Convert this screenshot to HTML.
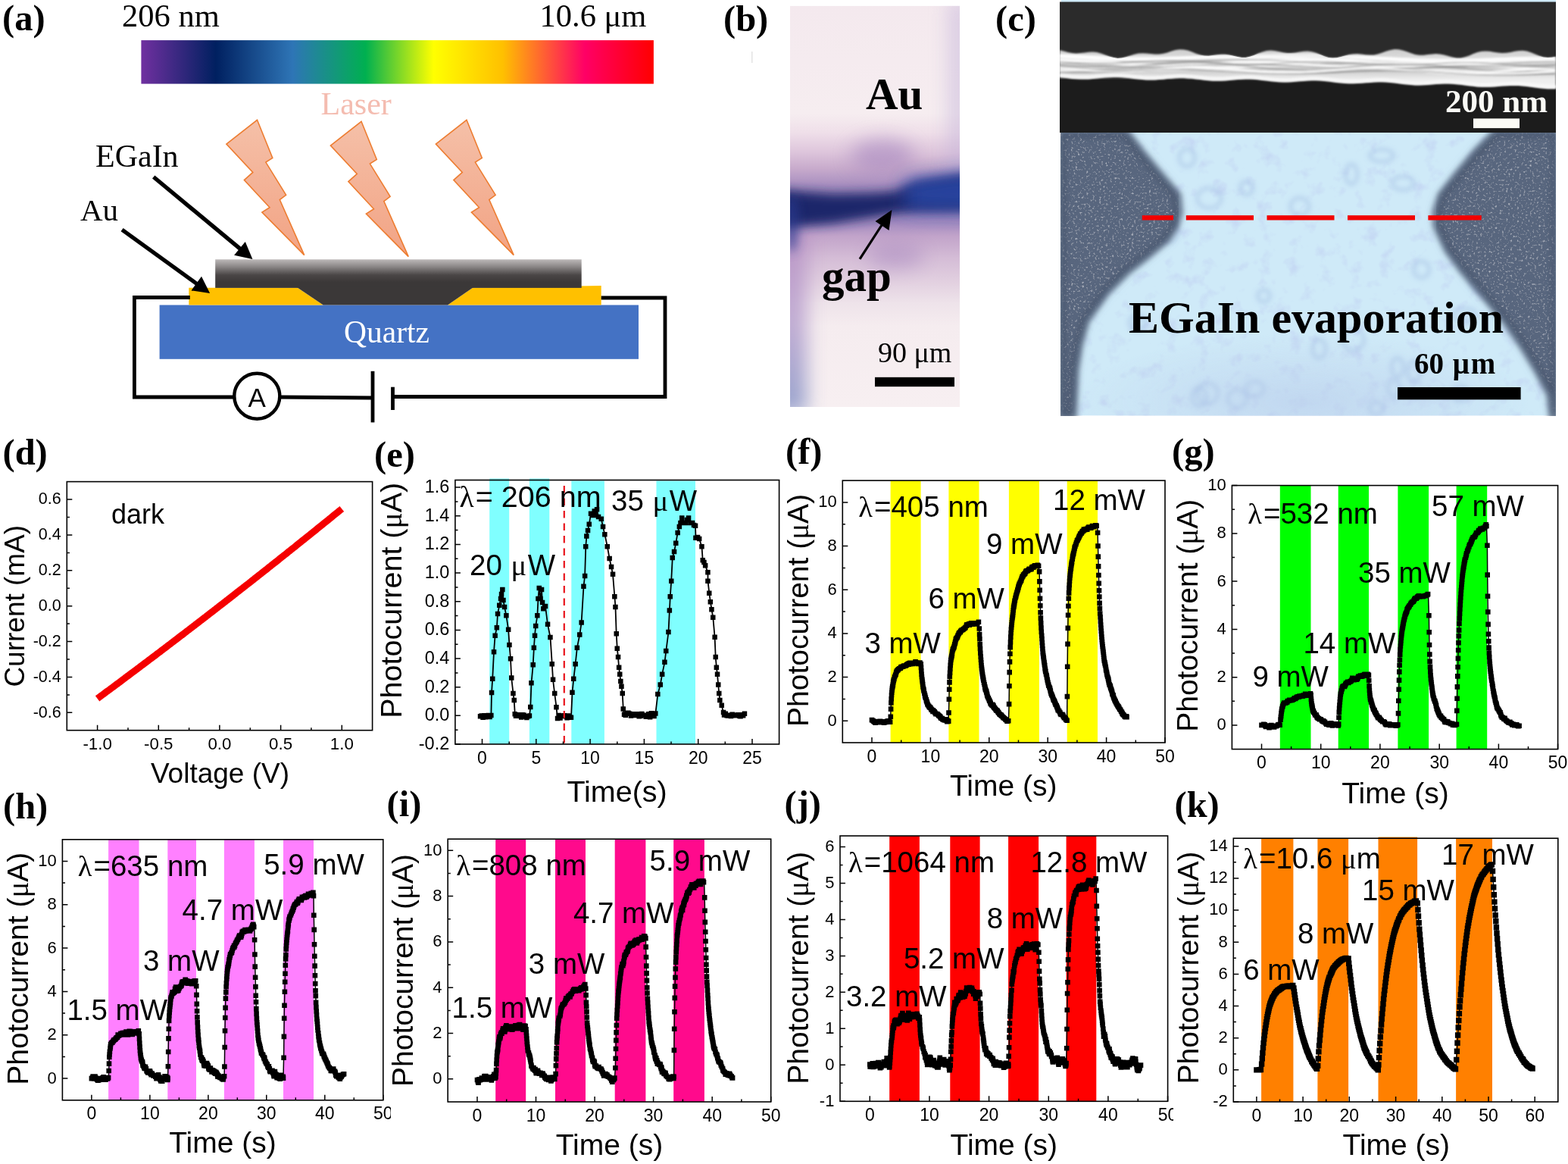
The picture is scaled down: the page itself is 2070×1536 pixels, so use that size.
<!DOCTYPE html><html><head><meta charset="utf-8"><title>Figure</title><style>html,body{margin:0;padding:0;background:#fff;}svg{display:block;}</style></head><body><svg xmlns="http://www.w3.org/2000/svg" width="2070" height="1536" viewBox="0 0 2070 1536"><defs><linearGradient id="spec" x1="0" y1="0" x2="1" y2="0"><stop offset="0" stop-color="#7030A0"/><stop offset="0.1455" stop-color="#002060"/><stop offset="0.2955" stop-color="#2E75B6"/><stop offset="0.438" stop-color="#00B050"/><stop offset="0.5706" stop-color="#FFFF00"/><stop offset="0.7056" stop-color="#FFC000"/><stop offset="0.8656" stop-color="#FF0066"/><stop offset="1" stop-color="#FF0000"/></linearGradient><linearGradient id="bolt" x1="0" y1="0" x2="0" y2="1"><stop offset="0" stop-color="#F5C0A8"/><stop offset="1" stop-color="#F2A384"/></linearGradient><linearGradient id="egain" x1="0" y1="0" x2="0" y2="1"><stop offset="0" stop-color="#BDB9B9"/><stop offset="0.25" stop-color="#8C8888"/><stop offset="0.55" stop-color="#4A4646"/><stop offset="0.8" stop-color="#3B3838"/><stop offset="1" stop-color="#3B3838"/></linearGradient><linearGradient id="bv" x1="0" y1="0" x2="0" y2="1"><stop offset="0.0000" stop-color="#F4E9EE"/><stop offset="0.2688" stop-color="#F6EDF0"/><stop offset="0.3161" stop-color="#EFDFE9"/><stop offset="0.3633" stop-color="#DEC6DC"/><stop offset="0.4049" stop-color="#C8ABCC"/><stop offset="0.4389" stop-color="#AE94C2"/><stop offset="0.4672" stop-color="#9A84B8"/><stop offset="0.5428" stop-color="#A48CC0"/><stop offset="0.5749" stop-color="#C2A4CA"/><stop offset="0.6278" stop-color="#D4BCD6"/><stop offset="0.6883" stop-color="#E2D0E0"/><stop offset="0.7412" stop-color="#EEE3EA"/><stop offset="0.7978" stop-color="#F5ECEF"/><stop offset="0.9991" stop-color="#F7EFF1"/></linearGradient><clipPath id="clipb"><rect x="1043" y="7.7" width="224" height="529.3"/></clipPath><filter id="bb7" filterUnits="userSpaceOnUse" x="0" y="0" width="2070" height="1536"><feGaussianBlur stdDeviation="7"/></filter><filter id="bb12" filterUnits="userSpaceOnUse" x="0" y="0" width="2070" height="1536"><feGaussianBlur stdDeviation="12"/></filter><linearGradient id="bleftv" x1="0" y1="0" x2="0" y2="1"><stop offset="0" stop-color="#B890C4"/><stop offset="0.5" stop-color="#B49CCC"/><stop offset="1" stop-color="#7E90C4"/></linearGradient><clipPath id="clipc"><rect x="1400.5" y="0" width="653.5" height="548.6"/></clipPath><clipPath id="clipsem"><rect x="1399" y="2.5" width="655" height="172.5"/></clipPath><filter id="blotch" filterUnits="userSpaceOnUse" x="1400" y="170" width="655" height="380"><feTurbulence type="fractalNoise" baseFrequency="0.05" numOctaves="3" seed="8"/><feColorMatrix type="matrix" values="0 0 0 0 0.52  0 0 0 0 0.62  0 0 0 0 0.88  3.2 0 0 0 -1.75"/></filter><filter id="noise" x="0" y="0" width="100%" height="100%"><feTurbulence type="fractalNoise" baseFrequency="0.35" numOctaves="2" seed="3" result="t"/><feColorMatrix type="matrix" values="0 0 0 0 0.85  0 0 0 0 0.88  0 0 0 0 0.95  0 0 0 1.6 -0.95" in="t" result="n"/><feComposite in="n" in2="SourceGraphic" operator="in" result="m"/><feMerge><feMergeNode in="SourceGraphic"/><feMergeNode in="m"/></feMerge></filter><filter id="blur3" filterUnits="userSpaceOnUse" x="0" y="0" width="2070" height="1536"><feGaussianBlur stdDeviation="3"/></filter><filter id="blur6" filterUnits="userSpaceOnUse" x="0" y="0" width="2070" height="1536"><feGaussianBlur stdDeviation="7"/></filter><radialGradient id="cshade" cx="0.5" cy="0.5" r="0.5"><stop offset="0" stop-color="#B8CBEA" stop-opacity="0.6"/><stop offset="1" stop-color="#B8CBEA" stop-opacity="0"/></radialGradient><linearGradient id="semb" x1="0" y1="0" x2="0" y2="1"><stop offset="0" stop-color="#CDCDCD"/><stop offset="0.3" stop-color="#E2E2E2"/><stop offset="0.5" stop-color="#C8C8C8"/><stop offset="0.75" stop-color="#ECECEC"/><stop offset="1" stop-color="#F7F7F7"/></linearGradient><filter id="blur1" filterUnits="userSpaceOnUse" x="0" y="0" width="2070" height="1536"><feGaussianBlur stdDeviation="1.2"/></filter><clipPath id="semband"><polygon points="1399,66.3 1404.5,67.5 1409.9,68.9 1415.4,69.9 1420.8,70.4 1426.3,70.1 1431.8,69.4 1437.2,68.7 1442.7,68.4 1448.1,69 1453.6,70.4 1459,72.4 1464.5,74.5 1470,76.1 1475.4,76.9 1480.9,76.6 1486.3,75.3 1491.8,73.5 1497.2,71.8 1502.7,70.6 1508.2,70.2 1513.6,70.4 1519.1,71.1 1524.5,71.6 1530,71.6 1535.5,70.8 1540.9,69.4 1546.4,67.6 1551.8,66 1557.3,65.2 1562.8,65.4 1568.2,66.6 1573.7,68.6 1579.1,70.7 1584.6,72.5 1590,73.5 1595.5,73.7 1601,73.1 1606.4,72.3 1611.9,71.7 1617.3,71.8 1622.8,72.5 1628.2,73.8 1633.7,75.1 1639.2,75.9 1644.6,75.9 1650.1,74.8 1655.5,72.9 1661,70.6 1666.5,68.5 1671.9,67.1 1677.4,66.6 1682.8,67 1688.3,68 1693.8,69.2 1699.2,69.9 1704.7,70 1710.1,69.4 1715.6,68.5 1721,67.7 1726.5,67.5 1732,68.2 1737.4,69.8 1742.9,72 1748.3,74.2 1753.8,75.9 1759.2,76.6 1764.7,76.3 1770.2,75.1 1775.6,73.5 1781.1,72 1786.5,71.2 1792,71 1797.5,71.5 1802.9,72.2 1808.4,72.6 1813.8,72.4 1819.3,71.3 1824.8,69.6 1830.2,67.6 1835.7,65.9 1841.1,65.1 1846.6,65.3 1852,66.5 1857.5,68.3 1863,70.3 1868.4,71.9 1873.9,72.7 1879.3,72.7 1884.8,72.1 1890.2,71.4 1895.7,71.1 1901.2,71.4 1906.6,72.5 1912.1,74 1917.5,75.5 1923,76.4 1928.5,76.4 1933.9,75.3 1939.4,73.4 1944.8,71.1 1950.3,69.1 1955.8,67.8 1961.2,67.4 1966.7,67.8 1972.1,68.7 1977.6,69.6 1983,70 1988.5,69.7 1994,68.9 1999.4,67.7 2004.9,66.9 2010.3,66.7 2015.8,67.5 2021.2,69.3 2026.7,71.5 2032.2,73.7 2037.6,75.4 2043.1,76.1 2048.5,75.8 2054,74.7 2054,117.2 2048.5,117.3 2043.1,117.2 2037.6,116.8 2032.2,116.3 2026.7,115.6 2021.2,114.8 2015.8,114.1 2010.3,113.5 2004.9,113.1 1999.4,112.9 1994,113 1988.5,113.2 1983,113.5 1977.6,114 1972.1,114.4 1966.7,114.7 1961.2,114.8 1955.8,114.7 1950.3,114.4 1944.8,113.8 1939.4,113.2 1933.9,112.5 1928.5,111.8 1923,111.2 1917.5,110.7 1912.1,110.5 1906.6,110.5 1901.2,110.7 1895.7,111.1 1890.2,111.5 1884.8,112 1879.3,112.3 1873.9,112.4 1868.4,112.4 1863,112.1 1857.5,111.6 1852,111 1846.6,110.3 1841.1,109.6 1835.7,109 1830.2,108.5 1824.8,108.3 1819.3,108.3 1813.8,108.5 1808.4,108.9 1802.9,109.3 1797.5,109.8 1792,110.1 1786.5,110.3 1781.1,110.3 1775.6,110 1770.2,109.6 1764.7,109 1759.2,108.3 1753.8,107.6 1748.3,107 1742.9,106.6 1737.4,106.3 1732,106.3 1726.5,106.5 1721,106.9 1715.6,107.3 1710.1,107.8 1704.7,108.2 1699.2,108.4 1693.8,108.4 1688.3,108.2 1682.8,107.8 1677.4,107.2 1671.9,106.6 1666.5,105.9 1661,105.3 1655.5,104.8 1650.1,104.6 1644.6,104.6 1639.2,104.8 1633.7,105.1 1628.2,105.6 1622.8,106.1 1617.3,106.5 1611.9,106.7 1606.4,106.8 1601,106.7 1595.5,106.3 1590,105.7 1584.6,105.1 1579.1,104.4 1573.7,103.8 1568.2,103.4 1562.8,103.1 1557.3,103.1 1551.8,103.3 1546.4,103.7 1540.9,104.1 1535.5,104.7 1530,105.1 1524.5,105.4 1519.1,105.5 1513.6,105.4 1508.2,105.1 1502.7,104.6 1497.2,104 1491.8,103.3 1486.3,102.7 1480.9,102.3 1475.4,102 1470,102 1464.5,102.2 1459,102.6 1453.6,103.1 1448.1,103.6 1442.7,104.1 1437.2,104.5 1431.8,104.6 1426.3,104.6 1420.8,104.3 1415.4,103.9 1409.9,103.3 1404.5,102.7 1399,102.2"/></clipPath><clipPath id="xc516"><rect x="0" y="0" width="516" height="1536"/></clipPath><clipPath id="xc1549"><rect x="0" y="0" width="1549" height="1536"/></clipPath></defs><rect width="2070" height="1536" fill="#fff"/><text x="3" y="40" font-family="'Liberation Serif', 'Times New Roman', serif" font-size="48.5" font-weight="bold" fill="#000" text-anchor="start" >(a)</text>
<rect x="186.4" y="53.1" width="676.5" height="57.5" fill="url(#spec)"/>
<text x="161" y="35" font-family="'Liberation Serif', 'Times New Roman', serif" font-size="42.5" font-weight="normal" fill="#000" text-anchor="start" >206 nm</text>
<text x="712.5" y="35" font-family="'Liberation Serif', 'Times New Roman', serif" font-size="42.5" font-weight="normal" fill="#000" text-anchor="start" >10.6 &#956;m</text>
<text x="423.5" y="150.8" font-family="'Liberation Serif', 'Times New Roman', serif" font-size="42" font-weight="normal" fill="#F4BCB0" text-anchor="start" >Laser</text>
<polygon points="339.5,158.3 359.8,208.4 350.9,214.1 377.6,257.3 369.3,263.6 401.7,336.6 345.9,280.1 356,273.8 322.4,237.6 333.8,227.4 298.9,190" fill="url(#bolt)" stroke="#ED7D31" stroke-width="1.6" stroke-linejoin="miter"/>
<polygon points="477,160.3 497.3,210.4 488.4,216.1 515.1,259.3 506.8,265.6 539.2,338.6 483.4,282.1 493.5,275.8 459.9,239.6 471.3,229.4 436.4,192" fill="url(#bolt)" stroke="#ED7D31" stroke-width="1.6" stroke-linejoin="miter"/>
<polygon points="616,158.3 636.3,208.4 627.4,214.1 654.1,257.3 645.8,263.6 678.2,336.6 622.4,280.1 632.5,273.8 598.9,237.6 610.3,227.4 575.4,190" fill="url(#bolt)" stroke="#ED7D31" stroke-width="1.6" stroke-linejoin="miter"/>
<rect x="210.6" y="402.5" width="632.4" height="71.3" fill="#4472C4"/>
<text x="454" y="452" font-family="'Liberation Serif', 'Times New Roman', serif" font-size="41.5" font-weight="normal" fill="#fff" text-anchor="start" >Quartz</text>
<polygon points="249.3,379.7 392.9,379.7 426.7,402.5 249.3,402.5" fill="#FFC000"/>
<polygon points="624,379.7 793.7,377 793.7,402.5 591,402.5" fill="#FFC000"/>
<rect x="284.2" y="342.3" width="483.5" height="37.6" fill="url(#egain)"/>
<polygon points="391.5,378.7 625.5,378.7 591,402.5 426.7,402.5" fill="#3B3838"/>
<text x="126" y="219.7" font-family="'Liberation Serif', 'Times New Roman', serif" font-size="42" font-weight="normal" fill="#000" text-anchor="start" >EGaIn</text>
<text x="106" y="290.8" font-family="'Liberation Serif', 'Times New Roman', serif" font-size="41" font-weight="normal" fill="#000" text-anchor="start" >Au</text>
<line x1="202.7" y1="233.5" x2="318" y2="329.1" stroke="#000" stroke-width="5.3"/>
<polygon points="333.4,341.9 309.1,336.7 323.8,319" fill="#000"/>
<line x1="161.1" y1="303.2" x2="260.9" y2="375.3" stroke="#000" stroke-width="5.3"/>
<polygon points="277.1,387 252.5,383.4 266,364.8" fill="#000"/>
<polyline points="250.8,392.5 177.4,392.5 177.4,524 309,524" fill="none" stroke="#000" stroke-width="4.8" stroke-linejoin="miter"/>
<line x1="369.5" y1="524" x2="492" y2="525" stroke="#000" stroke-width="4.8"/>
<polyline points="793.7,393 878,393 878,523.5 518.5,523.5" fill="none" stroke="#000" stroke-width="4.8" stroke-linejoin="miter"/>
<circle cx="339.3" cy="522.7" r="30" fill="#fff" stroke="#000" stroke-width="4.4"/>
<text x="339.3" y="537.2" font-family="'Liberation Sans', Arial, sans-serif" font-size="35" font-weight="normal" fill="#000" text-anchor="middle" >A</text>
<line x1="492" y1="489.8" x2="492" y2="557.4" stroke="#000" stroke-width="4.8"/>
<line x1="518.5" y1="510.7" x2="518.5" y2="541" stroke="#000" stroke-width="4.8"/>
<text x="955" y="41" font-family="'Liberation Serif', 'Times New Roman', serif" font-size="48.5" font-weight="bold" fill="#000" text-anchor="start" >(b)</text>
<line x1="992.8" y1="68" x2="992.8" y2="83" stroke="#A0A0A0" stroke-width="1.2" opacity="0.35"/>
<g clip-path="url(#clipb)">
<rect x="1043" y="7.7" width="224" height="529.3" fill="url(#bv)"/>
<ellipse cx="1165" cy="205" rx="42" ry="22" fill="#A282BC" opacity="0.55" filter="url(#bb12)"/>
<ellipse cx="1182" cy="338" rx="38" ry="16" fill="#A080BC" opacity="0.45" filter="url(#bb12)"/>
<rect x="1252" y="0" width="30" height="230" fill="#C4B4DA" opacity="0.55" filter="url(#bb12)"/>
<rect x="1020" y="300" width="45" height="245" fill="url(#bleftv)" opacity="0.8" filter="url(#bb12)"/>
<polygon points="1030,251 1100,256 1150,255 1180,253 1210,240 1280,229 1280,278 1210,279 1180,282 1150,287 1100,295 1030,301" fill="#1C276A" filter="url(#bb7)"/>
<polygon points="1195,238 1290,226 1290,278 1195,276" fill="#2A4CAC" opacity="0.8" filter="url(#bb12)"/>
<ellipse cx="1045" cy="295" rx="9" ry="38" fill="#2A3A90" opacity="0.7" filter="url(#bb7)"/>
</g>
<text x="1143" y="144" font-family="'Liberation Serif', 'Times New Roman', serif" font-size="59" font-weight="bold" fill="#000" text-anchor="start" >Au</text>
<text x="1085" y="384" font-family="'Liberation Serif', 'Times New Roman', serif" font-size="59" font-weight="bold" fill="#000" text-anchor="start" >gap</text>
<line x1="1135" y1="341.8" x2="1166" y2="294" stroke="#000" stroke-width="3.2"/>
<polygon points="1177.4,277 1173.6,304 1155.5,292" fill="#000"/>
<text x="1159" y="478" font-family="'Liberation Serif', 'Times New Roman', serif" font-size="38" font-weight="normal" fill="#000" text-anchor="start" >90 &#956;m</text>
<rect x="1155" y="497.8" width="105" height="12.4" fill="#000"/>
<text x="1314" y="41" font-family="'Liberation Serif', 'Times New Roman', serif" font-size="48.5" font-weight="bold" fill="#000" text-anchor="start" >(c)</text>
<g clip-path="url(#clipc)">
<rect x="1400.5" y="0" width="653.5" height="548.6" fill="#CFEAF8"/>
<rect x="1400" y="170" width="655" height="380" filter="url(#blotch)" opacity="0.55"/>
<g filter="url(#blur3)"><ellipse cx="1786.5" cy="448.3" rx="14.4" ry="13.7" fill="none" stroke="#9AB4E0" stroke-width="4" opacity="0.5"/><ellipse cx="1840.4" cy="512.4" rx="8.2" ry="10.8" fill="none" stroke="#9AB4E0" stroke-width="4" opacity="0.5"/><ellipse cx="1933.9" cy="415.4" rx="15.2" ry="8.7" fill="none" stroke="#9AB4E0" stroke-width="4" opacity="0.5"/><ellipse cx="1715.8" cy="272.5" rx="12.4" ry="11.4" fill="none" stroke="#9AB4E0" stroke-width="4" opacity="0.5"/><ellipse cx="1506" cy="261.9" rx="10.2" ry="13.5" fill="none" stroke="#9AB4E0" stroke-width="4" opacity="0.5"/><ellipse cx="1852.2" cy="241.7" rx="14.4" ry="8.8" fill="none" stroke="#9AB4E0" stroke-width="4" opacity="0.5"/><ellipse cx="1784" cy="230" rx="8" ry="13.2" fill="none" stroke="#9AB4E0" stroke-width="4" opacity="0.5"/><ellipse cx="1596.3" cy="261.5" rx="15.9" ry="13.2" fill="none" stroke="#9AB4E0" stroke-width="4" opacity="0.5"/><ellipse cx="1633.1" cy="526.3" rx="12.3" ry="12.1" fill="none" stroke="#9AB4E0" stroke-width="4" opacity="0.5"/><ellipse cx="1594.2" cy="519" rx="13.5" ry="13.8" fill="none" stroke="#9AB4E0" stroke-width="4" opacity="0.5"/><ellipse cx="1911.1" cy="291.1" rx="10.9" ry="9" fill="none" stroke="#9AB4E0" stroke-width="4" opacity="0.5"/><ellipse cx="1567" cy="208.1" rx="10.4" ry="11.6" fill="none" stroke="#9AB4E0" stroke-width="4" opacity="0.5"/><ellipse cx="1501.6" cy="425.7" rx="10.7" ry="9.9" fill="none" stroke="#9AB4E0" stroke-width="4" opacity="0.5"/><ellipse cx="1876.5" cy="355.7" rx="10.5" ry="10.9" fill="none" stroke="#9AB4E0" stroke-width="4" opacity="0.5"/><ellipse cx="1824.1" cy="205.2" rx="15.8" ry="8.1" fill="none" stroke="#9AB4E0" stroke-width="4" opacity="0.5"/><ellipse cx="1844.9" cy="484.9" rx="8.1" ry="12.7" fill="none" stroke="#9AB4E0" stroke-width="4" opacity="0.5"/><ellipse cx="1668.4" cy="390.4" rx="8.1" ry="8.3" fill="none" stroke="#9AB4E0" stroke-width="4" opacity="0.5"/><ellipse cx="1583.2" cy="524.1" rx="9.6" ry="12.5" fill="none" stroke="#9AB4E0" stroke-width="4" opacity="0.5"/><ellipse cx="1927.6" cy="519.4" rx="10.8" ry="10.1" fill="none" stroke="#9AB4E0" stroke-width="4" opacity="0.5"/><ellipse cx="1741.4" cy="460.3" rx="8.9" ry="12.5" fill="none" stroke="#9AB4E0" stroke-width="4" opacity="0.5"/><ellipse cx="1866.7" cy="490.2" rx="8.3" ry="13.7" fill="none" stroke="#9AB4E0" stroke-width="4" opacity="0.5"/><ellipse cx="1541.9" cy="306" rx="12.9" ry="13.5" fill="none" stroke="#9AB4E0" stroke-width="4" opacity="0.5"/><ellipse cx="1656.4" cy="513.1" rx="12.4" ry="9.9" fill="none" stroke="#9AB4E0" stroke-width="4" opacity="0.5"/><ellipse cx="1645.7" cy="248" rx="8.6" ry="8.9" fill="none" stroke="#9AB4E0" stroke-width="4" opacity="0.5"/><ellipse cx="1817" cy="538.8" rx="9.3" ry="8.3" fill="none" stroke="#9AB4E0" stroke-width="4" opacity="0.5"/><ellipse cx="1953.9" cy="374.4" rx="11.2" ry="9.4" fill="none" stroke="#9AB4E0" stroke-width="4" opacity="0.5"/></g>
<ellipse cx="1720" cy="530" rx="300" ry="90" fill="url(#cshade)"/>
<polygon points="1400.5,175 1486,175 1505,200 1530,230 1554,258 1556,280 1551,298 1540,315 1510,340 1488,357 1460,385 1433,423 1424,455 1419,488 1416,548.6 1400.5,548.6" fill="#8A9CB8" filter="url(#blur6)"/>
<g filter="url(#noise)"><polygon points="1400.5,175 1486,175 1505,200 1530,230 1554,258 1556,280 1551,298 1540,315 1510,340 1488,357 1460,385 1433,423 1424,455 1419,488 1416,548.6 1400.5,548.6" fill="#58667E" filter="url(#blur3)"/></g>
<polygon points="1400.5,175 1486,175 1505,200 1530,230 1554,258 1556,280 1551,298 1540,315 1510,340 1488,357 1460,385 1433,423 1424,455 1419,488 1416,548.6 1400.5,548.6" fill="none" stroke="#3E4C64" stroke-width="12" opacity="0.6" filter="url(#blur3)"/>
<polygon points="2054,175 1975,175 1950,200 1925,230 1903,258 1896,280 1897,298 1912,330 1932,357 1960,390 1988,423 2010,455 2030,488 2047,520 2050,548.6 2054,548.6" fill="#8A9CB8" filter="url(#blur6)"/>
<g filter="url(#noise)"><polygon points="2054,175 1975,175 1950,200 1925,230 1903,258 1896,280 1897,298 1912,330 1932,357 1960,390 1988,423 2010,455 2030,488 2047,520 2050,548.6 2054,548.6" fill="#58667E" filter="url(#blur3)"/></g>
<polygon points="2054,175 1975,175 1950,200 1925,230 1903,258 1896,280 1897,298 1912,330 1932,357 1960,390 1988,423 2010,455 2030,488 2047,520 2050,548.6 2054,548.6" fill="none" stroke="#3E4C64" stroke-width="12" opacity="0.6" filter="url(#blur3)"/>
</g>
<g clip-path="url(#clipsem)">
<rect x="1399" y="2.5" width="655" height="172.5" fill="#2B2B2B"/>
<rect x="1399" y="105" width="655" height="70" fill="#1C1C1C"/>
<polygon points="1399,66.3 1404.5,67.5 1409.9,68.9 1415.4,69.9 1420.8,70.4 1426.3,70.1 1431.8,69.4 1437.2,68.7 1442.7,68.4 1448.1,69 1453.6,70.4 1459,72.4 1464.5,74.5 1470,76.1 1475.4,76.9 1480.9,76.6 1486.3,75.3 1491.8,73.5 1497.2,71.8 1502.7,70.6 1508.2,70.2 1513.6,70.4 1519.1,71.1 1524.5,71.6 1530,71.6 1535.5,70.8 1540.9,69.4 1546.4,67.6 1551.8,66 1557.3,65.2 1562.8,65.4 1568.2,66.6 1573.7,68.6 1579.1,70.7 1584.6,72.5 1590,73.5 1595.5,73.7 1601,73.1 1606.4,72.3 1611.9,71.7 1617.3,71.8 1622.8,72.5 1628.2,73.8 1633.7,75.1 1639.2,75.9 1644.6,75.9 1650.1,74.8 1655.5,72.9 1661,70.6 1666.5,68.5 1671.9,67.1 1677.4,66.6 1682.8,67 1688.3,68 1693.8,69.2 1699.2,69.9 1704.7,70 1710.1,69.4 1715.6,68.5 1721,67.7 1726.5,67.5 1732,68.2 1737.4,69.8 1742.9,72 1748.3,74.2 1753.8,75.9 1759.2,76.6 1764.7,76.3 1770.2,75.1 1775.6,73.5 1781.1,72 1786.5,71.2 1792,71 1797.5,71.5 1802.9,72.2 1808.4,72.6 1813.8,72.4 1819.3,71.3 1824.8,69.6 1830.2,67.6 1835.7,65.9 1841.1,65.1 1846.6,65.3 1852,66.5 1857.5,68.3 1863,70.3 1868.4,71.9 1873.9,72.7 1879.3,72.7 1884.8,72.1 1890.2,71.4 1895.7,71.1 1901.2,71.4 1906.6,72.5 1912.1,74 1917.5,75.5 1923,76.4 1928.5,76.4 1933.9,75.3 1939.4,73.4 1944.8,71.1 1950.3,69.1 1955.8,67.8 1961.2,67.4 1966.7,67.8 1972.1,68.7 1977.6,69.6 1983,70 1988.5,69.7 1994,68.9 1999.4,67.7 2004.9,66.9 2010.3,66.7 2015.8,67.5 2021.2,69.3 2026.7,71.5 2032.2,73.7 2037.6,75.4 2043.1,76.1 2048.5,75.8 2054,74.7 2054,117.2 2048.5,117.3 2043.1,117.2 2037.6,116.8 2032.2,116.3 2026.7,115.6 2021.2,114.8 2015.8,114.1 2010.3,113.5 2004.9,113.1 1999.4,112.9 1994,113 1988.5,113.2 1983,113.5 1977.6,114 1972.1,114.4 1966.7,114.7 1961.2,114.8 1955.8,114.7 1950.3,114.4 1944.8,113.8 1939.4,113.2 1933.9,112.5 1928.5,111.8 1923,111.2 1917.5,110.7 1912.1,110.5 1906.6,110.5 1901.2,110.7 1895.7,111.1 1890.2,111.5 1884.8,112 1879.3,112.3 1873.9,112.4 1868.4,112.4 1863,112.1 1857.5,111.6 1852,111 1846.6,110.3 1841.1,109.6 1835.7,109 1830.2,108.5 1824.8,108.3 1819.3,108.3 1813.8,108.5 1808.4,108.9 1802.9,109.3 1797.5,109.8 1792,110.1 1786.5,110.3 1781.1,110.3 1775.6,110 1770.2,109.6 1764.7,109 1759.2,108.3 1753.8,107.6 1748.3,107 1742.9,106.6 1737.4,106.3 1732,106.3 1726.5,106.5 1721,106.9 1715.6,107.3 1710.1,107.8 1704.7,108.2 1699.2,108.4 1693.8,108.4 1688.3,108.2 1682.8,107.8 1677.4,107.2 1671.9,106.6 1666.5,105.9 1661,105.3 1655.5,104.8 1650.1,104.6 1644.6,104.6 1639.2,104.8 1633.7,105.1 1628.2,105.6 1622.8,106.1 1617.3,106.5 1611.9,106.7 1606.4,106.8 1601,106.7 1595.5,106.3 1590,105.7 1584.6,105.1 1579.1,104.4 1573.7,103.8 1568.2,103.4 1562.8,103.1 1557.3,103.1 1551.8,103.3 1546.4,103.7 1540.9,104.1 1535.5,104.7 1530,105.1 1524.5,105.4 1519.1,105.5 1513.6,105.4 1508.2,105.1 1502.7,104.6 1497.2,104 1491.8,103.3 1486.3,102.7 1480.9,102.3 1475.4,102 1470,102 1464.5,102.2 1459,102.6 1453.6,103.1 1448.1,103.6 1442.7,104.1 1437.2,104.5 1431.8,104.6 1426.3,104.6 1420.8,104.3 1415.4,103.9 1409.9,103.3 1404.5,102.7 1399,102.2" fill="url(#semb)" filter="url(#blur1)"/>
<g clip-path="url(#semband)"><g filter="url(#blur1)"><path d="M1399,86.3 L1405,86.7 L1411,87.1 L1417,87.5 L1423,87.8 L1429,88.2 L1435,88.6 L1441,89 L1447,89.3 L1453,89.7 L1459,90 L1465,90.3 L1471,90.6 L1477,90.9 L1483,91.1 L1489,91.3 L1495,91.5 L1501,91.7 L1507,91.8 L1513,91.9 L1519,92 L1525,92 L1531,92 L1537,92 L1543,91.9 L1549,91.8 L1555,91.7 L1561,91.6 L1567,91.4 L1573,91.2 L1579,91 L1585,90.7 L1591,90.5 L1597,90.2 L1603,89.9 L1609,89.6 L1615,89.3 L1621,89 L1627,88.7 L1633,88.4 L1639,88.1 L1645,87.8 L1651,87.5 L1657,87.2 L1663,87 L1669,86.8 L1675,86.5 L1681,86.4 L1687,86.2 L1693,86.1 L1699,86 L1705,85.9 L1711,85.9 L1717,85.8 L1723,85.9 L1729,85.9 L1735,86 L1741,86.1 L1747,86.3 L1753,86.5 L1759,86.7 L1765,86.9 L1771,87.2 L1777,87.5 L1783,87.8 L1789,88.1 L1795,88.4 L1801,88.8 L1807,89.2 L1813,89.5 L1819,89.9 L1825,90.3 L1831,90.7 L1837,91 L1843,91.4 L1849,91.8 L1855,92.1 L1861,92.5 L1867,92.8 L1873,93.1 L1879,93.3 L1885,93.6 L1891,93.8 L1897,94 L1903,94.1 L1909,94.3 L1915,94.4 L1921,94.4 L1927,94.5 L1933,94.5 L1939,94.4 L1945,94.4 L1951,94.3 L1957,94.2 L1963,94 L1969,93.8 L1975,93.6 L1981,93.4 L1987,93.2 L1993,92.9 L1999,92.6 L2005,92.3 L2011,92 L2017,91.7 L2023,91.4 L2029,91.1 L2035,90.8 L2041,90.5 L2047,90.2 L2053,90" fill="none" stroke="#FFFFFF" stroke-width="3.8" opacity="0.75"/><path d="M1399,94.2 L1405,94.2 L1411,94.2 L1417,94.1 L1423,94 L1429,93.9 L1435,93.8 L1441,93.6 L1447,93.4 L1453,93.1 L1459,92.9 L1465,92.6 L1471,92.3 L1477,92 L1483,91.8 L1489,91.5 L1495,91.2 L1501,91 L1507,90.7 L1513,90.5 L1519,90.4 L1525,90.2 L1531,90.1 L1537,90 L1543,90 L1549,90 L1555,90 L1561,90.1 L1567,90.2 L1573,90.4 L1579,90.6 L1585,90.8 L1591,91 L1597,91.3 L1603,91.6 L1609,92 L1615,92.3 L1621,92.6 L1627,93 L1633,93.4 L1639,93.7 L1645,94 L1651,94.4 L1657,94.7 L1663,95 L1669,95.2 L1675,95.4 L1681,95.6 L1687,95.8 L1693,95.9 L1699,96 L1705,96 L1711,96 L1717,96 L1723,95.9 L1729,95.8 L1735,95.7 L1741,95.5 L1747,95.3 L1753,95.1 L1759,94.8 L1765,94.6 L1771,94.3 L1777,94 L1783,93.7 L1789,93.5 L1795,93.2 L1801,92.9 L1807,92.7 L1813,92.5 L1819,92.3 L1825,92.1 L1831,92 L1837,91.9 L1843,91.9 L1849,91.8 L1855,91.9 L1861,91.9 L1867,92 L1873,92.1 L1879,92.3 L1885,92.5 L1891,92.8 L1897,93 L1903,93.3 L1909,93.6 L1915,94 L1921,94.3 L1927,94.7 L1933,95 L1939,95.4 L1945,95.7 L1951,96.1 L1957,96.4 L1963,96.7 L1969,96.9 L1975,97.2 L1981,97.4 L1987,97.6 L1993,97.7 L1999,97.8 L2005,97.9 L2011,97.9 L2017,97.9 L2023,97.8 L2029,97.7 L2035,97.6 L2041,97.5 L2047,97.3 L2053,97.1" fill="none" stroke="#8C8C8C" stroke-width="2.7" opacity="0.45"/><path d="M1399,73.9 L1405,74 L1411,74.1 L1417,74.4 L1423,74.7 L1429,75.1 L1435,75.6 L1441,76.1 L1447,76.7 L1453,77.3 L1459,77.9 L1465,78.4 L1471,78.9 L1477,79.4 L1483,79.8 L1489,80 L1495,80.3 L1501,80.4 L1507,80.4 L1513,80.3 L1519,80.1 L1525,79.8 L1531,79.4 L1537,79 L1543,78.5 L1549,78.1 L1555,77.5 L1561,77.1 L1567,76.6 L1573,76.2 L1579,75.8 L1585,75.5 L1591,75.3 L1597,75.2 L1603,75.2 L1609,75.2 L1615,75.4 L1621,75.7 L1627,76.1 L1633,76.5 L1639,77 L1645,77.6 L1651,78.1 L1657,78.7 L1663,79.3 L1669,79.8 L1675,80.3 L1681,80.7 L1687,81.1 L1693,81.4 L1699,81.5 L1705,81.6 L1711,81.6 L1717,81.4 L1723,81.2 L1729,80.9 L1735,80.5 L1741,80.1 L1747,79.6 L1753,79.1 L1759,78.6 L1765,78.1 L1771,77.7 L1777,77.2 L1783,76.9 L1789,76.6 L1795,76.5 L1801,76.4 L1807,76.4 L1813,76.5 L1819,76.8 L1825,77.1 L1831,77.5 L1837,77.9 L1843,78.4 L1849,79 L1855,79.6 L1861,80.2 L1867,80.7 L1873,81.2 L1879,81.7 L1885,82.1 L1891,82.4 L1897,82.7 L1903,82.8 L1909,82.8 L1915,82.8 L1921,82.6 L1927,82.3 L1933,82 L1939,81.6 L1945,81.2 L1951,80.7 L1957,80.2 L1963,79.7 L1969,79.2 L1975,78.7 L1981,78.3 L1987,78 L1993,77.8 L1999,77.7 L2005,77.6 L2011,77.7 L2017,77.8 L2023,78.1 L2029,78.4 L2035,78.9 L2041,79.3 L2047,79.9 L2053,80.4" fill="none" stroke="#FFFFFF" stroke-width="4.2" opacity="0.75"/><path d="M1399,76.8 L1405,77.3 L1411,77.7 L1417,78.1 L1423,78.5 L1429,78.9 L1435,79.3 L1441,79.6 L1447,79.9 L1453,80.1 L1459,80.3 L1465,80.5 L1471,80.6 L1477,80.7 L1483,80.7 L1489,80.7 L1495,80.7 L1501,80.6 L1507,80.5 L1513,80.3 L1519,80.1 L1525,79.9 L1531,79.6 L1537,79.3 L1543,79 L1549,78.7 L1555,78.3 L1561,77.9 L1567,77.5 L1573,77.1 L1579,76.7 L1585,76.3 L1591,75.9 L1597,75.5 L1603,75.1 L1609,74.7 L1615,74.3 L1621,74 L1627,73.6 L1633,73.3 L1639,73 L1645,72.8 L1651,72.6 L1657,72.4 L1663,72.2 L1669,72.1 L1675,72.1 L1681,72.1 L1687,72.1 L1693,72.1 L1699,72.2 L1705,72.4 L1711,72.6 L1717,72.8 L1723,73 L1729,73.3 L1735,73.6 L1741,74 L1747,74.4 L1753,74.8 L1759,75.2 L1765,75.7 L1771,76.1 L1777,76.6 L1783,77.1 L1789,77.6 L1795,78.1 L1801,78.6 L1807,79 L1813,79.5 L1819,80 L1825,80.4 L1831,80.8 L1837,81.2 L1843,81.6 L1849,81.9 L1855,82.2 L1861,82.5 L1867,82.7 L1873,82.9 L1879,83 L1885,83.1 L1891,83.2 L1897,83.2 L1903,83.2 L1909,83.2 L1915,83.1 L1921,82.9 L1927,82.8 L1933,82.6 L1939,82.3 L1945,82 L1951,81.7 L1957,81.4 L1963,81.1 L1969,80.7 L1975,80.3 L1981,79.9 L1987,79.5 L1993,79.1 L1999,78.7 L2005,78.2 L2011,77.8 L2017,77.4 L2023,77.1 L2029,76.7 L2035,76.3 L2041,76 L2047,75.7 L2053,75.4" fill="none" stroke="#8C8C8C" stroke-width="2.4" opacity="0.45"/><path d="M1399,77.4 L1405,77.2 L1411,77.1 L1417,77 L1423,76.9 L1429,76.9 L1435,76.9 L1441,76.9 L1447,77 L1453,77.1 L1459,77.2 L1465,77.3 L1471,77.5 L1477,77.7 L1483,77.9 L1489,78.2 L1495,78.4 L1501,78.7 L1507,79 L1513,79.3 L1519,79.6 L1525,79.8 L1531,80.1 L1537,80.4 L1543,80.7 L1549,80.9 L1555,81.1 L1561,81.3 L1567,81.5 L1573,81.7 L1579,81.8 L1585,81.9 L1591,81.9 L1597,82 L1603,82 L1609,81.9 L1615,81.9 L1621,81.8 L1627,81.7 L1633,81.6 L1639,81.4 L1645,81.2 L1651,81 L1657,80.8 L1663,80.6 L1669,80.4 L1675,80.2 L1681,80 L1687,79.8 L1693,79.6 L1699,79.4 L1705,79.3 L1711,79.1 L1717,79 L1723,78.9 L1729,78.8 L1735,78.8 L1741,78.8 L1747,78.8 L1753,78.9 L1759,78.9 L1765,79.1 L1771,79.2 L1777,79.4 L1783,79.6 L1789,79.8 L1795,80 L1801,80.3 L1807,80.5 L1813,80.8 L1819,81.1 L1825,81.4 L1831,81.7 L1837,82 L1843,82.2 L1849,82.5 L1855,82.7 L1861,83 L1867,83.2 L1873,83.4 L1879,83.5 L1885,83.6 L1891,83.7 L1897,83.8 L1903,83.8 L1909,83.9 L1915,83.8 L1921,83.8 L1927,83.7 L1933,83.6 L1939,83.5 L1945,83.3 L1951,83.1 L1957,82.9 L1963,82.7 L1969,82.5 L1975,82.3 L1981,82.1 L1987,81.9 L1993,81.7 L1999,81.5 L2005,81.3 L2011,81.2 L2017,81 L2023,80.9 L2029,80.8 L2035,80.7 L2041,80.7 L2047,80.7 L2053,80.7" fill="none" stroke="#FFFFFF" stroke-width="3" opacity="0.75"/><path d="M1399,83.3 L1405,83.4 L1411,83.4 L1417,83.3 L1423,83.3 L1429,83.2 L1435,83.1 L1441,82.9 L1447,82.7 L1453,82.5 L1459,82.3 L1465,82.1 L1471,81.9 L1477,81.6 L1483,81.4 L1489,81.2 L1495,81 L1501,80.8 L1507,80.6 L1513,80.4 L1519,80.3 L1525,80.2 L1531,80.1 L1537,80.1 L1543,80.1 L1549,80.1 L1555,80.1 L1561,80.2 L1567,80.4 L1573,80.5 L1579,80.7 L1585,80.9 L1591,81.2 L1597,81.4 L1603,81.7 L1609,82 L1615,82.3 L1621,82.6 L1627,82.9 L1633,83.2 L1639,83.5 L1645,83.8 L1651,84.1 L1657,84.3 L1663,84.5 L1669,84.7 L1675,84.9 L1681,85 L1687,85.1 L1693,85.1 L1699,85.2 L1705,85.2 L1711,85.1 L1717,85 L1723,84.9 L1729,84.8 L1735,84.6 L1741,84.4 L1747,84.2 L1753,84 L1759,83.8 L1765,83.6 L1771,83.3 L1777,83.1 L1783,82.9 L1789,82.7 L1795,82.5 L1801,82.3 L1807,82.1 L1813,82 L1819,81.9 L1825,81.9 L1831,81.8 L1837,81.8 L1843,81.9 L1849,82 L1855,82.1 L1861,82.2 L1867,82.4 L1873,82.6 L1879,82.8 L1885,83.1 L1891,83.3 L1897,83.6 L1903,83.9 L1909,84.2 L1915,84.5 L1921,84.8 L1927,85.1 L1933,85.4 L1939,85.7 L1945,86 L1951,86.2 L1957,86.4 L1963,86.6 L1969,86.7 L1975,86.8 L1981,86.9 L1987,86.9 L1993,86.9 L1999,86.9 L2005,86.9 L2011,86.8 L2017,86.6 L2023,86.5 L2029,86.3 L2035,86.1 L2041,85.9 L2047,85.7 L2053,85.5" fill="none" stroke="#8C8C8C" stroke-width="2.8" opacity="0.45"/><path d="M1399,93.1 L1405,92.9 L1411,92.6 L1417,92.3 L1423,91.9 L1429,91.6 L1435,91.1 L1441,90.7 L1447,90.3 L1453,89.8 L1459,89.4 L1465,88.9 L1471,88.5 L1477,88.1 L1483,87.7 L1489,87.4 L1495,87.1 L1501,86.8 L1507,86.6 L1513,86.5 L1519,86.4 L1525,86.4 L1531,86.5 L1537,86.6 L1543,86.8 L1549,87 L1555,87.3 L1561,87.6 L1567,88 L1573,88.4 L1579,88.9 L1585,89.4 L1591,89.9 L1597,90.4 L1603,90.9 L1609,91.4 L1615,92 L1621,92.5 L1627,92.9 L1633,93.4 L1639,93.8 L1645,94.2 L1651,94.5 L1657,94.7 L1663,94.9 L1669,95.1 L1675,95.2 L1681,95.2 L1687,95.2 L1693,95.1 L1699,94.9 L1705,94.7 L1711,94.4 L1717,94.1 L1723,93.8 L1729,93.4 L1735,93 L1741,92.6 L1747,92.1 L1753,91.6 L1759,91.2 L1765,90.7 L1771,90.3 L1777,89.9 L1783,89.5 L1789,89.2 L1795,88.9 L1801,88.7 L1807,88.5 L1813,88.3 L1819,88.3 L1825,88.3 L1831,88.3 L1837,88.4 L1843,88.6 L1849,88.8 L1855,89.1 L1861,89.4 L1867,89.8 L1873,90.2 L1879,90.7 L1885,91.2 L1891,91.7 L1897,92.2 L1903,92.7 L1909,93.3 L1915,93.8 L1921,94.3 L1927,94.8 L1933,95.2 L1939,95.6 L1945,96 L1951,96.3 L1957,96.6 L1963,96.8 L1969,96.9 L1975,97 L1981,97 L1987,97 L1993,96.9 L1999,96.8 L2005,96.5 L2011,96.3 L2017,96 L2023,95.6 L2029,95.2 L2035,94.8 L2041,94.4 L2047,93.9 L2053,93.5" fill="none" stroke="#FFFFFF" stroke-width="3.6" opacity="0.75"/><path d="M1399,86.8 L1405,87 L1411,87.2 L1417,87.4 L1423,87.5 L1429,87.5 L1435,87.5 L1441,87.5 L1447,87.5 L1453,87.4 L1459,87.2 L1465,87.1 L1471,86.8 L1477,86.6 L1483,86.3 L1489,86 L1495,85.7 L1501,85.4 L1507,85 L1513,84.6 L1519,84.2 L1525,83.8 L1531,83.4 L1537,83 L1543,82.6 L1549,82.2 L1555,81.8 L1561,81.4 L1567,81 L1573,80.7 L1579,80.3 L1585,80 L1591,79.8 L1597,79.5 L1603,79.3 L1609,79.1 L1615,79 L1621,78.9 L1627,78.8 L1633,78.8 L1639,78.8 L1645,78.9 L1651,79 L1657,79.1 L1663,79.3 L1669,79.5 L1675,79.7 L1681,80 L1687,80.3 L1693,80.7 L1699,81.1 L1705,81.5 L1711,81.9 L1717,82.3 L1723,82.8 L1729,83.3 L1735,83.7 L1741,84.2 L1747,84.7 L1753,85.2 L1759,85.7 L1765,86.1 L1771,86.6 L1777,87 L1783,87.5 L1789,87.9 L1795,88.2 L1801,88.6 L1807,88.9 L1813,89.2 L1819,89.4 L1825,89.6 L1831,89.8 L1837,89.9 L1843,90 L1849,90.1 L1855,90.1 L1861,90.1 L1867,90 L1873,89.9 L1879,89.8 L1885,89.6 L1891,89.4 L1897,89.1 L1903,88.8 L1909,88.5 L1915,88.2 L1921,87.9 L1927,87.5 L1933,87.1 L1939,86.7 L1945,86.3 L1951,85.9 L1957,85.5 L1963,85.1 L1969,84.7 L1975,84.3 L1981,83.9 L1987,83.5 L1993,83.2 L1999,82.9 L2005,82.6 L2011,82.3 L2017,82.1 L2023,81.8 L2029,81.7 L2035,81.5 L2041,81.4 L2047,81.4 L2053,81.4" fill="none" stroke="#8C8C8C" stroke-width="2.6" opacity="0.45"/><path d="M1399,81 L1405,80.9 L1411,80.9 L1417,80.9 L1423,80.9 L1429,81.1 L1435,81.3 L1441,81.5 L1447,81.8 L1453,82.1 L1459,82.5 L1465,82.9 L1471,83.3 L1477,83.8 L1483,84.2 L1489,84.6 L1495,85.1 L1501,85.5 L1507,85.8 L1513,86.2 L1519,86.4 L1525,86.7 L1531,86.9 L1537,87 L1543,87 L1549,87 L1555,87 L1561,86.8 L1567,86.7 L1573,86.4 L1579,86.2 L1585,85.8 L1591,85.5 L1597,85.2 L1603,84.8 L1609,84.4 L1615,84.1 L1621,83.7 L1627,83.4 L1633,83.1 L1639,82.9 L1645,82.7 L1651,82.5 L1657,82.4 L1663,82.4 L1669,82.4 L1675,82.5 L1681,82.7 L1687,82.9 L1693,83.1 L1699,83.4 L1705,83.8 L1711,84.2 L1717,84.6 L1723,85 L1729,85.5 L1735,85.9 L1741,86.3 L1747,86.8 L1753,87.2 L1759,87.5 L1765,87.8 L1771,88.1 L1777,88.3 L1783,88.4 L1789,88.5 L1795,88.6 L1801,88.5 L1807,88.4 L1813,88.3 L1819,88.1 L1825,87.8 L1831,87.6 L1837,87.2 L1843,86.9 L1849,86.5 L1855,86.2 L1861,85.8 L1867,85.4 L1873,85.1 L1879,84.8 L1885,84.5 L1891,84.3 L1897,84.1 L1903,84 L1909,83.9 L1915,83.9 L1921,84 L1927,84.1 L1933,84.3 L1939,84.5 L1945,84.8 L1951,85.1 L1957,85.5 L1963,85.9 L1969,86.3 L1975,86.7 L1981,87.2 L1987,87.6 L1993,88 L1999,88.5 L2005,88.8 L2011,89.2 L2017,89.5 L2023,89.7 L2029,89.9 L2035,90 L2041,90.1 L2047,90.1 L2053,90" fill="none" stroke="#FFFFFF" stroke-width="4.4" opacity="0.75"/><path d="M1399,88.3 L1405,88.9 L1411,89.4 L1417,89.8 L1423,90.2 L1429,90.5 L1435,90.7 L1441,90.8 L1447,90.8 L1453,90.8 L1459,90.7 L1465,90.4 L1471,90.2 L1477,89.8 L1483,89.4 L1489,88.9 L1495,88.4 L1501,87.8 L1507,87.2 L1513,86.7 L1519,86.1 L1525,85.5 L1531,84.9 L1537,84.4 L1543,84 L1549,83.5 L1555,83.2 L1561,82.9 L1567,82.7 L1573,82.6 L1579,82.6 L1585,82.6 L1591,82.8 L1597,83 L1603,83.3 L1609,83.7 L1615,84.1 L1621,84.6 L1627,85.2 L1633,85.8 L1639,86.4 L1645,87.1 L1651,87.8 L1657,88.4 L1663,89.1 L1669,89.7 L1675,90.3 L1681,90.8 L1687,91.3 L1693,91.7 L1699,92 L1705,92.2 L1711,92.4 L1717,92.5 L1723,92.5 L1729,92.4 L1735,92.2 L1741,92 L1747,91.7 L1753,91.3 L1759,90.8 L1765,90.3 L1771,89.8 L1777,89.2 L1783,88.6 L1789,88 L1795,87.4 L1801,86.9 L1807,86.3 L1813,85.8 L1819,85.4 L1825,85 L1831,84.7 L1837,84.5 L1843,84.3 L1849,84.2 L1855,84.3 L1861,84.4 L1867,84.5 L1873,84.8 L1879,85.2 L1885,85.6 L1891,86.1 L1897,86.6 L1903,87.2 L1909,87.8 L1915,88.4 L1921,89.1 L1927,89.8 L1933,90.4 L1939,91.1 L1945,91.6 L1951,92.2 L1957,92.7 L1963,93.1 L1969,93.5 L1975,93.8 L1981,94 L1987,94.1 L1993,94.2 L1999,94.1 L2005,94 L2011,93.8 L2017,93.5 L2023,93.1 L2029,92.7 L2035,92.2 L2041,91.7 L2047,91.1 L2053,90.6" fill="none" stroke="#8C8C8C" stroke-width="2.8" opacity="0.45"/><path d="M1399,73.7 L1405,74 L1411,74.2 L1417,74.5 L1423,74.8 L1429,75.1 L1435,75.3 L1441,75.6 L1447,75.8 L1453,76.1 L1459,76.3 L1465,76.5 L1471,76.7 L1477,76.8 L1483,77 L1489,77.1 L1495,77.2 L1501,77.3 L1507,77.3 L1513,77.3 L1519,77.3 L1525,77.3 L1531,77.3 L1537,77.2 L1543,77.1 L1549,77 L1555,76.9 L1561,76.7 L1567,76.6 L1573,76.4 L1579,76.2 L1585,76 L1591,75.8 L1597,75.6 L1603,75.4 L1609,75.2 L1615,75 L1621,74.8 L1627,74.6 L1633,74.4 L1639,74.2 L1645,74 L1651,73.9 L1657,73.7 L1663,73.6 L1669,73.5 L1675,73.4 L1681,73.3 L1687,73.3 L1693,73.2 L1699,73.2 L1705,73.3 L1711,73.3 L1717,73.4 L1723,73.5 L1729,73.6 L1735,73.7 L1741,73.9 L1747,74 L1753,74.2 L1759,74.4 L1765,74.7 L1771,74.9 L1777,75.2 L1783,75.4 L1789,75.7 L1795,76 L1801,76.3 L1807,76.5 L1813,76.8 L1819,77.1 L1825,77.4 L1831,77.7 L1837,77.9 L1843,78.2 L1849,78.4 L1855,78.6 L1861,78.8 L1867,79 L1873,79.2 L1879,79.3 L1885,79.5 L1891,79.6 L1897,79.7 L1903,79.7 L1909,79.8 L1915,79.8 L1921,79.8 L1927,79.7 L1933,79.7 L1939,79.6 L1945,79.5 L1951,79.4 L1957,79.2 L1963,79.1 L1969,78.9 L1975,78.7 L1981,78.6 L1987,78.4 L1993,78.2 L1999,77.9 L2005,77.7 L2011,77.5 L2017,77.3 L2023,77.1 L2029,76.9 L2035,76.7 L2041,76.5 L2047,76.4 L2053,76.2" fill="none" stroke="#FFFFFF" stroke-width="5" opacity="0.75"/><path d="M1399,85.9 L1405,86.2 L1411,86.5 L1417,86.8 L1423,87.1 L1429,87.3 L1435,87.6 L1441,87.8 L1447,88 L1453,88.2 L1459,88.3 L1465,88.4 L1471,88.5 L1477,88.6 L1483,88.7 L1489,88.7 L1495,88.7 L1501,88.6 L1507,88.5 L1513,88.4 L1519,88.3 L1525,88.2 L1531,88 L1537,87.9 L1543,87.7 L1549,87.5 L1555,87.3 L1561,87 L1567,86.8 L1573,86.6 L1579,86.4 L1585,86.2 L1591,86 L1597,85.8 L1603,85.7 L1609,85.5 L1615,85.4 L1621,85.3 L1627,85.3 L1633,85.2 L1639,85.2 L1645,85.2 L1651,85.2 L1657,85.3 L1663,85.4 L1669,85.5 L1675,85.7 L1681,85.9 L1687,86.1 L1693,86.3 L1699,86.5 L1705,86.8 L1711,87.1 L1717,87.3 L1723,87.6 L1729,87.9 L1735,88.2 L1741,88.5 L1747,88.8 L1753,89 L1759,89.3 L1765,89.5 L1771,89.8 L1777,90 L1783,90.1 L1789,90.3 L1795,90.4 L1801,90.5 L1807,90.6 L1813,90.7 L1819,90.7 L1825,90.7 L1831,90.6 L1837,90.6 L1843,90.5 L1849,90.4 L1855,90.2 L1861,90.1 L1867,89.9 L1873,89.7 L1879,89.5 L1885,89.3 L1891,89.1 L1897,88.9 L1903,88.7 L1909,88.5 L1915,88.3 L1921,88.1 L1927,87.9 L1933,87.7 L1939,87.6 L1945,87.5 L1951,87.4 L1957,87.3 L1963,87.2 L1969,87.2 L1975,87.2 L1981,87.3 L1987,87.3 L1993,87.4 L1999,87.5 L2005,87.7 L2011,87.9 L2017,88.1 L2023,88.3 L2029,88.5 L2035,88.8 L2041,89 L2047,89.3 L2053,89.6" fill="none" stroke="#8C8C8C" stroke-width="1.9" opacity="0.45"/><path d="M1399,79.1 L1405,79.3 L1411,79.4 L1417,79.6 L1423,79.7 L1429,79.8 L1435,79.8 L1441,79.9 L1447,79.9 L1453,79.9 L1459,79.8 L1465,79.8 L1471,79.7 L1477,79.6 L1483,79.4 L1489,79.3 L1495,79.1 L1501,78.9 L1507,78.7 L1513,78.5 L1519,78.3 L1525,78.1 L1531,77.8 L1537,77.6 L1543,77.4 L1549,77.1 L1555,76.9 L1561,76.7 L1567,76.5 L1573,76.2 L1579,76 L1585,75.9 L1591,75.7 L1597,75.5 L1603,75.4 L1609,75.3 L1615,75.2 L1621,75.1 L1627,75.1 L1633,75.1 L1639,75.1 L1645,75.1 L1651,75.2 L1657,75.3 L1663,75.4 L1669,75.5 L1675,75.6 L1681,75.8 L1687,76 L1693,76.2 L1699,76.5 L1705,76.7 L1711,77 L1717,77.3 L1723,77.6 L1729,77.9 L1735,78.2 L1741,78.5 L1747,78.8 L1753,79.1 L1759,79.4 L1765,79.7 L1771,80 L1777,80.3 L1783,80.6 L1789,80.8 L1795,81.1 L1801,81.3 L1807,81.5 L1813,81.7 L1819,81.9 L1825,82 L1831,82.1 L1837,82.2 L1843,82.3 L1849,82.4 L1855,82.4 L1861,82.4 L1867,82.4 L1873,82.3 L1879,82.2 L1885,82.1 L1891,82 L1897,81.9 L1903,81.7 L1909,81.6 L1915,81.4 L1921,81.2 L1927,81 L1933,80.7 L1939,80.5 L1945,80.3 L1951,80 L1957,79.8 L1963,79.6 L1969,79.3 L1975,79.1 L1981,78.9 L1987,78.7 L1993,78.5 L1999,78.3 L2005,78.1 L2011,78 L2017,77.9 L2023,77.8 L2029,77.7 L2035,77.6 L2041,77.6 L2047,77.6 L2053,77.6" fill="none" stroke="#FFFFFF" stroke-width="2.8" opacity="0.75"/><path d="M1399,81.3 L1405,81.7 L1411,82.2 L1417,82.6 L1423,83 L1429,83.4 L1435,83.7 L1441,83.9 L1447,84 L1453,84 L1459,84 L1465,83.8 L1471,83.6 L1477,83.3 L1483,83 L1489,82.6 L1495,82.2 L1501,81.8 L1507,81.4 L1513,81 L1519,80.7 L1525,80.4 L1531,80.2 L1537,80 L1543,80 L1549,80 L1555,80.1 L1561,80.3 L1567,80.6 L1573,80.9 L1579,81.3 L1585,81.8 L1591,82.2 L1597,82.7 L1603,83.2 L1609,83.7 L1615,84.1 L1621,84.4 L1627,84.8 L1633,85 L1639,85.1 L1645,85.2 L1651,85.2 L1657,85.1 L1663,84.9 L1669,84.6 L1675,84.3 L1681,84 L1687,83.6 L1693,83.2 L1699,82.7 L1705,82.4 L1711,82 L1717,81.7 L1723,81.5 L1729,81.3 L1735,81.2 L1741,81.2 L1747,81.3 L1753,81.4 L1759,81.7 L1765,82 L1771,82.3 L1777,82.8 L1783,83.2 L1789,83.7 L1795,84.2 L1801,84.7 L1807,85.1 L1813,85.5 L1819,85.8 L1825,86.1 L1831,86.3 L1837,86.4 L1843,86.4 L1849,86.3 L1855,86.2 L1861,85.9 L1867,85.6 L1873,85.3 L1879,84.9 L1885,84.5 L1891,84.1 L1897,83.7 L1903,83.3 L1909,83 L1915,82.7 L1921,82.5 L1927,82.4 L1933,82.4 L1939,82.4 L1945,82.5 L1951,82.7 L1957,83 L1963,83.4 L1969,83.8 L1975,84.2 L1981,84.7 L1987,85.2 L1993,85.7 L1999,86.1 L2005,86.5 L2011,86.9 L2017,87.2 L2023,87.4 L2029,87.5 L2035,87.6 L2041,87.5 L2047,87.4 L2053,87.2" fill="none" stroke="#8C8C8C" stroke-width="1.8" opacity="0.45"/><path d="M1399,89.3 L1405,89.8 L1411,90.4 L1417,91 L1423,91.6 L1429,92.2 L1435,92.7 L1441,93.2 L1447,93.6 L1453,94 L1459,94.3 L1465,94.5 L1471,94.6 L1477,94.6 L1483,94.5 L1489,94.3 L1495,94.1 L1501,93.7 L1507,93.3 L1513,92.9 L1519,92.4 L1525,91.9 L1531,91.4 L1537,90.9 L1543,90.4 L1549,89.9 L1555,89.5 L1561,89.2 L1567,88.9 L1573,88.7 L1579,88.6 L1585,88.6 L1591,88.7 L1597,88.8 L1603,89.1 L1609,89.4 L1615,89.8 L1621,90.3 L1627,90.8 L1633,91.4 L1639,92 L1645,92.6 L1651,93.2 L1657,93.7 L1663,94.3 L1669,94.7 L1675,95.1 L1681,95.5 L1687,95.7 L1693,95.9 L1699,96 L1705,95.9 L1711,95.8 L1717,95.6 L1723,95.3 L1729,95 L1735,94.6 L1741,94.1 L1747,93.6 L1753,93.1 L1759,92.6 L1765,92.1 L1771,91.6 L1777,91.1 L1783,90.8 L1789,90.4 L1795,90.2 L1801,90 L1807,90 L1813,90 L1819,90.1 L1825,90.3 L1831,90.6 L1837,90.9 L1843,91.4 L1849,91.9 L1855,92.4 L1861,93 L1867,93.6 L1873,94.2 L1879,94.7 L1885,95.3 L1891,95.8 L1897,96.3 L1903,96.6 L1909,96.9 L1915,97.2 L1921,97.3 L1927,97.3 L1933,97.3 L1939,97.1 L1945,96.9 L1951,96.6 L1957,96.2 L1963,95.8 L1969,95.3 L1975,94.8 L1981,94.3 L1987,93.8 L1993,93.3 L1999,92.8 L2005,92.4 L2011,92 L2017,91.7 L2023,91.5 L2029,91.4 L2035,91.3 L2041,91.4 L2047,91.5 L2053,91.8" fill="none" stroke="#FFFFFF" stroke-width="2.8" opacity="0.75"/><path d="M1399,95.5 L1405,95.6 L1411,95.7 L1417,95.8 L1423,95.8 L1429,95.7 L1435,95.7 L1441,95.6 L1447,95.4 L1453,95.2 L1459,95 L1465,94.8 L1471,94.5 L1477,94.3 L1483,94 L1489,93.7 L1495,93.4 L1501,93.2 L1507,92.9 L1513,92.7 L1519,92.5 L1525,92.3 L1531,92.1 L1537,92 L1543,91.9 L1549,91.9 L1555,91.9 L1561,92 L1567,92.1 L1573,92.2 L1579,92.3 L1585,92.6 L1591,92.8 L1597,93.1 L1603,93.4 L1609,93.7 L1615,94 L1621,94.4 L1627,94.7 L1633,95.1 L1639,95.4 L1645,95.7 L1651,96.1 L1657,96.3 L1663,96.6 L1669,96.9 L1675,97.1 L1681,97.2 L1687,97.4 L1693,97.4 L1699,97.5 L1705,97.5 L1711,97.5 L1717,97.4 L1723,97.3 L1729,97.1 L1735,96.9 L1741,96.7 L1747,96.5 L1753,96.2 L1759,96 L1765,95.7 L1771,95.4 L1777,95.1 L1783,94.9 L1789,94.6 L1795,94.4 L1801,94.2 L1807,94 L1813,93.8 L1819,93.7 L1825,93.7 L1831,93.6 L1837,93.6 L1843,93.7 L1849,93.8 L1855,93.9 L1861,94.1 L1867,94.3 L1873,94.5 L1879,94.8 L1885,95.1 L1891,95.4 L1897,95.8 L1903,96.1 L1909,96.5 L1915,96.8 L1921,97.2 L1927,97.5 L1933,97.8 L1939,98.1 L1945,98.4 L1951,98.6 L1957,98.8 L1963,99 L1969,99.1 L1975,99.2 L1981,99.2 L1987,99.2 L1993,99.2 L1999,99.1 L2005,99 L2011,98.8 L2017,98.6 L2023,98.4 L2029,98.2 L2035,97.9 L2041,97.6 L2047,97.4 L2053,97.1" fill="none" stroke="#8C8C8C" stroke-width="1.9" opacity="0.45"/></g></g>
<polyline points="1399,99.2 1404.5,99.7 1409.9,100.3 1415.4,100.9 1420.8,101.3 1426.3,101.6 1431.8,101.6 1437.2,101.5 1442.7,101.1 1448.1,100.6 1453.6,100.1 1459,99.6 1464.5,99.2 1470,99 1475.4,99 1480.9,99.3 1486.3,99.7 1491.8,100.3 1497.2,101 1502.7,101.6 1508.2,102.1 1513.6,102.4 1519.1,102.5 1524.5,102.4 1530,102.1 1535.5,101.7 1540.9,101.1 1546.4,100.7 1551.8,100.3 1557.3,100.1 1562.8,100.1 1568.2,100.4 1573.7,100.8 1579.1,101.4 1584.6,102.1 1590,102.7 1595.5,103.3 1601,103.7 1606.4,103.8 1611.9,103.7 1617.3,103.5 1622.8,103.1 1628.2,102.6 1633.7,102.1 1639.2,101.8 1644.6,101.6 1650.1,101.6 1655.5,101.8 1661,102.3 1666.5,102.9 1671.9,103.6 1677.4,104.2 1682.8,104.8 1688.3,105.2 1693.8,105.4 1699.2,105.4 1704.7,105.2 1710.1,104.8 1715.6,104.3 1721,103.9 1726.5,103.5 1732,103.3 1737.4,103.3 1742.9,103.6 1748.3,104 1753.8,104.6 1759.2,105.3 1764.7,106 1770.2,106.6 1775.6,107 1781.1,107.3 1786.5,107.3 1792,107.1 1797.5,106.8 1802.9,106.3 1808.4,105.9 1813.8,105.5 1819.3,105.3 1824.8,105.3 1830.2,105.5 1835.7,106 1841.1,106.6 1846.6,107.3 1852,108 1857.5,108.6 1863,109.1 1868.4,109.4 1873.9,109.4 1879.3,109.3 1884.8,109 1890.2,108.5 1895.7,108.1 1901.2,107.7 1906.6,107.5 1912.1,107.5 1917.5,107.7 1923,108.2 1928.5,108.8 1933.9,109.5 1939.4,110.2 1944.8,110.8 1950.3,111.4 1955.8,111.7 1961.2,111.8 1966.7,111.7 1972.1,111.4 1977.6,111 1983,110.5 1988.5,110.2 1994,110 1999.4,109.9 2004.9,110.1 2010.3,110.5 2015.8,111.1 2021.2,111.8 2026.7,112.6 2032.2,113.3 2037.6,113.8 2043.1,114.2 2048.5,114.3 2054,114.2" fill="none" stroke="#F8F8F8" stroke-width="4" opacity="0.9" filter="url(#blur1)"/>
</g>
<text x="1908" y="148" font-family="'Liberation Serif', 'Times New Roman', serif" font-size="43" font-weight="bold" fill="#FAFAF5" text-anchor="start" >200 nm</text>
<rect x="1945" y="156.4" width="61" height="12.7" fill="#FAFAF5"/>
<rect x="1507.8" y="284.2" width="41.2" height="6.3" fill="#F20000"/>
<rect x="1565.8" y="284.2" width="89.2" height="6.3" fill="#F20000"/>
<rect x="1672.5" y="284.2" width="89" height="6.3" fill="#F20000"/>
<rect x="1779" y="284.2" width="89" height="6.3" fill="#F20000"/>
<rect x="1885.4" y="284.2" width="70.3" height="6.3" fill="#F20000"/>
<text x="1490" y="439" font-family="'Liberation Serif', 'Times New Roman', serif" font-size="60" font-weight="bold" fill="#000" text-anchor="start" >EGaIn evaporation</text>
<text x="1867" y="493.4" font-family="'Liberation Serif', 'Times New Roman', serif" font-size="39" font-weight="bold" fill="#000" text-anchor="start" >60 <tspan dx="2">&#956;</tspan><tspan dx="2">m</tspan></text>
<rect x="1845" y="511" width="162.6" height="16.3" fill="#000"/>
<polyline points="128.6,921.8 130.2,920.6 131.9,919.4 133.5,918.2 135.1,917 136.7,915.8 138.3,914.6 139.9,913.4 141.5,912.2 143.1,911.1 144.8,909.9 146.4,908.7 148,907.5 149.6,906.3 151.2,905.1 152.8,903.9 154.4,902.7 156.1,901.5 157.7,900.3 159.3,899.1 160.9,897.9 162.5,896.7 164.1,895.5 165.7,894.2 167.3,893 169,891.8 170.6,890.6 172.2,889.4 173.8,888.2 175.4,887 177,885.8 178.6,884.6 180.3,883.4 181.9,882.2 183.5,881 185.1,879.7 186.7,878.5 188.3,877.3 189.9,876.1 191.5,874.9 193.2,873.7 194.8,872.5 196.4,871.2 198,870 199.6,868.8 201.2,867.6 202.8,866.4 204.5,865.2 206.1,863.9 207.7,862.7 209.3,861.5 210.9,860.3 212.5,859.1 214.1,857.8 215.7,856.6 217.4,855.4 219,854.2 220.6,852.9 222.2,851.7 223.8,850.5 225.4,849.3 227,848 228.6,846.8 230.3,845.6 231.9,844.3 233.5,843.1 235.1,841.9 236.7,840.6 238.3,839.4 239.9,838.2 241.6,837 243.2,835.7 244.8,834.5 246.4,833.2 248,832 249.6,830.8 251.2,829.5 252.8,828.3 254.5,827.1 256.1,825.8 257.7,824.6 259.3,823.3 260.9,822.1 262.5,820.9 264.1,819.6 265.8,818.4 267.4,817.1 269,815.9 270.6,814.7 272.2,813.4 273.8,812.2 275.4,810.9 277,809.7 278.7,808.4 280.3,807.2 281.9,805.9 283.5,804.7 285.1,803.4 286.7,802.2 288.3,800.9 289.9,799.7 291.6,798.4 293.2,797.2 294.8,795.9 296.4,794.7 298,793.4 299.6,792.2 301.2,790.9 302.9,789.6 304.5,788.4 306.1,787.1 307.7,785.9 309.3,784.6 310.9,783.4 312.5,782.1 314.1,780.8 315.8,779.6 317.4,778.3 319,777 320.6,775.8 322.2,774.5 323.8,773.3 325.4,772 327.1,770.7 328.7,769.5 330.3,768.2 331.9,766.9 333.5,765.7 335.1,764.4 336.7,763.1 338.3,761.9 340,760.6 341.6,759.3 343.2,758 344.8,756.8 346.4,755.5 348,754.2 349.6,752.9 351.3,751.7 352.9,750.4 354.5,749.1 356.1,747.8 357.7,746.6 359.3,745.3 360.9,744 362.5,742.7 364.2,741.5 365.8,740.2 367.4,738.9 369,737.6 370.6,736.3 372.2,735 373.8,733.8 375.4,732.5 377.1,731.2 378.7,729.9 380.3,728.6 381.9,727.3 383.5,726.1 385.1,724.8 386.7,723.5 388.4,722.2 390,720.9 391.6,719.6 393.2,718.3 394.8,717 396.4,715.7 398,714.4 399.6,713.2 401.3,711.9 402.9,710.6 404.5,709.3 406.1,708 407.7,706.7 409.3,705.4 410.9,704.1 412.6,702.8 414.2,701.5 415.8,700.2 417.4,698.9 419,697.6 420.6,696.3 422.2,695 423.8,693.7 425.5,692.4 427.1,691.1 428.7,689.8 430.3,688.5 431.9,687.2 433.5,685.9 435.1,684.6 436.8,683.3 438.4,681.9 440,680.6 441.6,679.3 443.2,678 444.8,676.7 446.4,675.4 448,674.1 449.7,672.8 451.3,671.5" fill="none" stroke="#F50000" stroke-width="9" stroke-linejoin="round"/>
<rect x="88.3" y="635.6" width="403.3" height="328.1" fill="none" stroke="#000" stroke-width="1.6"/>
<path d="M88.3 940.3h7M88.3 893.4h7M88.3 846.6h7M88.3 799.7h7M88.3 752.8h7M88.3 705.9h7M88.3 659h7M88.3 916.9h3.6M88.3 870h3.6M88.3 823.1h3.6M88.3 776.2h3.6M88.3 729.4h3.6M88.3 682.5h3.6M128.6 963.8v-7M209.3 963.8v-7M289.9 963.8v-7M370.6 963.8v-7M451.3 963.8v-7M169 963.8v-3.6M249.6 963.8v-3.6M330.3 963.8v-3.6M410.9 963.8v-3.6" stroke="#000" stroke-width="1.5" fill="none"/>
<text x="80.7" y="946.5" font-family="'Liberation Sans', Arial, sans-serif" font-size="21.5" font-weight="normal" fill="#000" text-anchor="end" >-0.6</text>
<text x="80.7" y="899.6" font-family="'Liberation Sans', Arial, sans-serif" font-size="21.5" font-weight="normal" fill="#000" text-anchor="end" >-0.4</text>
<text x="80.7" y="852.8" font-family="'Liberation Sans', Arial, sans-serif" font-size="21.5" font-weight="normal" fill="#000" text-anchor="end" >-0.2</text>
<text x="80.7" y="805.9" font-family="'Liberation Sans', Arial, sans-serif" font-size="21.5" font-weight="normal" fill="#000" text-anchor="end" >0.0</text>
<text x="80.7" y="759" font-family="'Liberation Sans', Arial, sans-serif" font-size="21.5" font-weight="normal" fill="#000" text-anchor="end" >0.2</text>
<text x="80.7" y="712.1" font-family="'Liberation Sans', Arial, sans-serif" font-size="21.5" font-weight="normal" fill="#000" text-anchor="end" >0.4</text>
<text x="80.7" y="665.2" font-family="'Liberation Sans', Arial, sans-serif" font-size="21.5" font-weight="normal" fill="#000" text-anchor="end" >0.6</text>
<text x="128.6" y="988.7" font-family="'Liberation Sans', Arial, sans-serif" font-size="22.3" font-weight="normal" fill="#000" text-anchor="middle" >-1.0</text>
<text x="209.3" y="988.7" font-family="'Liberation Sans', Arial, sans-serif" font-size="22.3" font-weight="normal" fill="#000" text-anchor="middle" >-0.5</text>
<text x="289.9" y="988.7" font-family="'Liberation Sans', Arial, sans-serif" font-size="22.3" font-weight="normal" fill="#000" text-anchor="middle" >0.0</text>
<text x="370.6" y="988.7" font-family="'Liberation Sans', Arial, sans-serif" font-size="22.3" font-weight="normal" fill="#000" text-anchor="middle" >0.5</text>
<text x="451.3" y="988.7" font-family="'Liberation Sans', Arial, sans-serif" font-size="22.3" font-weight="normal" fill="#000" text-anchor="middle" >1.0</text>
<text x="147" y="690.5" font-family="'Liberation Sans', Arial, sans-serif" font-size="36" font-weight="normal" fill="#000" text-anchor="start" >dark</text>
<text x="290.5" y="1032.5" font-family="'Liberation Sans', Arial, sans-serif" font-size="37" font-weight="normal" fill="#000" text-anchor="middle" >Voltage (V)</text>
<text transform="translate(32.2,799.7) rotate(-90)" font-family="'Liberation Sans', Arial, sans-serif" font-size="37" text-anchor="middle">Current (mA)</text>
<text x="3.5" y="613" font-family="'Liberation Serif', 'Times New Roman', serif" font-size="48.5" font-weight="bold" fill="#000" text-anchor="start" >(d)</text>
<rect x="646.2" y="634.5" width="26" height="347.5" fill="#80FFFF"/>
<rect x="698.9" y="634.5" width="26.4" height="347.5" fill="#80FFFF"/>
<rect x="754.3" y="634.5" width="43.6" height="347.5" fill="#80FFFF"/>
<rect x="866.5" y="634.5" width="51.5" height="347.5" fill="#80FFFF"/>
<rect x="646.2" y="631.5" width="26" height="4" fill="#80FFFF"/>
<rect x="698.9" y="631.5" width="26.4" height="4" fill="#80FFFF"/>
<polyline points="634,945.2 635.8,944.5 637.6,946.7 639.4,944.1 641.2,946.2 643,945.4 644.8,944.1 646.6,946 648.4,944 649,914 650.2,895.6 652,860.3 653.6,838.6 655.9,828.4 657,810 659.3,798.7 661,790 662,784 663.4,778 664.5,792 666,801 668.4,812.4 671.1,830.6 672.5,851 674,869.4 675.2,894.5 677.5,915 678.7,924 679.8,942.4 681,944.7 682.8,943.1 684.6,943.2 686.4,944.7 688.2,946.4 690,943.3 691.8,943.8 693.6,945.6 695.4,947 697.2,945.3 699,944.5 700.3,933 701.5,901.3 703.7,877.4 704.9,854.6 706,838.6 707.2,826 709.4,812.4 710.5,790 711.7,776 713.5,790 715,778 716,795 717.4,803.3 720,800 723,823.8 726.5,841 728.8,876.2 730,896.8 732.2,915 734.5,933.2 736,948.1 737.8,944 739.6,947.6 741.4,945.1 743.2,944.4 745,944.3 746.8,945.2 748.6,947.4 750.4,944.6 752.2,946.4 754,946.6 755.5,913.9 757.3,895.6 759.6,876.2 761.9,854.6 765.3,837.5 767.6,821.5 770.5,773.6 772.1,760 773.3,721.2 774.4,707.5 776,700 777.8,691.6 780,677.9 782,680 784.7,674.5 786,680 788,672.2 790,682 793.8,684.7 796,695 798.4,705.2 801.8,721.2 804.6,737 807,748 809,757.6 811.4,787.3 812.5,801 813.7,836.3 814.8,855.7 816,867 817.1,880.7 818.2,889.9 819.4,899 820.5,905.8 821.7,915 822.8,935.5 824,942.7 825.8,943.8 827.6,940.9 829.4,940.9 831.2,941.7 833,944.6 834.8,943.1 836.6,942.4 838.4,944 840.2,943.2 842,942.3 843.8,945.3 845.6,944.7 847.4,942 849.2,943.9 851,943.7 852.8,945.8 854.6,944.9 856.4,942.2 858.2,946.4 860,941.2 861.8,943 863.6,945 865.4,941.4 868.4,916 871.8,903.5 874.1,889.9 877.5,873.9 879.3,859 882.5,834 883.9,805.5 884.8,787.3 886.2,766.8 887.8,736 890,728 892.3,716.6 894.6,703 896.9,695 898.5,690 900.3,683.6 902.5,690 904.9,690 907,686 909,683.6 911.5,690 914,690 916,693 918,693.8 918.5,709.8 921,709 923.1,711 926.5,721.2 927.7,739.4 929.5,742 931.1,746.3 934.5,755.4 934.5,766.8 936.3,782.7 937.9,794.1 939.5,804.4 941.3,814.6 943.6,840.9 944.7,867 945.9,880.7 947,889.9 948.2,903.5 949.3,915 950.4,924 952.7,930.9 955,940 956,943.5 957.8,941.7 959.6,944.2 961.4,944.6 963.2,943.8 965,945 966.8,942.8 968.6,944.3 970.4,943.9 972.2,943.8 974,943.3 975.8,944.9 977.6,945.3 979.4,943.4 981.2,944.2 983,941.7" fill="none" stroke="#000" stroke-width="1.8" stroke-linejoin="round"/>
<path d="M630.8 942h6.5v6.5h-6.5zM632.5 941.2h6.5v6.5h-6.5zM634.3 943.4h6.5v6.5h-6.5zM636.1 940.9h6.5v6.5h-6.5zM637.9 942.9h6.5v6.5h-6.5zM639.7 942.2h6.5v6.5h-6.5zM641.5 940.8h6.5v6.5h-6.5zM643.3 942.8h6.5v6.5h-6.5zM645.1 940.7h6.5v6.5h-6.5zM645.8 910.8h6.5v6.5h-6.5zM647 892.4h6.5v6.5h-6.5zM648.8 857h6.5v6.5h-6.5zM650.4 835.4h6.5v6.5h-6.5zM652.6 825.1h6.5v6.5h-6.5zM653.8 806.8h6.5v6.5h-6.5zM656 795.5h6.5v6.5h-6.5zM657.8 786.8h6.5v6.5h-6.5zM658.8 780.8h6.5v6.5h-6.5zM660.1 774.8h6.5v6.5h-6.5zM661.2 788.8h6.5v6.5h-6.5zM662.8 797.8h6.5v6.5h-6.5zM665.1 809.1h6.5v6.5h-6.5zM667.9 827.4h6.5v6.5h-6.5zM669.2 847.8h6.5v6.5h-6.5zM670.8 866.1h6.5v6.5h-6.5zM672 891.2h6.5v6.5h-6.5zM674.2 911.8h6.5v6.5h-6.5zM675.5 920.8h6.5v6.5h-6.5zM676.5 939.1h6.5v6.5h-6.5zM677.8 941.5h6.5v6.5h-6.5zM679.5 939.9h6.5v6.5h-6.5zM681.3 939.9h6.5v6.5h-6.5zM683.1 941.4h6.5v6.5h-6.5zM684.9 943.2h6.5v6.5h-6.5zM686.7 940.1h6.5v6.5h-6.5zM688.5 940.5h6.5v6.5h-6.5zM690.3 942.3h6.5v6.5h-6.5zM692.1 943.7h6.5v6.5h-6.5zM693.9 942.1h6.5v6.5h-6.5zM695.7 941.3h6.5v6.5h-6.5zM697 929.8h6.5v6.5h-6.5zM698.2 898h6.5v6.5h-6.5zM700.5 874.1h6.5v6.5h-6.5zM701.6 851.4h6.5v6.5h-6.5zM702.8 835.4h6.5v6.5h-6.5zM704 822.8h6.5v6.5h-6.5zM706.1 809.1h6.5v6.5h-6.5zM707.2 786.8h6.5v6.5h-6.5zM708.5 772.8h6.5v6.5h-6.5zM710.2 786.8h6.5v6.5h-6.5zM711.8 774.8h6.5v6.5h-6.5zM712.8 791.8h6.5v6.5h-6.5zM714.1 800h6.5v6.5h-6.5zM716.8 796.8h6.5v6.5h-6.5zM719.8 820.5h6.5v6.5h-6.5zM723.2 837.8h6.5v6.5h-6.5zM725.5 873h6.5v6.5h-6.5zM726.8 893.5h6.5v6.5h-6.5zM729 911.8h6.5v6.5h-6.5zM731.2 930h6.5v6.5h-6.5zM732.8 944.8h6.5v6.5h-6.5zM734.5 940.8h6.5v6.5h-6.5zM736.3 944.3h6.5v6.5h-6.5zM738.1 941.8h6.5v6.5h-6.5zM739.9 941.2h6.5v6.5h-6.5zM741.7 941.1h6.5v6.5h-6.5zM743.5 941.9h6.5v6.5h-6.5zM745.3 944.1h6.5v6.5h-6.5zM747.1 941.3h6.5v6.5h-6.5zM748.9 943.1h6.5v6.5h-6.5zM750.7 943.4h6.5v6.5h-6.5zM752.2 910.6h6.5v6.5h-6.5zM754 892.4h6.5v6.5h-6.5zM756.4 873h6.5v6.5h-6.5zM758.6 851.4h6.5v6.5h-6.5zM762 834.2h6.5v6.5h-6.5zM764.4 818.2h6.5v6.5h-6.5zM767.2 770.4h6.5v6.5h-6.5zM768.9 756.8h6.5v6.5h-6.5zM770 718h6.5v6.5h-6.5zM771.1 704.2h6.5v6.5h-6.5zM772.8 696.8h6.5v6.5h-6.5zM774.5 688.4h6.5v6.5h-6.5zM776.8 674.6h6.5v6.5h-6.5zM778.8 676.8h6.5v6.5h-6.5zM781.5 671.2h6.5v6.5h-6.5zM782.8 676.8h6.5v6.5h-6.5zM784.8 669h6.5v6.5h-6.5zM786.8 678.8h6.5v6.5h-6.5zM790.5 681.5h6.5v6.5h-6.5zM792.8 691.8h6.5v6.5h-6.5zM795.1 702h6.5v6.5h-6.5zM798.5 718h6.5v6.5h-6.5zM801.4 733.8h6.5v6.5h-6.5zM803.8 744.8h6.5v6.5h-6.5zM805.8 754.4h6.5v6.5h-6.5zM808.1 784h6.5v6.5h-6.5zM809.2 797.8h6.5v6.5h-6.5zM810.5 833h6.5v6.5h-6.5zM811.5 852.5h6.5v6.5h-6.5zM812.8 863.8h6.5v6.5h-6.5zM813.9 877.5h6.5v6.5h-6.5zM815 886.6h6.5v6.5h-6.5zM816.1 895.8h6.5v6.5h-6.5zM817.2 902.5h6.5v6.5h-6.5zM818.5 911.8h6.5v6.5h-6.5zM819.5 932.2h6.5v6.5h-6.5zM820.8 939.5h6.5v6.5h-6.5zM822.5 940.5h6.5v6.5h-6.5zM824.3 937.6h6.5v6.5h-6.5zM826.1 937.6h6.5v6.5h-6.5zM827.9 938.5h6.5v6.5h-6.5zM829.7 941.3h6.5v6.5h-6.5zM831.5 939.8h6.5v6.5h-6.5zM833.3 939.1h6.5v6.5h-6.5zM835.1 940.8h6.5v6.5h-6.5zM836.9 940h6.5v6.5h-6.5zM838.7 939h6.5v6.5h-6.5zM840.5 942h6.5v6.5h-6.5zM842.3 941.4h6.5v6.5h-6.5zM844.1 938.7h6.5v6.5h-6.5zM845.9 940.7h6.5v6.5h-6.5zM847.7 940.4h6.5v6.5h-6.5zM849.5 942.5h6.5v6.5h-6.5zM851.3 941.6h6.5v6.5h-6.5zM853.1 939h6.5v6.5h-6.5zM854.9 943.1h6.5v6.5h-6.5zM856.7 938h6.5v6.5h-6.5zM858.5 939.8h6.5v6.5h-6.5zM860.3 941.8h6.5v6.5h-6.5zM862.1 938.2h6.5v6.5h-6.5zM865.1 912.8h6.5v6.5h-6.5zM868.5 900.2h6.5v6.5h-6.5zM870.9 886.6h6.5v6.5h-6.5zM874.2 870.6h6.5v6.5h-6.5zM876 855.8h6.5v6.5h-6.5zM879.2 830.8h6.5v6.5h-6.5zM880.6 802.2h6.5v6.5h-6.5zM881.5 784h6.5v6.5h-6.5zM883 763.5h6.5v6.5h-6.5zM884.5 732.8h6.5v6.5h-6.5zM886.8 724.8h6.5v6.5h-6.5zM889 713.4h6.5v6.5h-6.5zM891.4 699.8h6.5v6.5h-6.5zM893.6 691.8h6.5v6.5h-6.5zM895.2 686.8h6.5v6.5h-6.5zM897 680.3h6.5v6.5h-6.5zM899.2 686.8h6.5v6.5h-6.5zM901.6 686.8h6.5v6.5h-6.5zM903.8 682.8h6.5v6.5h-6.5zM905.8 680.3h6.5v6.5h-6.5zM908.2 686.8h6.5v6.5h-6.5zM910.8 686.8h6.5v6.5h-6.5zM912.8 689.8h6.5v6.5h-6.5zM914.8 690.5h6.5v6.5h-6.5zM915.2 706.5h6.5v6.5h-6.5zM917.8 705.8h6.5v6.5h-6.5zM919.9 707.8h6.5v6.5h-6.5zM923.2 718h6.5v6.5h-6.5zM924.5 736.1h6.5v6.5h-6.5zM926.2 738.8h6.5v6.5h-6.5zM927.9 743h6.5v6.5h-6.5zM931.2 752.1h6.5v6.5h-6.5zM931.2 763.5h6.5v6.5h-6.5zM933 779.5h6.5v6.5h-6.5zM934.6 790.9h6.5v6.5h-6.5zM936.2 801.1h6.5v6.5h-6.5zM938 811.4h6.5v6.5h-6.5zM940.4 837.6h6.5v6.5h-6.5zM941.5 863.8h6.5v6.5h-6.5zM942.6 877.5h6.5v6.5h-6.5zM943.8 886.6h6.5v6.5h-6.5zM945 900.2h6.5v6.5h-6.5zM946 911.8h6.5v6.5h-6.5zM947.1 920.8h6.5v6.5h-6.5zM949.5 927.6h6.5v6.5h-6.5zM951.8 936.8h6.5v6.5h-6.5zM952.8 940.2h6.5v6.5h-6.5zM954.5 938.4h6.5v6.5h-6.5zM956.3 940.9h6.5v6.5h-6.5zM958.1 941.3h6.5v6.5h-6.5zM959.9 940.5h6.5v6.5h-6.5zM961.7 941.8h6.5v6.5h-6.5zM963.5 939.5h6.5v6.5h-6.5zM965.3 941h6.5v6.5h-6.5zM967.1 940.6h6.5v6.5h-6.5zM968.9 940.6h6.5v6.5h-6.5zM970.7 940.1h6.5v6.5h-6.5zM972.5 941.6h6.5v6.5h-6.5zM974.3 942h6.5v6.5h-6.5zM976.1 940.1h6.5v6.5h-6.5zM977.9 940.9h6.5v6.5h-6.5zM979.7 938.5h6.5v6.5h-6.5z" fill="#000"/>
<line x1="744.8" y1="641" x2="744.8" y2="982.0" stroke="#E8141C" stroke-width="2.2" stroke-dasharray="9.5,7"/>
<rect x="600.9" y="633.5" width="427.7" height="348.5" fill="none" stroke="#000" stroke-width="1.6"/>
<path d="M600.9 982h7M600.9 944.3h7M600.9 906.7h7M600.9 869h7M600.9 831.4h7M600.9 793.7h7M600.9 756.1h7M600.9 718.4h7M600.9 680.8h7M600.9 643.1h7M600.9 963.2h3.6M600.9 925.5h3.6M600.9 887.9h3.6M600.9 850.2h3.6M600.9 812.6h3.6M600.9 774.9h3.6M600.9 737.2h3.6M600.9 699.6h3.6M600.9 661.9h3.6M636.5 982v-7M707.8 982v-7M779.1 982v-7M850.4 982v-7M921.7 982v-7M993 982v-7M672.2 982v-3.6M743.5 982v-3.6M814.8 982v-3.6M886 982v-3.6M957.3 982v-3.6" stroke="#000" stroke-width="1.5" fill="none"/>
<text x="593.3" y="988.9" font-family="'Liberation Sans', Arial, sans-serif" font-size="23.5" font-weight="normal" fill="#000" text-anchor="end" >-0.2</text>
<text x="593.3" y="951.3" font-family="'Liberation Sans', Arial, sans-serif" font-size="23.5" font-weight="normal" fill="#000" text-anchor="end" >0.0</text>
<text x="593.3" y="913.6" font-family="'Liberation Sans', Arial, sans-serif" font-size="23.5" font-weight="normal" fill="#000" text-anchor="end" >0.2</text>
<text x="593.3" y="875.9" font-family="'Liberation Sans', Arial, sans-serif" font-size="23.5" font-weight="normal" fill="#000" text-anchor="end" >0.4</text>
<text x="593.3" y="838.3" font-family="'Liberation Sans', Arial, sans-serif" font-size="23.5" font-weight="normal" fill="#000" text-anchor="end" >0.6</text>
<text x="593.3" y="800.6" font-family="'Liberation Sans', Arial, sans-serif" font-size="23.5" font-weight="normal" fill="#000" text-anchor="end" >0.8</text>
<text x="593.3" y="763" font-family="'Liberation Sans', Arial, sans-serif" font-size="23.5" font-weight="normal" fill="#000" text-anchor="end" >1.0</text>
<text x="593.3" y="725.3" font-family="'Liberation Sans', Arial, sans-serif" font-size="23.5" font-weight="normal" fill="#000" text-anchor="end" >1.2</text>
<text x="593.3" y="687.7" font-family="'Liberation Sans', Arial, sans-serif" font-size="23.5" font-weight="normal" fill="#000" text-anchor="end" >1.4</text>
<text x="593.3" y="650" font-family="'Liberation Sans', Arial, sans-serif" font-size="23.5" font-weight="normal" fill="#000" text-anchor="end" >1.6</text>
<text x="636.5" y="1007.5" font-family="'Liberation Sans', Arial, sans-serif" font-size="23" font-weight="normal" fill="#000" text-anchor="middle" >0</text>
<text x="707.8" y="1007.5" font-family="'Liberation Sans', Arial, sans-serif" font-size="23" font-weight="normal" fill="#000" text-anchor="middle" >5</text>
<text x="779.1" y="1007.5" font-family="'Liberation Sans', Arial, sans-serif" font-size="23" font-weight="normal" fill="#000" text-anchor="middle" >10</text>
<text x="850.4" y="1007.5" font-family="'Liberation Sans', Arial, sans-serif" font-size="23" font-weight="normal" fill="#000" text-anchor="middle" >15</text>
<text x="921.7" y="1007.5" font-family="'Liberation Sans', Arial, sans-serif" font-size="23" font-weight="normal" fill="#000" text-anchor="middle" >20</text>
<text x="993" y="1007.5" font-family="'Liberation Sans', Arial, sans-serif" font-size="23" font-weight="normal" fill="#000" text-anchor="middle" >25</text>
<text x="606.6" y="669.1" font-family="'Liberation Sans', Arial, sans-serif" font-size="39.5" font-weight="normal" fill="#000" text-anchor="start" ><tspan font-family="&apos;Liberation Serif&apos;, &apos;Times New Roman&apos;, serif">&#955;</tspan><tspan dx="2">=</tspan> 206 nm</text>
<text x="807" y="674.3" font-family="'Liberation Sans', Arial, sans-serif" font-size="38.5" font-weight="normal" fill="#000" text-anchor="start" >35 <tspan font-family="&apos;Liberation Serif&apos;, &apos;Times New Roman&apos;, serif" dx="1">&#956;</tspan><tspan dx="1.5">W</tspan></text>
<text x="620" y="758.8" font-family="'Liberation Sans', Arial, sans-serif" font-size="38.5" font-weight="normal" fill="#000" text-anchor="start" >20 <tspan font-family="&apos;Liberation Serif&apos;, &apos;Times New Roman&apos;, serif" dx="1">&#956;</tspan><tspan dx="1.5">W</tspan></text>
<text x="814.6" y="1058" font-family="'Liberation Sans', Arial, sans-serif" font-size="39.5" font-weight="normal" fill="#000" text-anchor="middle" >Time(s)</text>
<text transform="translate(530,792.3) rotate(-90)" font-family="'Liberation Sans', Arial, sans-serif" font-size="39.5" text-anchor="middle">Photocurrent (<tspan font-family="&apos;Liberation Serif&apos;, &apos;Times New Roman&apos;, serif">&#956;</tspan>A)</text>
<text x="494" y="615.5" font-family="'Liberation Serif', 'Times New Roman', serif" font-size="48.5" font-weight="bold" fill="#000" text-anchor="start" >(e)</text>
<rect x="1175.6" y="634.1" width="40" height="345.9" fill="#FFFF00"/>
<rect x="1252.4" y="634.1" width="40.1" height="345.9" fill="#FFFF00"/>
<rect x="1331.9" y="634.1" width="40" height="345.9" fill="#FFFF00"/>
<rect x="1408.7" y="634.1" width="40.3" height="345.9" fill="#FFFF00"/>
<polyline points="1151,950.1 1151.9,950.5 1152.5,951 1153.2,951.6 1153.8,952.3 1154.7,952.6 1155.6,953.6 1156,952.7 1156.9,952.4 1157.8,952.2 1158.7,951.7 1159.7,952 1160.6,951.5 1160.9,953.2 1161.8,952.9 1162.1,951.9 1163.1,953.1 1164,953.9 1164.3,952.4 1165.2,951.8 1165.9,952.8 1166.5,953.3 1167.4,953.2 1168,952.4 1169,952.8 1169.9,953.1 1170.5,952.1 1171.4,951.7 1172.4,951.6 1172.7,950.8 1173.3,951.7 1174.2,952.3 1174.8,951.8 1175.1,952.8 1175.8,945.7 1176.1,935.6 1176.4,927.5 1176.7,922.2 1177,917.2 1177.3,913.7 1177.6,910.7 1177.9,908.3 1178.2,906.4 1178.6,904.9 1178.9,903.1 1179.2,900.6 1179.5,899 1179.8,897.6 1180.1,896.5 1180.7,894.9 1181,893.2 1181.7,892.3 1182,891.2 1182.6,889.8 1182.9,888.7 1183.2,887.3 1183.5,886.5 1183.8,885.5 1184.4,884.8 1185.4,884.5 1186,883.2 1186.9,882.5 1187.5,881.7 1188.5,882.3 1189.1,881.1 1189.7,880.2 1190.6,879.8 1191.6,879.8 1192.5,879.6 1193.1,879 1193.7,878.2 1194.7,878.6 1195.6,877.8 1196.5,878.1 1196.8,877.3 1197.7,876.7 1198.7,875.7 1199.3,876.8 1199.9,875.2 1200.5,875.9 1201.5,874.8 1202.1,876.1 1203,876.8 1203.6,876 1204.6,875.8 1205.5,875.7 1206.4,875 1207,875.5 1207.7,875 1208.3,873.8 1209.2,874.4 1210.1,874.6 1211.1,874.8 1212,875 1212.3,876 1213.2,876.1 1213.8,875.4 1214.2,874.6 1215.1,874.1 1215.7,876.4 1216,880.9 1216.3,885.3 1216.6,889.9 1216.9,893.2 1217.3,896.2 1217.6,898.6 1217.9,901 1218.2,903.4 1218.5,906.5 1218.8,907.7 1219.1,908.9 1219.4,910.4 1219.7,912 1220,913 1220.4,915 1220.7,916.1 1221,917.4 1221.3,919.1 1221.6,920 1221.9,920.9 1222.5,921.6 1222.8,923.4 1223.1,925.2 1223.8,926.6 1224.1,927.7 1224.4,928.9 1225,930.3 1225.6,930.8 1226.2,931.8 1226.5,932.7 1227.5,933.2 1228.4,934.1 1229,935 1229.6,936.4 1230.6,936.8 1231.2,937.6 1231.5,938.9 1231.8,937.8 1232.7,938.2 1233.7,939.3 1234.3,940.4 1235.2,941.4 1235.5,942.3 1236.1,942.9 1237.1,942 1238,942.5 1238.6,943.7 1239.2,944.2 1239.9,945.3 1240.8,945.5 1241.4,946.1 1242,947.2 1243,947.1 1243.6,947.7 1244.2,949.3 1245.1,949.2 1246,950 1246.7,950.8 1247.3,949.8 1248.2,949.3 1249.1,949.4 1249.8,950.9 1250.4,952.1 1250.7,950.9 1251.6,951.7 1251.9,950.9 1252.5,940.5 1252.9,922.7 1253.2,909.8 1253.5,900.4 1253.8,892.9 1254.1,887.7 1254.4,882.6 1254.7,877.9 1255,874.4 1255.3,871.3 1255.6,869.5 1256,867.4 1256.3,866.1 1256.6,864.6 1256.9,862.6 1257.2,860 1257.5,858.7 1257.8,857.6 1258.4,856 1259.1,854.7 1259.7,852.9 1260,851.8 1260.3,850.3 1260.6,849.4 1260.9,848.4 1261.2,846.7 1261.5,845.5 1261.8,844.3 1262.1,842.9 1262.8,842.2 1263.7,841 1264.3,839.6 1264.6,838.5 1265.2,837.7 1265.6,836.5 1266.2,835.1 1267.1,834.5 1268,833.8 1268.3,832.7 1269.3,831.7 1269.9,830.9 1270.8,831.3 1271.7,830.3 1272.7,829.7 1273.6,829 1274.5,828 1275.1,827.5 1275.8,825.8 1276.1,825 1277,824.4 1277.9,824.5 1278.9,824.4 1279.2,823.4 1279.8,824.6 1280.4,823.7 1281.3,823.1 1282,822.2 1282.9,822.2 1283.8,823 1284.7,823.3 1285.1,822.3 1286,822.5 1286.3,823.5 1287.2,822.8 1288.2,824.3 1288.8,823.1 1289.7,823.2 1290.3,822.2 1290.9,823.1 1291.6,822 1291.9,820.8 1292.8,829.5 1293.1,837.1 1293.4,843.3 1293.7,850.3 1294,856 1294.3,861.7 1294.7,866.6 1295,870.8 1295.3,874.3 1295.6,878.2 1295.9,881.4 1296.2,883.5 1296.5,885.9 1296.8,888.1 1297.1,890.2 1297.4,892.5 1297.8,894.3 1298.1,896 1298.4,897.8 1298.7,899 1299,900.7 1299.3,901.8 1299.6,903.3 1299.9,904.4 1300.2,906.1 1300.5,907.7 1300.8,909.4 1301.5,910.7 1301.8,911.7 1302.1,912.4 1302.4,913.9 1302.7,914.7 1303,915.9 1303.3,917.6 1303.6,918.4 1303.9,919.5 1304.6,920.5 1304.9,921.4 1305.5,922.2 1305.8,923.5 1306.4,924.9 1307,925.7 1307.3,926.6 1307.7,928.4 1308.6,928.9 1308.9,929.8 1309.5,930.6 1310.4,929.8 1311.4,931.1 1311.7,932.7 1312.3,933.3 1312.9,934.4 1313.8,935.3 1314.5,936.2 1315.4,937.4 1316.3,937.8 1316.9,938.6 1317.6,939.9 1318.5,939.8 1319.1,941.2 1319.4,942.1 1319.7,943.3 1320.7,943.2 1321.6,943.6 1322.5,944.8 1323.4,945.6 1324.1,946.8 1325,946.6 1325.9,947.4 1326.9,948.6 1327.5,949.4 1328.4,949.7 1329.3,950.1 1329.6,951.7 1330.3,950.7 1330.9,951.8 1331.5,951.2 1332.1,929.1 1332.4,905.2 1332.7,887.1 1333,873.4 1333.4,862.8 1333.7,854.1 1334,847.4 1334.3,840.6 1334.6,835.3 1334.9,830.6 1335.2,827.7 1335.5,824.4 1335.8,821.3 1336.1,818.3 1336.5,815.4 1336.8,813.3 1337.1,811.3 1337.4,808.4 1337.7,805.2 1338,802.2 1338.3,800.7 1338.6,799.4 1338.9,797.6 1339.2,795.7 1339.5,793.2 1339.9,792 1340.2,790.9 1340.5,789 1340.8,788 1341.1,787.1 1341.4,785.5 1341.7,784.3 1342,783.5 1342.3,782.3 1342.6,781.3 1343,780.1 1343.3,779.2 1343.6,777.7 1343.9,776.8 1344.2,776 1344.5,774.4 1345.1,772.4 1345.4,771.2 1346,769.6 1346.7,768.5 1347.3,767.8 1347.6,766.8 1348.2,765.4 1348.5,764.5 1348.8,763.3 1349.1,762.5 1349.5,761.4 1350.4,760.2 1350.7,759.1 1351.3,758.5 1352.2,757.6 1353.2,756.6 1353.8,756 1354.1,754.6 1354.7,754 1355.3,753.4 1356,752.8 1356.9,752.8 1357.8,752.3 1358.4,751.4 1359.1,750.7 1360,751.5 1360.9,750.9 1361.8,750.3 1362.1,748.9 1363.1,748 1364,748.2 1364.9,748 1365.6,747.1 1366.2,746.3 1367.1,746.1 1367.7,746.9 1368.6,746.4 1369,747.3 1369.6,746.3 1370.5,746.1 1371.1,746.8 1372.1,754.4 1372.4,767.4 1372.7,778.8 1373,789.8 1373.3,799.2 1373.6,808.3 1373.9,815.6 1374.2,822.2 1374.5,828.5 1374.8,833.9 1375.2,838.7 1375.5,843 1375.8,848 1376.1,852 1376.4,856.3 1376.7,860.4 1377,862.8 1377.3,865.2 1377.6,867.2 1377.9,869.5 1378.2,872.2 1378.6,874.4 1378.9,876.9 1379.2,878.3 1379.5,881.5 1379.8,883.1 1380.1,885.1 1380.4,886.4 1380.7,887.5 1381,889.5 1381.3,890.4 1381.7,891.5 1382,893.9 1382.6,896.5 1382.9,898.5 1383.2,899.3 1383.5,900.9 1383.8,902 1384.1,903.2 1384.4,904.8 1385.1,905.5 1385.4,906.7 1386,908.4 1386.3,909.5 1386.6,910.8 1386.9,912.5 1387.2,913.7 1387.5,915 1388.2,916.5 1388.5,917.6 1389.1,918.5 1389.7,919.7 1390,920.8 1390.3,922 1390.9,923.6 1391.2,924.3 1392.2,925.9 1392.8,927.4 1393.1,928.3 1393.4,929.1 1394,930.1 1394.7,931 1395,932.1 1395.6,933.4 1396.2,935.3 1396.8,937.1 1397.8,937.1 1398.1,938.1 1399,938.9 1399.3,940 1399.9,942 1400.8,943 1401.8,942.9 1402.7,943.3 1403.3,943.9 1403.6,944.9 1404.3,946.5 1404.9,947.3 1405.8,947.3 1406.7,948.3 1407.3,949.6 1408,948.9 1408.6,950.7 1408.9,919.1 1409.2,879.8 1409.5,849.9 1409.8,828.9 1410.1,811.7 1410.4,799.8 1410.8,789.7 1411.1,782.4 1411.4,776.1 1411.7,771.9 1412,766.8 1412.3,762.8 1412.6,759.7 1412.9,757.4 1413.2,754.3 1413.5,751.5 1413.9,749.6 1414.2,746.8 1414.5,744.5 1414.8,742.9 1415.1,741.1 1415.4,740.2 1415.7,737.7 1416,735.3 1416.3,733.6 1416.6,732.5 1416.9,731.4 1417.3,729.9 1417.6,728.7 1417.9,727 1418.2,726 1418.5,724.1 1418.8,722.2 1419.1,721.4 1419.4,720.7 1420,719.6 1420.4,718.3 1421,716 1421.6,715 1421.9,713.6 1422.2,712.5 1423.1,711.9 1423.4,711.1 1423.8,710.2 1424.4,708.8 1424.7,707.7 1425.6,707.1 1425.9,706 1426.2,704.6 1426.9,703.8 1427.8,702.8 1428.4,702.3 1429,701 1429.9,700.5 1430.6,699.8 1430.9,698.6 1431.8,699.1 1432.7,699.1 1433.7,698 1434.3,698.6 1435.2,698.7 1435.8,698.1 1436.1,696.9 1437.1,696.4 1437.4,695.5 1438,696 1438.9,695.8 1439.5,696.4 1440.5,696.1 1441.4,695.5 1441.7,694.8 1442,694 1442.6,695.3 1443.6,695.1 1444.5,694.3 1445.4,693.8 1445.7,694.7 1446.4,693.2 1447,693.8 1447.9,693.8 1448.8,693.6 1449.1,703 1449.5,720.5 1449.8,734.6 1450.1,747.4 1450.4,759 1450.7,769.7 1451,779.2 1451.3,787.5 1451.6,795.8 1451.9,802.7 1452.2,809.5 1452.6,814.3 1452.9,819.6 1453.2,824.5 1453.5,828.7 1453.8,832.7 1454.1,836.4 1454.4,840.6 1454.7,844.1 1455,847.1 1455.3,850.2 1455.6,853.1 1456,856.3 1456.3,858.8 1456.6,860.7 1456.9,863.8 1457.2,866.7 1457.5,869.4 1457.8,872 1458.1,873.2 1458.4,874.1 1458.7,875.8 1459.1,877.6 1459.4,878.7 1459.7,880 1460,882.9 1460.3,884.6 1460.9,886.8 1461.2,888.7 1461.5,890.5 1462.1,892.8 1462.5,893.9 1462.8,894.7 1463.1,896.1 1463.4,897.4 1463.7,899.2 1464,901 1464.6,903.4 1465.2,904.4 1465.9,906.2 1466.2,907.7 1466.5,908.8 1467.1,910 1467.4,910.9 1467.7,912.1 1468.3,914.7 1468.6,916.1 1469.3,916.8 1469.9,919.2 1470.2,920.4 1470.5,921.3 1471.1,922.1 1471.4,923.1 1472.1,924.7 1472.7,925.9 1473.3,926.5 1473.6,927.8 1474.2,928.5 1474.5,929.5 1475.2,930.5 1475.5,931.3 1476.4,932.4 1477.3,933.9 1477.9,934.8 1478.2,935.7 1478.9,936.2 1479.5,937.4 1480.1,938.8 1481,939.9 1481.3,940.9 1481.7,941.6 1482.3,942.7 1482.9,943.7 1483.8,943.8 1484.7,945.4 1485.4,946.2 1486.3,946.3 1486.9,945.4 1487.5,946.1" fill="none" stroke="#000" stroke-width="1.5" stroke-linejoin="round"/>
<path d="M1147.7 946.8h6.6v6.6h-6.6zM1149.2 947.7h6.6v6.6h-6.6zM1150.2 948.7h6.6v6.6h-6.6zM1151.4 949.3h6.6v6.6h-6.6zM1152.3 950.3h6.6v6.6h-6.6zM1153.6 949.1h6.6v6.6h-6.6zM1154.8 948.7h6.6v6.6h-6.6zM1156.4 948.7h6.6v6.6h-6.6zM1157.6 949.9h6.6v6.6h-6.6zM1158.8 948.6h6.6v6.6h-6.6zM1159.8 949.8h6.6v6.6h-6.6zM1161 949.1h6.6v6.6h-6.6zM1162.6 949.5h6.6v6.6h-6.6zM1163.8 950.3h6.6v6.6h-6.6zM1164.7 949.1h6.6v6.6h-6.6zM1166 949.7h6.6v6.6h-6.6zM1167.2 948.8h6.6v6.6h-6.6zM1168.8 948.1h6.6v6.6h-6.6zM1170.3 948.3h6.6v6.6h-6.6zM1171.8 949.5h6.6v6.6h-6.6zM1172.5 942.4h6.6v6.6h-6.6zM1172.8 932.3h6.6v6.6h-6.6zM1173.1 924.2h6.6v6.6h-6.6zM1173.4 918.9h6.6v6.6h-6.6zM1173.7 913.9h6.6v6.6h-6.6zM1174 910.4h6.6v6.6h-6.6zM1174.3 907.4h6.6v6.6h-6.6zM1174.6 905h6.6v6.6h-6.6zM1174.9 903.1h6.6v6.6h-6.6zM1175.3 901.6h6.6v6.6h-6.6zM1175.6 899.8h6.6v6.6h-6.6zM1175.9 897.3h6.6v6.6h-6.6zM1176.2 895.7h6.6v6.6h-6.6zM1176.5 894.3h6.6v6.6h-6.6zM1177.1 892.7h6.6v6.6h-6.6zM1177.7 889.9h6.6v6.6h-6.6zM1178.7 887.9h6.6v6.6h-6.6zM1179.3 886.5h6.6v6.6h-6.6zM1179.9 884h6.6v6.6h-6.6zM1180.5 882.2h6.6v6.6h-6.6zM1181.8 881.1h6.6v6.6h-6.6zM1182.7 879.9h6.6v6.6h-6.6zM1183.9 879h6.6v6.6h-6.6zM1185.5 878.4h6.6v6.6h-6.6zM1186.1 877.1h6.6v6.6h-6.6zM1187.3 876.5h6.6v6.6h-6.6zM1188.9 876.3h6.6v6.6h-6.6zM1190.1 875.2h6.6v6.6h-6.6zM1191.7 875.3h6.6v6.6h-6.6zM1192.9 874.7h6.6v6.6h-6.6zM1193.8 873.8h6.6v6.6h-6.6zM1195.1 873h6.6v6.6h-6.6zM1196.3 873.5h6.6v6.6h-6.6zM1196.6 871.9h6.6v6.6h-6.6zM1198.2 871.5h6.6v6.6h-6.6zM1198.8 872.8h6.6v6.6h-6.6zM1200.3 872.7h6.6v6.6h-6.6zM1201.9 872.7h6.6v6.6h-6.6zM1203.1 871.7h6.6v6.6h-6.6zM1204.7 871.4h6.6v6.6h-6.6zM1205.3 869.9h6.6v6.6h-6.6zM1205.9 871.1h6.6v6.6h-6.6zM1207.1 871.9h6.6v6.6h-6.6zM1208.4 871.2h6.6v6.6h-6.6zM1209 872.7h6.6v6.6h-6.6zM1210.2 872.2h6.6v6.6h-6.6zM1211.2 871.2h6.6v6.6h-6.6zM1212.4 873.1h6.6v6.6h-6.6zM1212.7 877.6h6.6v6.6h-6.6zM1213 882h6.6v6.6h-6.6zM1213.3 886.6h6.6v6.6h-6.6zM1213.6 889.9h6.6v6.6h-6.6zM1214 892.9h6.6v6.6h-6.6zM1214.3 895.3h6.6v6.6h-6.6zM1214.6 897.7h6.6v6.6h-6.6zM1214.9 900.1h6.6v6.6h-6.6zM1215.2 903.2h6.6v6.6h-6.6zM1215.8 905.6h6.6v6.6h-6.6zM1216.1 907.1h6.6v6.6h-6.6zM1216.4 908.7h6.6v6.6h-6.6zM1217.1 911.7h6.6v6.6h-6.6zM1217.7 914.1h6.6v6.6h-6.6zM1218 915.8h6.6v6.6h-6.6zM1218.6 917.6h6.6v6.6h-6.6zM1219.5 920.1h6.6v6.6h-6.6zM1219.8 921.9h6.6v6.6h-6.6zM1220.5 923.3h6.6v6.6h-6.6zM1221.1 925.6h6.6v6.6h-6.6zM1221.7 927h6.6v6.6h-6.6zM1222.9 928.5h6.6v6.6h-6.6zM1223.6 929.8h6.6v6.6h-6.6zM1224.8 930.3h6.6v6.6h-6.6zM1225.7 931.7h6.6v6.6h-6.6zM1226.3 933.1h6.6v6.6h-6.6zM1227.6 933.8h6.6v6.6h-6.6zM1228.2 935.6h6.6v6.6h-6.6zM1229.1 934.6h6.6v6.6h-6.6zM1230.4 936h6.6v6.6h-6.6zM1231.3 937.5h6.6v6.6h-6.6zM1232.2 939h6.6v6.6h-6.6zM1233.8 938.7h6.6v6.6h-6.6zM1235 939.7h6.6v6.6h-6.6zM1235.9 940.9h6.6v6.6h-6.6zM1237.2 941.7h6.6v6.6h-6.6zM1238.1 942.8h6.6v6.6h-6.6zM1239 944.5h6.6v6.6h-6.6zM1240.6 944.8h6.6v6.6h-6.6zM1241.2 946h6.6v6.6h-6.6zM1242.7 946.7h6.6v6.6h-6.6zM1244.3 947.1h6.6v6.6h-6.6zM1245.5 945.9h6.6v6.6h-6.6zM1246.5 947.6h6.6v6.6h-6.6zM1247.1 948.8h6.6v6.6h-6.6zM1247.4 947.6h6.6v6.6h-6.6zM1248.9 948.3h6.6v6.6h-6.6zM1249.2 937.2h6.6v6.6h-6.6zM1249.6 919.4h6.6v6.6h-6.6zM1249.9 906.5h6.6v6.6h-6.6zM1250.2 897.1h6.6v6.6h-6.6zM1250.5 889.6h6.6v6.6h-6.6zM1250.8 884.4h6.6v6.6h-6.6zM1251.1 879.3h6.6v6.6h-6.6zM1251.4 874.6h6.6v6.6h-6.6zM1251.7 871.1h6.6v6.6h-6.6zM1252 868h6.6v6.6h-6.6zM1252.3 866.2h6.6v6.6h-6.6zM1252.7 864.1h6.6v6.6h-6.6zM1253 862.8h6.6v6.6h-6.6zM1253.3 861.3h6.6v6.6h-6.6zM1253.6 859.3h6.6v6.6h-6.6zM1253.9 856.7h6.6v6.6h-6.6zM1254.5 854.3h6.6v6.6h-6.6zM1255.1 852.7h6.6v6.6h-6.6zM1255.8 851.4h6.6v6.6h-6.6zM1256.4 849.6h6.6v6.6h-6.6zM1257 847h6.6v6.6h-6.6zM1257.6 845.1h6.6v6.6h-6.6zM1257.9 843.4h6.6v6.6h-6.6zM1258.5 841h6.6v6.6h-6.6zM1258.8 839.6h6.6v6.6h-6.6zM1259.8 838.6h6.6v6.6h-6.6zM1260.7 837.2h6.6v6.6h-6.6zM1261.3 835.2h6.6v6.6h-6.6zM1262.3 833.2h6.6v6.6h-6.6zM1262.9 831.8h6.6v6.6h-6.6zM1264.4 830.8h6.6v6.6h-6.6zM1265 829.4h6.6v6.6h-6.6zM1266.3 828.2h6.6v6.6h-6.6zM1267.8 827.7h6.6v6.6h-6.6zM1268.8 826.7h6.6v6.6h-6.6zM1270.3 825.7h6.6v6.6h-6.6zM1271.2 824.7h6.6v6.6h-6.6zM1272.5 822.5h6.6v6.6h-6.6zM1273.1 821.1h6.6v6.6h-6.6zM1274.6 821.2h6.6v6.6h-6.6zM1275.9 820.1h6.6v6.6h-6.6zM1276.5 821.3h6.6v6.6h-6.6zM1277.7 820.1h6.6v6.6h-6.6zM1278.7 818.9h6.6v6.6h-6.6zM1279.9 819.3h6.6v6.6h-6.6zM1280.8 820.3h6.6v6.6h-6.6zM1281.8 819h6.6v6.6h-6.6zM1283 820.2h6.6v6.6h-6.6zM1284.5 819.9h6.6v6.6h-6.6zM1286.1 819.9h6.6v6.6h-6.6zM1287 818.9h6.6v6.6h-6.6zM1288.6 817.5h6.6v6.6h-6.6zM1289.5 826.2h6.6v6.6h-6.6zM1289.8 833.8h6.6v6.6h-6.6zM1290.1 840h6.6v6.6h-6.6zM1290.4 847h6.6v6.6h-6.6zM1290.7 852.7h6.6v6.6h-6.6zM1291 858.4h6.6v6.6h-6.6zM1291.4 863.3h6.6v6.6h-6.6zM1291.7 867.5h6.6v6.6h-6.6zM1292 871h6.6v6.6h-6.6zM1292.3 874.9h6.6v6.6h-6.6zM1292.6 878.1h6.6v6.6h-6.6zM1292.9 880.2h6.6v6.6h-6.6zM1293.2 882.6h6.6v6.6h-6.6zM1293.5 884.8h6.6v6.6h-6.6zM1293.8 886.9h6.6v6.6h-6.6zM1294.1 889.2h6.6v6.6h-6.6zM1294.5 891h6.6v6.6h-6.6zM1294.8 892.7h6.6v6.6h-6.6zM1295.1 894.5h6.6v6.6h-6.6zM1295.7 897.4h6.6v6.6h-6.6zM1296.3 900h6.6v6.6h-6.6zM1296.9 902.8h6.6v6.6h-6.6zM1297.2 904.4h6.6v6.6h-6.6zM1297.5 906.1h6.6v6.6h-6.6zM1298.2 907.4h6.6v6.6h-6.6zM1298.8 909.1h6.6v6.6h-6.6zM1299.1 910.6h6.6v6.6h-6.6zM1299.7 912.6h6.6v6.6h-6.6zM1300 914.3h6.6v6.6h-6.6zM1300.6 916.2h6.6v6.6h-6.6zM1301.6 918.1h6.6v6.6h-6.6zM1302.5 920.2h6.6v6.6h-6.6zM1303.1 921.6h6.6v6.6h-6.6zM1304 923.3h6.6v6.6h-6.6zM1304.4 925.1h6.6v6.6h-6.6zM1305.6 926.5h6.6v6.6h-6.6zM1306.5 927.7h6.6v6.6h-6.6zM1307.1 926.5h6.6v6.6h-6.6zM1308.1 927.8h6.6v6.6h-6.6zM1308.4 929.4h6.6v6.6h-6.6zM1309.3 930.5h6.6v6.6h-6.6zM1310.2 931.5h6.6v6.6h-6.6zM1311.2 932.9h6.6v6.6h-6.6zM1312.1 934.1h6.6v6.6h-6.6zM1313.3 934.5h6.6v6.6h-6.6zM1314 936h6.6v6.6h-6.6zM1314.9 937.1h6.6v6.6h-6.6zM1316.1 938.8h6.6v6.6h-6.6zM1317.1 939.7h6.6v6.6h-6.6zM1318.3 940.3h6.6v6.6h-6.6zM1319.2 941.5h6.6v6.6h-6.6zM1320.5 942.7h6.6v6.6h-6.6zM1321.4 943.8h6.6v6.6h-6.6zM1322.9 944.7h6.6v6.6h-6.6zM1324.2 946.1h6.6v6.6h-6.6zM1325.4 946.9h6.6v6.6h-6.6zM1326.3 948.4h6.6v6.6h-6.6zM1327.9 947.9h6.6v6.6h-6.6zM1328.8 925.8h6.6v6.6h-6.6zM1329.1 901.9h6.6v6.6h-6.6zM1329.4 883.8h6.6v6.6h-6.6zM1329.7 870.1h6.6v6.6h-6.6zM1330.1 859.5h6.6v6.6h-6.6zM1330.4 850.8h6.6v6.6h-6.6zM1330.7 844.1h6.6v6.6h-6.6zM1331 837.3h6.6v6.6h-6.6zM1331.3 832h6.6v6.6h-6.6zM1331.6 827.3h6.6v6.6h-6.6zM1331.9 824.4h6.6v6.6h-6.6zM1332.2 821.1h6.6v6.6h-6.6zM1332.5 818h6.6v6.6h-6.6zM1332.8 815h6.6v6.6h-6.6zM1333.2 812.1h6.6v6.6h-6.6zM1333.5 810h6.6v6.6h-6.6zM1333.8 808h6.6v6.6h-6.6zM1334.1 805.1h6.6v6.6h-6.6zM1334.4 801.9h6.6v6.6h-6.6zM1334.7 798.9h6.6v6.6h-6.6zM1335 797.4h6.6v6.6h-6.6zM1335.3 796.1h6.6v6.6h-6.6zM1335.6 794.3h6.6v6.6h-6.6zM1335.9 792.4h6.6v6.6h-6.6zM1336.2 789.9h6.6v6.6h-6.6zM1336.6 788.7h6.6v6.6h-6.6zM1337.2 785.7h6.6v6.6h-6.6zM1337.8 783.8h6.6v6.6h-6.6zM1338.1 782.2h6.6v6.6h-6.6zM1338.7 780.2h6.6v6.6h-6.6zM1339.3 778h6.6v6.6h-6.6zM1340 775.9h6.6v6.6h-6.6zM1340.3 774.4h6.6v6.6h-6.6zM1340.9 772.7h6.6v6.6h-6.6zM1341.2 771.1h6.6v6.6h-6.6zM1341.8 769.1h6.6v6.6h-6.6zM1342.4 767.3h6.6v6.6h-6.6zM1343.4 765.2h6.6v6.6h-6.6zM1344.3 763.5h6.6v6.6h-6.6zM1344.9 762.1h6.6v6.6h-6.6zM1345.5 760h6.6v6.6h-6.6zM1346.2 758.1h6.6v6.6h-6.6zM1347.1 756.9h6.6v6.6h-6.6zM1347.7 755.3h6.6v6.6h-6.6zM1348.9 754.3h6.6v6.6h-6.6zM1349.9 753.3h6.6v6.6h-6.6zM1350.8 751.3h6.6v6.6h-6.6zM1351.7 750.1h6.6v6.6h-6.6zM1353.3 749.9h6.6v6.6h-6.6zM1354.2 749h6.6v6.6h-6.6zM1355.4 747.4h6.6v6.6h-6.6zM1356.7 748.2h6.6v6.6h-6.6zM1358.2 747.6h6.6v6.6h-6.6zM1358.8 745.6h6.6v6.6h-6.6zM1359.8 744.7h6.6v6.6h-6.6zM1361 745.4h6.6v6.6h-6.6zM1361.9 744h6.6v6.6h-6.6zM1362.9 743h6.6v6.6h-6.6zM1364.4 743.6h6.6v6.6h-6.6zM1365.7 744h6.6v6.6h-6.6zM1366.6 742.4h6.6v6.6h-6.6zM1367.8 743.5h6.6v6.6h-6.6zM1368.8 751.1h6.6v6.6h-6.6zM1369.1 764.1h6.6v6.6h-6.6zM1369.4 775.5h6.6v6.6h-6.6zM1369.7 786.5h6.6v6.6h-6.6zM1370 795.9h6.6v6.6h-6.6zM1370.3 805h6.6v6.6h-6.6zM1370.6 812.3h6.6v6.6h-6.6zM1370.9 818.9h6.6v6.6h-6.6zM1371.2 825.2h6.6v6.6h-6.6zM1371.5 830.6h6.6v6.6h-6.6zM1371.9 835.4h6.6v6.6h-6.6zM1372.2 839.7h6.6v6.6h-6.6zM1372.5 844.7h6.6v6.6h-6.6zM1372.8 848.7h6.6v6.6h-6.6zM1373.1 853h6.6v6.6h-6.6zM1373.4 857.1h6.6v6.6h-6.6zM1373.7 859.5h6.6v6.6h-6.6zM1374 861.9h6.6v6.6h-6.6zM1374.3 863.9h6.6v6.6h-6.6zM1374.6 866.2h6.6v6.6h-6.6zM1374.9 868.9h6.6v6.6h-6.6zM1375.3 871.1h6.6v6.6h-6.6zM1375.6 873.6h6.6v6.6h-6.6zM1375.9 875h6.6v6.6h-6.6zM1376.2 878.2h6.6v6.6h-6.6zM1376.5 879.8h6.6v6.6h-6.6zM1376.8 881.8h6.6v6.6h-6.6zM1377.1 883.1h6.6v6.6h-6.6zM1377.7 886.2h6.6v6.6h-6.6zM1378.4 888.2h6.6v6.6h-6.6zM1378.7 890.6h6.6v6.6h-6.6zM1379.3 893.2h6.6v6.6h-6.6zM1379.6 895.2h6.6v6.6h-6.6zM1380.2 897.6h6.6v6.6h-6.6zM1380.8 899.9h6.6v6.6h-6.6zM1381.1 901.5h6.6v6.6h-6.6zM1382.1 903.4h6.6v6.6h-6.6zM1382.7 905.1h6.6v6.6h-6.6zM1383.3 907.5h6.6v6.6h-6.6zM1383.6 909.2h6.6v6.6h-6.6zM1384.2 911.7h6.6v6.6h-6.6zM1384.9 913.2h6.6v6.6h-6.6zM1385.5 914.5h6.6v6.6h-6.6zM1386.4 916.4h6.6v6.6h-6.6zM1387 918.7h6.6v6.6h-6.6zM1387.6 920.3h6.6v6.6h-6.6zM1388.6 921.4h6.6v6.6h-6.6zM1389.2 923.2h6.6v6.6h-6.6zM1389.8 925h6.6v6.6h-6.6zM1390.4 926.4h6.6v6.6h-6.6zM1391.4 927.7h6.6v6.6h-6.6zM1392 929.4h6.6v6.6h-6.6zM1392.6 930.8h6.6v6.6h-6.6zM1393.2 932.5h6.6v6.6h-6.6zM1393.5 933.8h6.6v6.6h-6.6zM1394.8 934.8h6.6v6.6h-6.6zM1396 936.7h6.6v6.6h-6.6zM1396.6 938.7h6.6v6.6h-6.6zM1397.5 939.7h6.6v6.6h-6.6zM1399.1 939.5h6.6v6.6h-6.6zM1400 940.6h6.6v6.6h-6.6zM1400.6 942.2h6.6v6.6h-6.6zM1401.6 944h6.6v6.6h-6.6zM1402.8 943.6h6.6v6.6h-6.6zM1403.4 945h6.6v6.6h-6.6zM1404 946.3h6.6v6.6h-6.6zM1405.3 947.4h6.6v6.6h-6.6zM1405.6 915.8h6.6v6.6h-6.6zM1405.9 876.5h6.6v6.6h-6.6zM1406.2 846.6h6.6v6.6h-6.6zM1406.5 825.6h6.6v6.6h-6.6zM1406.8 808.4h6.6v6.6h-6.6zM1407.1 796.5h6.6v6.6h-6.6zM1407.5 786.4h6.6v6.6h-6.6zM1407.8 779.1h6.6v6.6h-6.6zM1408.1 772.8h6.6v6.6h-6.6zM1408.4 768.6h6.6v6.6h-6.6zM1408.7 763.5h6.6v6.6h-6.6zM1409 759.5h6.6v6.6h-6.6zM1409.3 756.4h6.6v6.6h-6.6zM1409.6 754.1h6.6v6.6h-6.6zM1409.9 751h6.6v6.6h-6.6zM1410.2 748.2h6.6v6.6h-6.6zM1410.6 746.3h6.6v6.6h-6.6zM1410.9 743.5h6.6v6.6h-6.6zM1411.2 741.2h6.6v6.6h-6.6zM1411.5 739.6h6.6v6.6h-6.6zM1411.8 737.8h6.6v6.6h-6.6zM1412.4 734.4h6.6v6.6h-6.6zM1412.7 732h6.6v6.6h-6.6zM1413 730.3h6.6v6.6h-6.6zM1413.6 728.1h6.6v6.6h-6.6zM1414 726.6h6.6v6.6h-6.6zM1414.6 723.7h6.6v6.6h-6.6zM1415.2 720.8h6.6v6.6h-6.6zM1415.5 718.9h6.6v6.6h-6.6zM1416.1 717.4h6.6v6.6h-6.6zM1417.1 715h6.6v6.6h-6.6zM1417.7 712.7h6.6v6.6h-6.6zM1418.6 710.3h6.6v6.6h-6.6zM1419.5 708.9h6.6v6.6h-6.6zM1420.5 706.9h6.6v6.6h-6.6zM1421.1 705.5h6.6v6.6h-6.6zM1421.7 703.9h6.6v6.6h-6.6zM1422.6 702.7h6.6v6.6h-6.6zM1422.9 701.3h6.6v6.6h-6.6zM1424.2 700.4h6.6v6.6h-6.6zM1425.1 699h6.6v6.6h-6.6zM1425.7 697.7h6.6v6.6h-6.6zM1427 697.2h6.6v6.6h-6.6zM1427.6 695.3h6.6v6.6h-6.6zM1428.8 695.9h6.6v6.6h-6.6zM1430.4 694.7h6.6v6.6h-6.6zM1431.9 695.4h6.6v6.6h-6.6zM1432.8 693.6h6.6v6.6h-6.6zM1434.1 692.2h6.6v6.6h-6.6zM1435.3 693h6.6v6.6h-6.6zM1436.9 693.3h6.6v6.6h-6.6zM1438.1 692.2h6.6v6.6h-6.6zM1438.7 690.7h6.6v6.6h-6.6zM1439.3 692h6.6v6.6h-6.6zM1440.9 691.8h6.6v6.6h-6.6zM1441.8 690.7h6.6v6.6h-6.6zM1443.1 689.9h6.6v6.6h-6.6zM1444.3 690.5h6.6v6.6h-6.6zM1445.8 699.7h6.6v6.6h-6.6zM1446.2 717.2h6.6v6.6h-6.6zM1446.5 731.3h6.6v6.6h-6.6zM1446.8 744.1h6.6v6.6h-6.6zM1447.1 755.7h6.6v6.6h-6.6zM1447.4 766.4h6.6v6.6h-6.6zM1447.7 775.9h6.6v6.6h-6.6zM1448 784.2h6.6v6.6h-6.6zM1448.3 792.5h6.6v6.6h-6.6zM1448.6 799.4h6.6v6.6h-6.6zM1448.9 806.2h6.6v6.6h-6.6zM1449.3 811h6.6v6.6h-6.6zM1449.6 816.3h6.6v6.6h-6.6zM1449.9 821.2h6.6v6.6h-6.6zM1450.2 825.4h6.6v6.6h-6.6zM1450.5 829.4h6.6v6.6h-6.6zM1450.8 833.1h6.6v6.6h-6.6zM1451.1 837.3h6.6v6.6h-6.6zM1451.4 840.8h6.6v6.6h-6.6zM1451.7 843.8h6.6v6.6h-6.6zM1452 846.9h6.6v6.6h-6.6zM1452.3 849.8h6.6v6.6h-6.6zM1452.7 853h6.6v6.6h-6.6zM1453 855.5h6.6v6.6h-6.6zM1453.3 857.4h6.6v6.6h-6.6zM1453.6 860.5h6.6v6.6h-6.6zM1453.9 863.4h6.6v6.6h-6.6zM1454.2 866.1h6.6v6.6h-6.6zM1454.5 868.7h6.6v6.6h-6.6zM1455.1 870.8h6.6v6.6h-6.6zM1455.4 872.5h6.6v6.6h-6.6zM1455.8 874.3h6.6v6.6h-6.6zM1456.4 876.7h6.6v6.6h-6.6zM1456.7 879.6h6.6v6.6h-6.6zM1457 881.3h6.6v6.6h-6.6zM1457.6 883.5h6.6v6.6h-6.6zM1457.9 885.4h6.6v6.6h-6.6zM1458.2 887.2h6.6v6.6h-6.6zM1458.8 889.5h6.6v6.6h-6.6zM1459.5 891.4h6.6v6.6h-6.6zM1459.8 892.8h6.6v6.6h-6.6zM1460.1 894.1h6.6v6.6h-6.6zM1460.4 895.9h6.6v6.6h-6.6zM1460.7 897.7h6.6v6.6h-6.6zM1461.3 900.1h6.6v6.6h-6.6zM1462.3 901.6h6.6v6.6h-6.6zM1462.6 902.9h6.6v6.6h-6.6zM1462.9 904.4h6.6v6.6h-6.6zM1463.5 905.9h6.6v6.6h-6.6zM1464.1 907.6h6.6v6.6h-6.6zM1464.7 909.4h6.6v6.6h-6.6zM1465 911.4h6.6v6.6h-6.6zM1465.3 912.8h6.6v6.6h-6.6zM1466.3 914.1h6.6v6.6h-6.6zM1466.6 915.9h6.6v6.6h-6.6zM1467.2 918h6.6v6.6h-6.6zM1468.1 919.8h6.6v6.6h-6.6zM1468.8 921.4h6.6v6.6h-6.6zM1469.4 922.6h6.6v6.6h-6.6zM1470.3 924.5h6.6v6.6h-6.6zM1471.2 926.2h6.6v6.6h-6.6zM1472.2 928h6.6v6.6h-6.6zM1473.1 929.1h6.6v6.6h-6.6zM1474 930.6h6.6v6.6h-6.6zM1474.9 932.4h6.6v6.6h-6.6zM1475.9 933.4h6.6v6.6h-6.6zM1476.8 935.5h6.6v6.6h-6.6zM1477.7 936.6h6.6v6.6h-6.6zM1478.4 938.3h6.6v6.6h-6.6zM1479.3 939.6h6.6v6.6h-6.6zM1480.5 940.5h6.6v6.6h-6.6zM1481.4 942.1h6.6v6.6h-6.6zM1482.7 943h6.6v6.6h-6.6zM1483.6 942.1h6.6v6.6h-6.6zM1484.2 942.8h6.6v6.6h-6.6z" fill="#000"/>
<rect x="1112.3" y="634.1" width="425.7" height="345.9" fill="none" stroke="#000" stroke-width="1.6"/>
<path d="M1112.3 951.2h7M1112.3 893.5h7M1112.3 835.9h7M1112.3 778.2h7M1112.3 720.6h7M1112.3 662.9h7M1112.3 922.4h3.6M1112.3 864.7h3.6M1112.3 807h3.6M1112.3 749.4h3.6M1112.3 691.8h3.6M1151 980v-7M1228.4 980v-7M1305.8 980v-7M1383.2 980v-7M1460.6 980v-7M1538 980v-7M1189.7 980v-3.6M1267.1 980v-3.6M1344.5 980v-3.6M1421.9 980v-3.6M1499.3 980v-3.6" stroke="#000" stroke-width="1.5" fill="none"/>
<text x="1104.7" y="957.6" font-family="'Liberation Sans', Arial, sans-serif" font-size="22" font-weight="normal" fill="#000" text-anchor="end" >0</text>
<text x="1104.7" y="899.9" font-family="'Liberation Sans', Arial, sans-serif" font-size="22" font-weight="normal" fill="#000" text-anchor="end" >2</text>
<text x="1104.7" y="842.3" font-family="'Liberation Sans', Arial, sans-serif" font-size="22" font-weight="normal" fill="#000" text-anchor="end" >4</text>
<text x="1104.7" y="784.6" font-family="'Liberation Sans', Arial, sans-serif" font-size="22" font-weight="normal" fill="#000" text-anchor="end" >6</text>
<text x="1104.7" y="727" font-family="'Liberation Sans', Arial, sans-serif" font-size="22" font-weight="normal" fill="#000" text-anchor="end" >8</text>
<text x="1104.7" y="669.3" font-family="'Liberation Sans', Arial, sans-serif" font-size="22" font-weight="normal" fill="#000" text-anchor="end" >10</text>
<text x="1151" y="1005.5" font-family="'Liberation Sans', Arial, sans-serif" font-size="23" font-weight="normal" fill="#000" text-anchor="middle" >0</text>
<text x="1228.4" y="1005.5" font-family="'Liberation Sans', Arial, sans-serif" font-size="23" font-weight="normal" fill="#000" text-anchor="middle" >10</text>
<text x="1305.8" y="1005.5" font-family="'Liberation Sans', Arial, sans-serif" font-size="23" font-weight="normal" fill="#000" text-anchor="middle" >20</text>
<text x="1383.2" y="1005.5" font-family="'Liberation Sans', Arial, sans-serif" font-size="23" font-weight="normal" fill="#000" text-anchor="middle" >30</text>
<text x="1460.6" y="1005.5" font-family="'Liberation Sans', Arial, sans-serif" font-size="23" font-weight="normal" fill="#000" text-anchor="middle" >40</text>
<text x="1538" y="1005.5" font-family="'Liberation Sans', Arial, sans-serif" font-size="23" font-weight="normal" fill="#000" text-anchor="middle" >50</text>
<text x="1133.3" y="681.8" font-family="'Liberation Sans', Arial, sans-serif" font-size="38.5" font-weight="normal" fill="#000" text-anchor="start" ><tspan font-family="&apos;Liberation Serif&apos;, &apos;Times New Roman&apos;, serif">&#955;</tspan><tspan dx="2">=</tspan>405 nm</text>
<text x="1390" y="673.4" font-family="'Liberation Sans', Arial, sans-serif" font-size="38.5" font-weight="normal" fill="#000" text-anchor="start" >12 mW</text>
<text x="1302" y="731" font-family="'Liberation Sans', Arial, sans-serif" font-size="38.5" font-weight="normal" fill="#000" text-anchor="start" >9 mW</text>
<text x="1225.4" y="802.6" font-family="'Liberation Sans', Arial, sans-serif" font-size="38.5" font-weight="normal" fill="#000" text-anchor="start" >6 mW</text>
<text x="1141.4" y="861.6" font-family="'Liberation Sans', Arial, sans-serif" font-size="38.5" font-weight="normal" fill="#000" text-anchor="start" >3 mW</text>
<text x="1324.7" y="1050" font-family="'Liberation Sans', Arial, sans-serif" font-size="39" font-weight="normal" fill="#000" text-anchor="middle" >Time (s)</text>
<text transform="translate(1066.5,805.4) rotate(-90)" font-family="'Liberation Sans', Arial, sans-serif" font-size="39" text-anchor="middle">Photocurrent (<tspan font-family="&apos;Liberation Serif&apos;, &apos;Times New Roman&apos;, serif">&#956;</tspan>A)</text>
<text x="1037" y="612.2" font-family="'Liberation Serif', 'Times New Roman', serif" font-size="48.5" font-weight="bold" fill="#000" text-anchor="start" >(f)</text>
<rect x="1689.8" y="640.6" width="40.7" height="348" fill="#00FF00"/>
<rect x="1766.7" y="640.6" width="40.3" height="348" fill="#00FF00"/>
<rect x="1845.4" y="640.6" width="40.7" height="348" fill="#00FF00"/>
<rect x="1922.6" y="640.6" width="40.6" height="348" fill="#00FF00"/>
<polyline points="1665.5,956.9 1666.4,956.4 1667.4,955.8 1668.3,955.8 1669.3,955.6 1669.9,956.6 1670.5,957.6 1671.1,958.9 1672.1,958.5 1673,958.5 1673.6,957.6 1674.6,958.9 1675.2,959.7 1675.8,959 1676.1,959.9 1676.5,959 1677.1,958.5 1677.7,957.6 1678.3,957.1 1679,957.6 1679.9,958.2 1680.2,957.4 1680.5,958.3 1681.2,958.9 1681.5,959.7 1681.8,958.3 1682.1,959.4 1683,957.9 1683.3,958.8 1683.7,958 1684.6,958.3 1685.5,958.1 1686.2,956.7 1686.5,958 1686.8,957 1687.7,956.7 1688.3,956.1 1689.3,956.6 1690.2,956.6 1690.5,949.6 1690.9,946.2 1691.2,944.5 1691.5,941.4 1691.8,939 1692.1,936.9 1692.4,935.4 1692.7,934.2 1693,933 1693.4,931.6 1694,930.8 1694.3,929.3 1695.2,927.5 1696.2,927.7 1697.1,927.9 1698,927.2 1699,926.9 1699.6,925.8 1699.9,925 1700.9,924.8 1701.8,923.8 1702.7,923.8 1703.4,924.3 1704.3,924.4 1705.2,923.9 1705.9,925 1706.5,923.5 1707.4,923.4 1708.4,922.1 1709,921.3 1709.9,921.8 1710.9,921.2 1711.8,920.6 1712.4,919.9 1713.4,919.6 1714.3,919.4 1715.3,919 1716.2,918.7 1717.1,918.7 1718.1,918.8 1718.7,917.9 1719.6,918.6 1720.3,917.7 1721.2,918.1 1722.1,917.5 1723.1,915.9 1723.7,915 1724,916.3 1724.3,917.5 1725,916.5 1725.9,917.5 1726.8,917.8 1727.5,916.9 1728.4,916.9 1729.3,915.9 1730,915.2 1730.6,917 1730.9,922.6 1731.2,925.4 1731.5,928.2 1731.8,930.2 1732.2,931.6 1732.5,933.4 1732.8,935.2 1733.1,937.2 1733.7,938.4 1734,939.3 1735,940.9 1735.6,941.9 1736.2,943.5 1737.2,943.5 1737.8,944.2 1738.4,945.2 1738.7,946.4 1739,947.4 1740,947.7 1740.6,948.2 1741.5,948.9 1742.5,949.3 1743.1,948.7 1744,949.3 1744.7,949.9 1745,950.8 1745.9,951.8 1746.9,951.4 1747.8,952.6 1748.7,953.3 1749.7,953.8 1750.3,954.5 1751.2,955.6 1751.9,956.1 1752.8,955.8 1753.4,956.5 1754.1,955.6 1754.4,956.6 1755,955.5 1755.9,955.7 1756.9,954.7 1757.8,956.2 1758.4,956.8 1759.1,957.4 1759.7,956.3 1760.6,956.1 1761.6,956.1 1762.5,955.4 1763.4,954.5 1763.8,955.3 1764.1,956.5 1765,956.3 1765.9,957.2 1766.9,957.4 1767.2,955.6 1767.5,946.7 1767.8,939.7 1768.1,934.9 1768.4,930.5 1768.8,926.4 1769.1,922.7 1769.4,919.9 1769.7,916.8 1770,915 1770.3,913.9 1770.6,912.8 1770.9,911.2 1771.6,909.1 1771.9,907.9 1772.2,907 1772.5,906 1773.1,905.4 1774.1,905.8 1775,905.9 1775.6,904.5 1776.3,903.2 1776.6,902.4 1776.9,901.6 1777.5,902.5 1778.1,901.5 1778.8,900.5 1779.1,899.8 1780,899.9 1780.3,901 1781,899.8 1781.9,899.8 1782.8,899.1 1783.8,898.5 1784.7,897.1 1785,896 1785.3,894.9 1785.7,895.8 1786.3,896.8 1786.9,896.1 1787.5,897.3 1788.2,896.4 1789.1,897.6 1789.7,897.1 1790.3,895.5 1791,896.8 1791.6,896.2 1792.2,895.1 1792.8,893.7 1793.8,893.8 1794.1,892.7 1795,892.6 1795.7,892 1796.6,891.5 1796.9,892.3 1797.9,892.1 1798.8,892.1 1799.4,891 1800,891.5 1801,890.9 1801.3,890.1 1802.2,890 1803.2,890.1 1803.5,891.1 1804.1,890.4 1804.7,891.7 1805.4,890.6 1805.7,889.8 1806.3,890.4 1807.2,898 1807.6,905.2 1807.9,911 1808.2,915 1808.5,917.9 1808.8,920.5 1809.1,922.8 1809.4,923.7 1810.1,925.5 1810.4,926.8 1810.7,927.6 1811,928.8 1811.3,930.2 1811.9,931.8 1812.2,933 1812.6,934 1812.9,935.2 1813.5,936.1 1814.4,937.1 1814.7,938.5 1815.4,940.1 1816.3,941.1 1816.9,942.6 1817.6,943.4 1817.9,944.3 1818.8,946 1819.4,947.3 1820.1,946.6 1821,947.1 1821.6,948.5 1822.6,949.7 1823.5,950.4 1824.1,951.1 1825.1,952.2 1826,952 1827,952.1 1827.3,953.3 1828.2,953.9 1828.8,955.1 1829.1,956 1830.1,955.4 1830.7,956.3 1831.3,955.4 1832.3,956 1833.2,956 1833.8,954.7 1834.8,955.7 1835.1,956.9 1836,956.9 1837,956.6 1837.9,956.1 1838.2,957.3 1839.2,956.6 1840.1,956.5 1841,956.7 1841.7,957.2 1842.3,957.9 1843.2,957.6 1844.2,957.6 1844.8,957 1845.4,956.3 1846,941.4 1846.3,924.7 1846.7,909.7 1847,897.6 1847.3,886.6 1847.6,877.8 1847.9,870.8 1848.2,863.7 1848.5,857.1 1848.9,852.5 1849.2,848.8 1849.5,845.5 1849.8,841.6 1850.1,838.9 1850.4,836.4 1850.7,833.6 1851,831.3 1851.4,829.2 1851.7,827.6 1852,826.1 1852.3,824.3 1852.6,822.7 1852.9,820.9 1853.2,819.8 1853.5,818.3 1853.9,816.8 1854.2,815.6 1854.5,814.2 1854.8,812.7 1855.1,811.7 1855.4,810.8 1856,809.4 1856.4,808.7 1857,807.6 1857.3,806.5 1857.6,804.4 1857.9,803.6 1858.6,802.3 1859.2,801.6 1860.1,800.5 1860.7,799.3 1861.4,798.5 1862,797.6 1862.6,796.8 1862.9,795.9 1863.9,795.3 1864.8,795.6 1865.4,794.5 1865.7,793.8 1866.4,792.8 1867,791.2 1867.6,790.3 1868.3,789.6 1869.2,790.2 1869.8,789.6 1870.4,788.7 1871.4,788.5 1871.7,787.4 1872.3,786.7 1873.3,786.2 1874.2,787.4 1875.1,786.8 1876.1,786.7 1877,786.8 1877.9,786.9 1878.9,787.2 1879.5,786.6 1880.1,787.2 1880.8,786.5 1881.7,785 1882.3,786.3 1883.3,785.1 1883.9,785.6 1884.5,784.5 1885.5,784.2 1886.4,812.2 1886.7,834.2 1887,851 1887.3,863.5 1887.6,872.8 1888,879.9 1888.3,886.1 1888.6,891.2 1888.9,895.1 1889.2,897.3 1889.5,900.4 1889.8,902.7 1890.2,906.1 1890.5,908 1890.8,910.9 1891.1,913.3 1891.4,915.3 1891.7,916.9 1892,918.3 1892.3,919.5 1892.7,920.8 1893,922.3 1893.6,923.4 1893.9,924.5 1894.5,925.7 1894.8,926.8 1895.2,928 1895.8,930.3 1896.1,931.9 1896.4,932.9 1896.7,934.9 1897,936.1 1897.7,937.2 1898.3,938.2 1898.6,939.5 1899.2,940.9 1899.5,942.1 1900.2,943.1 1900.8,944.5 1901.7,944.4 1902.4,946 1902.7,946.8 1903,947.7 1903.9,947.5 1904.5,948.4 1905.2,949 1906.1,949.4 1906.7,950.3 1907,951.5 1907.4,952.4 1908,953.1 1908.3,952 1909.2,952.5 1909.9,953.3 1910.2,952.3 1910.8,953.1 1911.1,952.2 1912.1,953 1912.7,954.6 1913.3,954 1914.2,954 1915.2,954.4 1916.1,954.8 1917.1,954.9 1918,956.7 1918.3,955.6 1918.9,956.2 1919.9,955.9 1920.2,956.7 1920.8,957.5 1921.1,956.7 1922.1,955.7 1922.4,956.6 1923,955.7 1923.3,937.9 1923.6,921.8 1923.9,906.4 1924.3,892.4 1924.6,880.2 1924.9,868.9 1925.2,858 1925.5,848.2 1925.8,839.2 1926.1,831.6 1926.4,823 1926.8,816.2 1927.1,809.6 1927.4,803.7 1927.7,798.1 1928,792.9 1928.3,788.5 1928.6,783.8 1928.9,779 1929.3,775 1929.6,771.1 1929.9,767.6 1930.2,764.6 1930.5,760.8 1930.8,758.6 1931.1,755.9 1931.5,753 1931.8,750.7 1932.1,749.3 1932.4,747.8 1932.7,745 1933,743.8 1933.3,742 1933.6,740 1934,738.4 1934.6,737.3 1934.9,735.7 1935.2,734.6 1935.5,733.2 1935.8,731.7 1936.1,730.3 1936.8,729.3 1937.1,727.4 1937.4,726.5 1938,725.8 1938.3,724.2 1939,723.1 1939.3,721.6 1939.6,720.4 1939.9,719.1 1940.8,718.9 1941.1,718 1941.8,715.9 1942.1,714.9 1942.7,713.6 1943.3,712.5 1943.7,711.3 1944.3,710.4 1944.6,709.3 1945.5,709 1946.5,708.5 1947.1,707.6 1947.7,706.8 1948,705.8 1948.7,704.8 1949,703.4 1949.9,703.8 1950.5,703 1951.2,702.3 1951.8,701.5 1952.1,700.1 1953,699.9 1954,699.4 1954.3,697.8 1955.2,697.6 1955.9,698.4 1956.8,698.5 1957.7,698.3 1958,696.8 1959,696.8 1959.9,696.8 1960.5,695.3 1961.2,694 1961.8,692.4 1962.1,693.3 1962.4,694.3 1963.4,719.8 1963.7,758.6 1964,786.8 1964.3,807.5 1964.6,823.9 1964.9,836.8 1965.2,846.3 1965.6,854.6 1965.9,861.5 1966.2,867 1966.5,873 1966.8,876 1967.1,879.8 1967.4,882.9 1967.7,885.9 1968.1,888.6 1968.4,892 1968.7,893.5 1969,895.7 1969.3,898 1969.9,901.7 1970.2,903.5 1970.6,905.7 1970.9,908.5 1971.2,909.2 1971.5,911.9 1971.8,913.5 1972.1,915.2 1972.4,916.6 1972.8,918.6 1973.4,920.5 1973.7,922.5 1974,924.4 1974.3,925.3 1974.6,927 1975.3,928.5 1975.6,929.8 1975.9,931.7 1976.2,933.1 1976.8,934.5 1977.4,935.2 1978.1,936.1 1978.7,937.4 1979.3,938.5 1979.9,940 1980.9,940.6 1981.2,942.9 1981.8,944.7 1982.4,945.6 1982.8,946.4 1983.7,946.3 1984.6,947.5 1985.3,948.4 1985.9,947.3 1986.5,947.8 1986.8,949.1 1987.8,949.2 1988.4,950.7 1989,951.6 1990,950.6 1990.3,951.6 1990.9,953 1991.8,953 1992.1,953.8 1992.8,953.2 1993.7,953.9 1994,953.1 1994.7,954.4 1995,953.5 1995.9,955.1 1996.5,956.4 1997.2,955.9 1997.8,956.5 1998.7,955.8 1999.3,957.3 2000.3,957 2001.2,956.8 2001.8,956.1 2002.8,957.3 2003.4,958.2 2004,957.4 2004.4,958.2 2005,957.7 2005.6,957.8" fill="none" stroke="#000" stroke-width="1.5" stroke-linejoin="round"/>
<path d="M1662.2 953.6h6.6v6.6h-6.6zM1663.8 953.5h6.6v6.6h-6.6zM1665 952.5h6.6v6.6h-6.6zM1666.3 953h6.6v6.6h-6.6zM1667.2 954.3h6.6v6.6h-6.6zM1667.8 955.6h6.6v6.6h-6.6zM1669.1 954.9h6.6v6.6h-6.6zM1670.3 954.3h6.6v6.6h-6.6zM1671.3 955.6h6.6v6.6h-6.6zM1672.2 956.8h6.6v6.6h-6.6zM1673.2 955.7h6.6v6.6h-6.6zM1674.1 954.7h6.6v6.6h-6.6zM1675 953.8h6.6v6.6h-6.6zM1676 954.7h6.6v6.6h-6.6zM1677.5 955.4h6.6v6.6h-6.6zM1678.8 956.1h6.6v6.6h-6.6zM1679.7 954.6h6.6v6.6h-6.6zM1681.3 955h6.6v6.6h-6.6zM1682.5 954.4h6.6v6.6h-6.6zM1683.8 953.2h6.6v6.6h-6.6zM1685 952.8h6.6v6.6h-6.6zM1686.3 953.4h6.6v6.6h-6.6zM1687.2 946.3h6.6v6.6h-6.6zM1687.6 942.9h6.6v6.6h-6.6zM1687.9 941.2h6.6v6.6h-6.6zM1688.2 938.1h6.6v6.6h-6.6zM1688.5 935.7h6.6v6.6h-6.6zM1688.8 933.6h6.6v6.6h-6.6zM1689.1 932.1h6.6v6.6h-6.6zM1689.7 929.7h6.6v6.6h-6.6zM1690.1 928.3h6.6v6.6h-6.6zM1691 926h6.6v6.6h-6.6zM1691.9 924.2h6.6v6.6h-6.6zM1693.5 924.3h6.6v6.6h-6.6zM1694.7 923.9h6.6v6.6h-6.6zM1696 923.2h6.6v6.6h-6.6zM1696.6 921.7h6.6v6.6h-6.6zM1698.2 921.4h6.6v6.6h-6.6zM1699.1 920.4h6.6v6.6h-6.6zM1700.4 921h6.6v6.6h-6.6zM1701.9 920.6h6.6v6.6h-6.6zM1703.2 920.2h6.6v6.6h-6.6zM1704.4 919.4h6.6v6.6h-6.6zM1705.7 918h6.6v6.6h-6.6zM1706.9 918.6h6.6v6.6h-6.6zM1707.9 917.5h6.6v6.6h-6.6zM1708.8 916.6h6.6v6.6h-6.6zM1710.4 915.9h6.6v6.6h-6.6zM1711.6 916.5h6.6v6.6h-6.6zM1712.3 915.2h6.6v6.6h-6.6zM1713.8 915.4h6.6v6.6h-6.6zM1715.1 914.9h6.6v6.6h-6.6zM1716.3 915.3h6.6v6.6h-6.6zM1717.3 914.2h6.6v6.6h-6.6zM1718.5 914.6h6.6v6.6h-6.6zM1719.8 912.6h6.6v6.6h-6.6zM1721 914.2h6.6v6.6h-6.6zM1722 913.3h6.6v6.6h-6.6zM1722.9 914.4h6.6v6.6h-6.6zM1724.2 913.6h6.6v6.6h-6.6zM1725.7 913.4h6.6v6.6h-6.6zM1726.7 911.9h6.6v6.6h-6.6zM1727.3 913.7h6.6v6.6h-6.6zM1727.6 919.3h6.6v6.6h-6.6zM1727.9 922.1h6.6v6.6h-6.6zM1728.2 924.9h6.6v6.6h-6.6zM1728.5 926.9h6.6v6.6h-6.6zM1728.9 928.3h6.6v6.6h-6.6zM1729.2 930.1h6.6v6.6h-6.6zM1729.5 931.9h6.6v6.6h-6.6zM1729.8 933.9h6.6v6.6h-6.6zM1730.4 935.1h6.6v6.6h-6.6zM1731 936.5h6.6v6.6h-6.6zM1732 937.9h6.6v6.6h-6.6zM1732.9 940.2h6.6v6.6h-6.6zM1734.2 939.9h6.6v6.6h-6.6zM1734.8 941.4h6.6v6.6h-6.6zM1735.4 943.1h6.6v6.6h-6.6zM1736.4 944.1h6.6v6.6h-6.6zM1737.6 944.9h6.6v6.6h-6.6zM1738.9 945.8h6.6v6.6h-6.6zM1740.4 945.9h6.6v6.6h-6.6zM1741.7 947.5h6.6v6.6h-6.6zM1742.6 948.5h6.6v6.6h-6.6zM1743.9 948h6.6v6.6h-6.6zM1744.5 949.3h6.6v6.6h-6.6zM1745.7 949.6h6.6v6.6h-6.6zM1747 951.2h6.6v6.6h-6.6zM1747.9 952.3h6.6v6.6h-6.6zM1749.5 952.5h6.6v6.6h-6.6zM1751.1 953.3h6.6v6.6h-6.6zM1752.3 951.7h6.6v6.6h-6.6zM1753.9 950.9h6.6v6.6h-6.6zM1754.5 952.9h6.6v6.6h-6.6zM1755.8 954.1h6.6v6.6h-6.6zM1756.4 953h6.6v6.6h-6.6zM1757.9 952.9h6.6v6.6h-6.6zM1759.2 952.1h6.6v6.6h-6.6zM1760.8 953.2h6.6v6.6h-6.6zM1762.3 953.3h6.6v6.6h-6.6zM1763.3 954.2h6.6v6.6h-6.6zM1763.9 952.3h6.6v6.6h-6.6zM1764.2 943.4h6.6v6.6h-6.6zM1764.5 936.4h6.6v6.6h-6.6zM1764.8 931.6h6.6v6.6h-6.6zM1765.1 927.2h6.6v6.6h-6.6zM1765.5 923.1h6.6v6.6h-6.6zM1765.8 919.4h6.6v6.6h-6.6zM1766.1 916.6h6.6v6.6h-6.6zM1766.4 913.5h6.6v6.6h-6.6zM1766.7 911.7h6.6v6.6h-6.6zM1767.3 909.5h6.6v6.6h-6.6zM1767.6 907.9h6.6v6.6h-6.6zM1768.3 905.8h6.6v6.6h-6.6zM1768.6 904.6h6.6v6.6h-6.6zM1769.2 902.7h6.6v6.6h-6.6zM1770.5 902.1h6.6v6.6h-6.6zM1771.7 902.6h6.6v6.6h-6.6zM1772.3 901.2h6.6v6.6h-6.6zM1773 899.9h6.6v6.6h-6.6zM1773.6 898.3h6.6v6.6h-6.6zM1775.2 897.6h6.6v6.6h-6.6zM1776.1 896.6h6.6v6.6h-6.6zM1777 897.7h6.6v6.6h-6.6zM1777.7 896.5h6.6v6.6h-6.6zM1779.2 896.1h6.6v6.6h-6.6zM1780.5 895.2h6.6v6.6h-6.6zM1781.4 893.8h6.6v6.6h-6.6zM1782 891.6h6.6v6.6h-6.6zM1783 893.5h6.6v6.6h-6.6zM1784.2 894h6.6v6.6h-6.6zM1785.5 893.2h6.6v6.6h-6.6zM1787 892.2h6.6v6.6h-6.6zM1787.7 893.5h6.6v6.6h-6.6zM1788.6 892.4h6.6v6.6h-6.6zM1789.2 891.2h6.6v6.6h-6.6zM1789.9 889.6h6.6v6.6h-6.6zM1791.4 889.2h6.6v6.6h-6.6zM1792.7 888.3h6.6v6.6h-6.6zM1793.9 889.4h6.6v6.6h-6.6zM1795.5 888.8h6.6v6.6h-6.6zM1796.1 887.7h6.6v6.6h-6.6zM1797.4 888.4h6.6v6.6h-6.6zM1798 886.8h6.6v6.6h-6.6zM1799.2 886.4h6.6v6.6h-6.6zM1800.2 887.8h6.6v6.6h-6.6zM1801.4 888.4h6.6v6.6h-6.6zM1802.4 886.5h6.6v6.6h-6.6zM1803.6 887.6h6.6v6.6h-6.6zM1803.9 894.7h6.6v6.6h-6.6zM1804.3 901.9h6.6v6.6h-6.6zM1804.6 907.7h6.6v6.6h-6.6zM1804.9 911.7h6.6v6.6h-6.6zM1805.2 914.6h6.6v6.6h-6.6zM1805.5 917.2h6.6v6.6h-6.6zM1805.8 919.5h6.6v6.6h-6.6zM1806.4 920.7h6.6v6.6h-6.6zM1806.8 922.2h6.6v6.6h-6.6zM1807.1 923.5h6.6v6.6h-6.6zM1807.7 925.5h6.6v6.6h-6.6zM1808 926.9h6.6v6.6h-6.6zM1808.6 928.5h6.6v6.6h-6.6zM1809.3 930.7h6.6v6.6h-6.6zM1809.9 932.6h6.6v6.6h-6.6zM1811.1 933.8h6.6v6.6h-6.6zM1811.4 935.2h6.6v6.6h-6.6zM1812.1 936.8h6.6v6.6h-6.6zM1813 937.8h6.6v6.6h-6.6zM1813.6 939.3h6.6v6.6h-6.6zM1814.6 941h6.6v6.6h-6.6zM1815.5 942.7h6.6v6.6h-6.6zM1816.1 944h6.6v6.6h-6.6zM1817.4 943.6h6.6v6.6h-6.6zM1818.3 945.2h6.6v6.6h-6.6zM1819.3 946.4h6.6v6.6h-6.6zM1820.5 947.5h6.6v6.6h-6.6zM1821.8 948.9h6.6v6.6h-6.6zM1823.3 949h6.6v6.6h-6.6zM1824.6 949.8h6.6v6.6h-6.6zM1825.5 951.8h6.6v6.6h-6.6zM1826.5 952.8h6.6v6.6h-6.6zM1827.7 953.2h6.6v6.6h-6.6zM1828.3 952h6.6v6.6h-6.6zM1829.3 953.2h6.6v6.6h-6.6zM1830.2 952h6.6v6.6h-6.6zM1831.5 952.4h6.6v6.6h-6.6zM1832.1 954h6.6v6.6h-6.6zM1833.7 953.3h6.6v6.6h-6.6zM1834.9 954h6.6v6.6h-6.6zM1836.2 953.4h6.6v6.6h-6.6zM1837.4 952.9h6.6v6.6h-6.6zM1838.4 953.9h6.6v6.6h-6.6zM1839.6 954.4h6.6v6.6h-6.6zM1841.2 953.9h6.6v6.6h-6.6zM1842.1 953h6.6v6.6h-6.6zM1842.7 938.1h6.6v6.6h-6.6zM1843 921.4h6.6v6.6h-6.6zM1843.4 906.4h6.6v6.6h-6.6zM1843.7 894.3h6.6v6.6h-6.6zM1844 883.3h6.6v6.6h-6.6zM1844.3 874.5h6.6v6.6h-6.6zM1844.6 867.5h6.6v6.6h-6.6zM1844.9 860.4h6.6v6.6h-6.6zM1845.2 853.8h6.6v6.6h-6.6zM1845.6 849.2h6.6v6.6h-6.6zM1845.9 845.5h6.6v6.6h-6.6zM1846.2 842.2h6.6v6.6h-6.6zM1846.5 838.3h6.6v6.6h-6.6zM1846.8 835.6h6.6v6.6h-6.6zM1847.1 833.1h6.6v6.6h-6.6zM1847.4 830.3h6.6v6.6h-6.6zM1847.7 828h6.6v6.6h-6.6zM1848.1 825.9h6.6v6.6h-6.6zM1848.4 824.3h6.6v6.6h-6.6zM1848.7 822.8h6.6v6.6h-6.6zM1849 821h6.6v6.6h-6.6zM1849.3 819.4h6.6v6.6h-6.6zM1849.6 817.6h6.6v6.6h-6.6zM1850.2 815h6.6v6.6h-6.6zM1850.6 813.5h6.6v6.6h-6.6zM1851.2 810.9h6.6v6.6h-6.6zM1851.5 809.4h6.6v6.6h-6.6zM1852.1 807.5h6.6v6.6h-6.6zM1852.7 806.1h6.6v6.6h-6.6zM1853.4 804.7h6.6v6.6h-6.6zM1854 803.2h6.6v6.6h-6.6zM1854.3 801.1h6.6v6.6h-6.6zM1854.9 799.8h6.6v6.6h-6.6zM1855.9 798.3h6.6v6.6h-6.6zM1856.8 797.2h6.6v6.6h-6.6zM1857.4 796h6.6v6.6h-6.6zM1858.7 794.3h6.6v6.6h-6.6zM1859.6 792.6h6.6v6.6h-6.6zM1860.9 791.3h6.6v6.6h-6.6zM1862.4 790.5h6.6v6.6h-6.6zM1863.4 789h6.6v6.6h-6.6zM1864 787.5h6.6v6.6h-6.6zM1865 786.3h6.6v6.6h-6.6zM1866.5 786.3h6.6v6.6h-6.6zM1867.5 785.1h6.6v6.6h-6.6zM1868.4 784.1h6.6v6.6h-6.6zM1869.6 783.1h6.6v6.6h-6.6zM1870.9 784.1h6.6v6.6h-6.6zM1872.1 783.6h6.6v6.6h-6.6zM1873.7 783.5h6.6v6.6h-6.6zM1875.3 783.8h6.6v6.6h-6.6zM1876.5 783.2h6.6v6.6h-6.6zM1878.1 782.9h6.6v6.6h-6.6zM1879.3 782.4h6.6v6.6h-6.6zM1880.9 781.7h6.6v6.6h-6.6zM1881.8 780.7h6.6v6.6h-6.6zM1883.1 808.9h6.6v6.6h-6.6zM1883.4 830.9h6.6v6.6h-6.6zM1883.7 847.7h6.6v6.6h-6.6zM1884 860.2h6.6v6.6h-6.6zM1884.3 869.5h6.6v6.6h-6.6zM1884.7 876.6h6.6v6.6h-6.6zM1885 882.8h6.6v6.6h-6.6zM1885.3 887.9h6.6v6.6h-6.6zM1885.6 891.8h6.6v6.6h-6.6zM1885.9 894h6.6v6.6h-6.6zM1886.2 897.1h6.6v6.6h-6.6zM1886.5 899.4h6.6v6.6h-6.6zM1886.9 902.8h6.6v6.6h-6.6zM1887.2 904.7h6.6v6.6h-6.6zM1887.5 907.6h6.6v6.6h-6.6zM1887.8 910h6.6v6.6h-6.6zM1888.1 912h6.6v6.6h-6.6zM1888.4 913.6h6.6v6.6h-6.6zM1888.7 915h6.6v6.6h-6.6zM1889.4 917.5h6.6v6.6h-6.6zM1889.7 919h6.6v6.6h-6.6zM1890.6 921.2h6.6v6.6h-6.6zM1891.2 922.4h6.6v6.6h-6.6zM1891.9 924.7h6.6v6.6h-6.6zM1892.5 927h6.6v6.6h-6.6zM1892.8 928.6h6.6v6.6h-6.6zM1893.4 931.6h6.6v6.6h-6.6zM1894 932.9h6.6v6.6h-6.6zM1894.7 934.6h6.6v6.6h-6.6zM1895.3 936.2h6.6v6.6h-6.6zM1895.9 937.6h6.6v6.6h-6.6zM1896.6 939.3h6.6v6.6h-6.6zM1897.5 941.2h6.6v6.6h-6.6zM1898.7 941.6h6.6v6.6h-6.6zM1899.4 943.5h6.6v6.6h-6.6zM1900.6 944.2h6.6v6.6h-6.6zM1901.6 945.4h6.6v6.6h-6.6zM1902.8 946.1h6.6v6.6h-6.6zM1903.7 948.2h6.6v6.6h-6.6zM1904.4 949.7h6.6v6.6h-6.6zM1905.6 948.8h6.6v6.6h-6.6zM1906.6 950h6.6v6.6h-6.6zM1907.8 948.9h6.6v6.6h-6.6zM1909.1 950.4h6.6v6.6h-6.6zM1910.6 951h6.6v6.6h-6.6zM1912.2 951.8h6.6v6.6h-6.6zM1913.8 951.6h6.6v6.6h-6.6zM1914.7 953.4h6.6v6.6h-6.6zM1915.9 952.8h6.6v6.6h-6.6zM1917.2 953.6h6.6v6.6h-6.6zM1918.5 953h6.6v6.6h-6.6zM1919.7 952.4h6.6v6.6h-6.6zM1920 934.6h6.6v6.6h-6.6zM1920.3 918.5h6.6v6.6h-6.6zM1920.6 903.1h6.6v6.6h-6.6zM1921 889.1h6.6v6.6h-6.6zM1921.3 876.9h6.6v6.6h-6.6zM1921.6 865.6h6.6v6.6h-6.6zM1921.9 854.7h6.6v6.6h-6.6zM1922.2 844.9h6.6v6.6h-6.6zM1922.5 835.9h6.6v6.6h-6.6zM1922.8 828.3h6.6v6.6h-6.6zM1923.1 819.7h6.6v6.6h-6.6zM1923.5 812.9h6.6v6.6h-6.6zM1923.8 806.3h6.6v6.6h-6.6zM1924.1 800.4h6.6v6.6h-6.6zM1924.4 794.8h6.6v6.6h-6.6zM1924.7 789.6h6.6v6.6h-6.6zM1925 785.2h6.6v6.6h-6.6zM1925.3 780.5h6.6v6.6h-6.6zM1925.6 775.7h6.6v6.6h-6.6zM1926 771.7h6.6v6.6h-6.6zM1926.3 767.8h6.6v6.6h-6.6zM1926.6 764.3h6.6v6.6h-6.6zM1926.9 761.3h6.6v6.6h-6.6zM1927.2 757.5h6.6v6.6h-6.6zM1927.5 755.3h6.6v6.6h-6.6zM1927.8 752.6h6.6v6.6h-6.6zM1928.2 749.7h6.6v6.6h-6.6zM1928.5 747.4h6.6v6.6h-6.6zM1928.8 746h6.6v6.6h-6.6zM1929.1 744.5h6.6v6.6h-6.6zM1929.4 741.7h6.6v6.6h-6.6zM1929.7 740.5h6.6v6.6h-6.6zM1930 738.7h6.6v6.6h-6.6zM1930.3 736.7h6.6v6.6h-6.6zM1930.7 735.1h6.6v6.6h-6.6zM1931.6 732.4h6.6v6.6h-6.6zM1932.2 729.9h6.6v6.6h-6.6zM1932.5 728.4h6.6v6.6h-6.6zM1932.8 727h6.6v6.6h-6.6zM1933.8 724.1h6.6v6.6h-6.6zM1934.4 722.7h6.6v6.6h-6.6zM1935 720.9h6.6v6.6h-6.6zM1936 718.3h6.6v6.6h-6.6zM1936.6 715.8h6.6v6.6h-6.6zM1937.8 714.7h6.6v6.6h-6.6zM1938.5 712.6h6.6v6.6h-6.6zM1939.1 711.3h6.6v6.6h-6.6zM1939.7 709.6h6.6v6.6h-6.6zM1940.4 708h6.6v6.6h-6.6zM1941.3 706h6.6v6.6h-6.6zM1942.9 705.4h6.6v6.6h-6.6zM1943.8 704.3h6.6v6.6h-6.6zM1944.7 702.5h6.6v6.6h-6.6zM1945.7 700.1h6.6v6.6h-6.6zM1947.2 699.7h6.6v6.6h-6.6zM1948.5 698.2h6.6v6.6h-6.6zM1948.8 696.8h6.6v6.6h-6.6zM1950.4 696.2h6.6v6.6h-6.6zM1951 694.5h6.6v6.6h-6.6zM1952.2 694.2h6.6v6.6h-6.6zM1953.5 695.2h6.6v6.6h-6.6zM1954.7 693.5h6.6v6.6h-6.6zM1956.3 693.6h6.6v6.6h-6.6zM1957.2 692h6.6v6.6h-6.6zM1957.9 690.7h6.6v6.6h-6.6zM1958.5 689.1h6.6v6.6h-6.6zM1959.1 691h6.6v6.6h-6.6zM1960.1 716.5h6.6v6.6h-6.6zM1960.4 755.3h6.6v6.6h-6.6zM1960.7 783.5h6.6v6.6h-6.6zM1961 804.2h6.6v6.6h-6.6zM1961.3 820.6h6.6v6.6h-6.6zM1961.6 833.5h6.6v6.6h-6.6zM1961.9 843h6.6v6.6h-6.6zM1962.3 851.3h6.6v6.6h-6.6zM1962.6 858.2h6.6v6.6h-6.6zM1962.9 863.7h6.6v6.6h-6.6zM1963.2 869.7h6.6v6.6h-6.6zM1963.5 872.7h6.6v6.6h-6.6zM1963.8 876.5h6.6v6.6h-6.6zM1964.1 879.6h6.6v6.6h-6.6zM1964.4 882.6h6.6v6.6h-6.6zM1964.8 885.3h6.6v6.6h-6.6zM1965.1 888.7h6.6v6.6h-6.6zM1965.4 890.2h6.6v6.6h-6.6zM1965.7 892.4h6.6v6.6h-6.6zM1966 894.7h6.6v6.6h-6.6zM1966.6 898.4h6.6v6.6h-6.6zM1966.9 900.2h6.6v6.6h-6.6zM1967.3 902.4h6.6v6.6h-6.6zM1967.6 905.2h6.6v6.6h-6.6zM1968.2 908.6h6.6v6.6h-6.6zM1968.5 910.2h6.6v6.6h-6.6zM1968.8 911.9h6.6v6.6h-6.6zM1969.1 913.3h6.6v6.6h-6.6zM1969.5 915.3h6.6v6.6h-6.6zM1970.1 917.2h6.6v6.6h-6.6zM1970.4 919.2h6.6v6.6h-6.6zM1970.7 921.1h6.6v6.6h-6.6zM1971.3 923.7h6.6v6.6h-6.6zM1972 925.2h6.6v6.6h-6.6zM1972.3 926.5h6.6v6.6h-6.6zM1972.6 928.4h6.6v6.6h-6.6zM1972.9 929.8h6.6v6.6h-6.6zM1973.5 931.2h6.6v6.6h-6.6zM1974.5 932.4h6.6v6.6h-6.6zM1975.4 934.1h6.6v6.6h-6.6zM1976.3 935.8h6.6v6.6h-6.6zM1977.3 937h6.6v6.6h-6.6zM1977.9 939.6h6.6v6.6h-6.6zM1978.5 941.4h6.6v6.6h-6.6zM1979.5 943.1h6.6v6.6h-6.6zM1980.7 943.7h6.6v6.6h-6.6zM1982 945.1h6.6v6.6h-6.6zM1983.2 944.5h6.6v6.6h-6.6zM1983.5 945.8h6.6v6.6h-6.6zM1985.1 947.4h6.6v6.6h-6.6zM1986.3 948.4h6.6v6.6h-6.6zM1987.6 949.7h6.6v6.6h-6.6zM1988.8 950.5h6.6v6.6h-6.6zM1990.1 949.6h6.6v6.6h-6.6zM1991.4 951.1h6.6v6.6h-6.6zM1992.6 951.8h6.6v6.6h-6.6zM1993.2 953.1h6.6v6.6h-6.6zM1994.8 952.5h6.6v6.6h-6.6zM1996 954h6.6v6.6h-6.6zM1997.3 953.1h6.6v6.6h-6.6zM1998.9 952.9h6.6v6.6h-6.6zM1999.8 954.2h6.6v6.6h-6.6zM2001.1 954.9h6.6v6.6h-6.6zM2002.3 954.5h6.6v6.6h-6.6z" fill="#000"/>
<rect x="1626.4" y="640.6" width="430.2" height="348" fill="none" stroke="#000" stroke-width="1.6"/>
<path d="M1626.4 957h7M1626.4 893.7h7M1626.4 830.4h7M1626.4 767.1h7M1626.4 703.9h7M1626.4 640.6h7M1626.4 925.3h3.6M1626.4 862.1h3.6M1626.4 798.8h3.6M1626.4 735.5h3.6M1626.4 672.2h3.6M1665.5 988.6v-7M1743.7 988.6v-7M1821.9 988.6v-7M1900.2 988.6v-7M1978.4 988.6v-7M2056.6 988.6v-7M1704.6 988.6v-3.6M1782.8 988.6v-3.6M1861.1 988.6v-3.6M1939.3 988.6v-3.6M2017.5 988.6v-3.6" stroke="#000" stroke-width="1.5" fill="none"/>
<text x="1618.8" y="963.3" font-family="'Liberation Sans', Arial, sans-serif" font-size="22" font-weight="normal" fill="#000" text-anchor="end" >0</text>
<text x="1618.8" y="900.1" font-family="'Liberation Sans', Arial, sans-serif" font-size="22" font-weight="normal" fill="#000" text-anchor="end" >2</text>
<text x="1618.8" y="836.8" font-family="'Liberation Sans', Arial, sans-serif" font-size="22" font-weight="normal" fill="#000" text-anchor="end" >4</text>
<text x="1618.8" y="773.5" font-family="'Liberation Sans', Arial, sans-serif" font-size="22" font-weight="normal" fill="#000" text-anchor="end" >6</text>
<text x="1618.8" y="710.2" font-family="'Liberation Sans', Arial, sans-serif" font-size="22" font-weight="normal" fill="#000" text-anchor="end" >8</text>
<text x="1618.8" y="647" font-family="'Liberation Sans', Arial, sans-serif" font-size="22" font-weight="normal" fill="#000" text-anchor="end" >10</text>
<text x="1665.5" y="1014.1" font-family="'Liberation Sans', Arial, sans-serif" font-size="23" font-weight="normal" fill="#000" text-anchor="middle" >0</text>
<text x="1743.7" y="1014.1" font-family="'Liberation Sans', Arial, sans-serif" font-size="23" font-weight="normal" fill="#000" text-anchor="middle" >10</text>
<text x="1821.9" y="1014.1" font-family="'Liberation Sans', Arial, sans-serif" font-size="23" font-weight="normal" fill="#000" text-anchor="middle" >20</text>
<text x="1900.2" y="1014.1" font-family="'Liberation Sans', Arial, sans-serif" font-size="23" font-weight="normal" fill="#000" text-anchor="middle" >30</text>
<text x="1978.4" y="1014.1" font-family="'Liberation Sans', Arial, sans-serif" font-size="23" font-weight="normal" fill="#000" text-anchor="middle" >40</text>
<text x="2056.6" y="1014.1" font-family="'Liberation Sans', Arial, sans-serif" font-size="23" font-weight="normal" fill="#000" text-anchor="middle" >50</text>
<text x="1647.3" y="690.6" font-family="'Liberation Sans', Arial, sans-serif" font-size="38.5" font-weight="normal" fill="#000" text-anchor="start" ><tspan font-family="&apos;Liberation Serif&apos;, &apos;Times New Roman&apos;, serif">&#955;</tspan><tspan dx="2">=</tspan>532 nm</text>
<text x="1890" y="680.8" font-family="'Liberation Sans', Arial, sans-serif" font-size="38.5" font-weight="normal" fill="#000" text-anchor="start" >57 mW</text>
<text x="1793" y="768.7" font-family="'Liberation Sans', Arial, sans-serif" font-size="38.5" font-weight="normal" fill="#000" text-anchor="start" >35 mW</text>
<text x="1720.4" y="862.1" font-family="'Liberation Sans', Arial, sans-serif" font-size="38.5" font-weight="normal" fill="#000" text-anchor="start" >14 mW</text>
<text x="1653.4" y="906" font-family="'Liberation Sans', Arial, sans-serif" font-size="38.5" font-weight="normal" fill="#000" text-anchor="start" >9 mW</text>
<text x="1841.9" y="1060" font-family="'Liberation Sans', Arial, sans-serif" font-size="39" font-weight="normal" fill="#000" text-anchor="middle" >Time (s)</text>
<text transform="translate(1581,812.3) rotate(-90)" font-family="'Liberation Sans', Arial, sans-serif" font-size="39" text-anchor="middle">Photocurrent (<tspan font-family="&apos;Liberation Serif&apos;, &apos;Times New Roman&apos;, serif">&#956;</tspan>A)</text>
<text x="1547" y="612.4" font-family="'Liberation Serif', 'Times New Roman', serif" font-size="48.5" font-weight="bold" fill="#000" text-anchor="start" >(g)</text>
<rect x="143.1" y="1107.8" width="40.4" height="344" fill="#FF80FF"/>
<rect x="221.3" y="1107.8" width="37.7" height="344" fill="#FF80FF"/>
<rect x="295.9" y="1107.8" width="40" height="344" fill="#FF80FF"/>
<rect x="374" y="1107.8" width="40" height="344" fill="#FF80FF"/>
<polyline points="120.9,1423.1 121.8,1422.8 122.1,1422 122.7,1420.5 123,1421.7 123.7,1422.7 124,1423.5 124.9,1422.9 125.5,1420.5 126.1,1422 126.7,1422.8 127.4,1422 128,1424.4 128.9,1425 129.5,1425.8 130.4,1425.1 130.7,1423.1 131.1,1423.8 131.7,1424.5 132,1423.3 132.6,1422.4 132.9,1423.8 133.2,1424.7 134.1,1425.4 134.4,1424.6 134.7,1423.7 135.7,1422.4 136.6,1421.4 136.9,1422.5 137.5,1421.9 138.1,1422.8 139.1,1423.7 139.4,1424.6 139.7,1423.1 140.3,1422.5 141.2,1422.1 142.1,1423.5 142.8,1422.5 143.4,1421.3 143.7,1413 144,1403.6 144.3,1395 144.6,1391.5 144.9,1387.7 145.5,1383.5 145.8,1381.3 146.1,1378.1 147.1,1376.3 147.7,1377.5 148.3,1375.6 148.9,1374.8 149.2,1376.2 149.5,1373.9 150.1,1373.3 150.5,1372.4 151.1,1371.8 151.4,1372.6 152,1371.8 152.3,1370.6 153.2,1370.2 153.8,1369.4 154.5,1370.2 154.8,1369 155.7,1365.5 156.3,1364.9 156.9,1366.7 157.2,1365.9 157.8,1366.5 158.2,1365.7 158.8,1365.2 159.4,1363.8 160,1365.2 160.9,1365.2 161.8,1363.1 162.8,1362.8 163.1,1363.8 164,1362.7 164.3,1363.9 164.9,1365.4 165.8,1365 166.2,1363.1 166.5,1361.6 166.8,1363.3 167.1,1364.1 167.4,1363 168,1364.2 168.6,1364.8 169.2,1366.3 169.9,1363.6 170.8,1360.9 171.1,1361.6 171.7,1362.3 172.6,1361 173.5,1361.1 173.9,1362 174.2,1363 174.8,1364.9 175.4,1363.9 176,1363.2 176.9,1361.9 177.2,1363.4 177.5,1362.2 178.5,1362.3 179.1,1363 179.4,1361.4 179.7,1362.3 180,1363.1 180.6,1361.9 181.6,1362.6 181.9,1361.4 182.2,1362.1 182.5,1361.2 182.8,1360.3 183.4,1361.2 183.7,1364.4 184,1371 184.3,1376.5 184.6,1381.6 184.9,1386.4 185.2,1389.8 185.6,1392.3 185.9,1395.4 186.2,1397.1 186.8,1398.7 187.1,1400.2 187.7,1400.8 188.3,1403.1 188.6,1405.8 189.6,1407.2 190.2,1408.2 190.5,1409.3 190.8,1407.9 191.1,1410 191.7,1409 192,1407.9 192.6,1408.6 192.9,1410.2 193.6,1413.2 194.2,1414 194.8,1414.7 195.1,1413.7 195.4,1415.4 196.3,1415.8 196.9,1414 197.3,1415.4 197.6,1414.3 197.9,1413.4 198.5,1415.1 198.8,1416.6 199.1,1417.6 199.4,1415.7 199.7,1418.1 200.6,1416.6 201.3,1418.1 202.2,1418.5 202.5,1419.5 203.1,1420.1 203.7,1419.3 204.6,1419.1 205.3,1420.6 205.9,1421.2 206.5,1423.1 206.8,1421.4 207.4,1419.5 208.3,1419.6 209,1418.3 209.3,1419.3 209.9,1421.1 210.8,1422 211.4,1424.4 212.3,1426.5 212.7,1424.8 213,1423.5 213.6,1425.1 213.9,1426 214.5,1426.8 214.8,1424.1 215.1,1424.9 215.4,1423.8 215.7,1422.5 216,1423.4 216.7,1422.8 217.3,1422.1 217.6,1420.2 218.2,1421.8 219.1,1422.3 220,1422.2 220.4,1421.3 220.7,1422 221,1423.4 221.3,1425 221.6,1422.9 221.9,1407.2 222.2,1388 222.5,1370.4 222.8,1357.8 223.1,1346.9 223.4,1340.5 223.7,1335.9 224,1332.3 224.4,1328.2 224.7,1325.2 225,1322.7 225.3,1318.9 225.6,1316.5 226.2,1315.6 226.5,1314.4 227.1,1311.8 227.4,1310.7 227.7,1309.2 228.4,1310.8 228.7,1309.8 229.6,1309.8 230.2,1308.7 230.8,1307.8 231.1,1304.8 231.4,1303.8 232.1,1302.6 232.4,1303.4 232.7,1305 233,1306.1 233.3,1307.7 233.6,1305.9 234.2,1307.4 234.8,1306.6 235.7,1306.1 236.1,1304.8 236.7,1304 237.3,1302.3 237.9,1303.3 238.2,1301.8 238.5,1301 239.1,1301.8 239.4,1300.8 239.8,1298.6 240.4,1296 241.3,1296 241.9,1297.1 242.5,1295.9 242.8,1297.7 243.4,1296.7 243.8,1295.1 244.1,1293.9 244.7,1292.8 245,1294.5 245.3,1296.1 245.6,1294.9 246.2,1295.9 246.5,1294.9 247.1,1293.8 247.4,1294.6 247.8,1296 248.1,1297.6 249,1297.6 249.6,1296.6 249.9,1297.5 250.5,1295.6 251.1,1296.6 251.5,1295.3 251.8,1297 252.1,1295.1 252.4,1296.3 253,1297.8 253.6,1298.4 253.9,1296.9 254.5,1295 254.8,1294.2 255.1,1295.4 256.1,1295.9 256.7,1295 257.3,1296.4 258.2,1294.2 259.2,1301.2 259.5,1312.9 259.8,1324.9 260.1,1334.3 260.4,1342.4 260.7,1349.3 261,1355.6 261.3,1361.3 261.6,1365.7 261.9,1370.9 262.2,1372.6 262.5,1375.8 262.8,1380.3 263.2,1382.8 263.5,1383.8 263.8,1385.9 264.1,1387.7 264.4,1391.4 265,1392.2 265.3,1395.2 265.6,1396.4 266.5,1398.4 266.8,1399.6 267.5,1398.4 268.1,1399.1 268.4,1400.3 269,1402.7 269.3,1404.5 269.6,1406.1 270.5,1406.1 270.9,1405.3 271.8,1406.6 272.1,1405.1 272.7,1404.5 273,1403.1 273.6,1403.9 273.9,1404.8 274.9,1406.5 275.2,1409.3 275.5,1410.3 276.1,1411.9 276.7,1411.2 277.3,1412.2 277.6,1410.8 277.9,1409.6 278.2,1408.9 278.5,1410.3 279.2,1412 279.5,1414.5 279.8,1413.2 280.7,1412.2 281,1411.4 281.6,1412.7 282.6,1413.6 282.9,1415.6 283.2,1413.7 283.5,1415.2 283.8,1416.4 284.7,1416.7 285,1414.9 285.6,1415.6 286.2,1416.6 286.9,1417.6 287.2,1418.9 287.5,1420.8 288.1,1420.1 288.7,1419 289,1420.5 289.6,1422.1 289.9,1420.9 290.6,1421.9 291.5,1421.4 292.4,1422.1 293,1423.4 293.3,1424.3 293.6,1423 294.6,1424.4 294.9,1422.1 295.8,1421.8 296.1,1420.3 296.4,1407.5 296.7,1382 297,1360.3 297.3,1343 297.6,1329.9 297.9,1317.6 298.3,1309.4 298.6,1302.2 298.9,1297.3 299.2,1291.8 299.5,1288.6 299.8,1284.4 300.1,1281.5 300.4,1278.9 300.7,1276.4 301.3,1274.6 301.6,1272.5 302,1271.3 302.3,1268.5 302.6,1266.4 303.2,1263.6 303.5,1262.8 303.8,1261.3 304.1,1259.3 305,1258.6 305.3,1257.8 306,1256.6 306.3,1255.5 306.6,1254.3 306.9,1253.1 307.2,1251.7 307.8,1250.7 308.4,1250 309,1248 309.3,1249.7 310,1247.6 310.6,1246.9 310.9,1245 311.8,1243.5 312.7,1242.3 313,1240.7 313.7,1240 314.3,1239.4 314.6,1240.1 314.9,1237.8 315.2,1236.9 315.8,1236.4 316.1,1234.6 316.7,1235.8 317.7,1235.1 318,1236.6 318.3,1235.7 318.6,1234.9 318.9,1233.4 319.5,1231.7 319.8,1229.8 320.4,1230.7 320.7,1229.8 321,1228.7 321.7,1228 322,1229.7 322.3,1228.8 322.9,1227.7 323.5,1227 324.1,1226.5 324.4,1228.7 325.4,1227 325.7,1228.2 326.6,1227.1 327.2,1228.1 327.8,1226.8 328.7,1228 329,1229 330,1228.5 330.9,1226.5 331.2,1225.4 332.1,1225.4 332.4,1224.2 332.7,1223.4 333.4,1221.1 334,1220.5 334.6,1221.6 334.9,1222.5 335.8,1222.9 336.1,1240.2 336.4,1259.5 336.7,1275.6 337.1,1289.8 337.4,1302.1 337.7,1313.7 338,1322.2 338.3,1331.1 338.6,1337.9 338.9,1344.1 339.2,1349.3 339.5,1352.2 339.8,1356.6 340.1,1360.5 340.4,1365.9 340.8,1369.2 341.1,1371 341.4,1373.3 341.7,1374.3 342,1376.4 342.3,1377.2 342.6,1378.5 343.2,1380.9 343.8,1383.4 344.1,1385.4 344.8,1387.9 345.1,1389.8 345.4,1389 345.7,1389.8 346.3,1391.2 346.6,1392.3 346.9,1391.3 347.2,1392.4 347.8,1393.4 348.1,1395.1 348.4,1396.3 348.8,1397.1 349.1,1395.5 349.4,1397.2 350,1400.2 350.6,1401.2 351.2,1402.1 351.5,1403.2 352.1,1404.2 353.1,1405.3 353.4,1407.1 354.3,1408.6 354.6,1407.8 355.5,1408.5 355.8,1410.3 356.1,1412.9 356.8,1414.2 357.7,1413.6 358.6,1413.3 359.5,1412.7 360.2,1415.4 361.1,1416.9 361.4,1418.7 361.7,1420.2 362,1418.5 362.3,1416.8 362.6,1415.7 362.9,1414.1 363.2,1416.6 363.8,1417.9 364.2,1419.5 364.8,1418.1 365.1,1419.2 365.4,1420.9 365.7,1422.2 366.3,1421 366.6,1419.1 367.2,1420.2 367.5,1421.3 368.2,1420.7 368.5,1422.7 369.4,1421.9 369.7,1423.6 370,1422.5 370.3,1421.1 370.6,1420 370.9,1418.9 371.5,1419.8 371.9,1421.4 372.5,1422.7 373.1,1421.7 373.7,1420.9 374,1422.6 374.6,1395.8 374.9,1367.9 375.2,1343.8 375.5,1326.8 375.9,1308.8 376.2,1295.7 376.5,1284.7 376.8,1273.8 377.1,1265.4 377.4,1260 377.7,1252.4 378,1248 378.3,1243.6 378.6,1240.1 378.9,1236.7 379.2,1233.7 379.5,1231 379.9,1228.6 380.2,1223.7 380.5,1221.4 380.8,1219.1 381.1,1218.1 381.4,1214.8 381.7,1213.1 382,1211.9 382.6,1209.6 383.6,1208.9 383.9,1207.4 384.2,1206.2 384.8,1204.9 385.4,1203.8 385.7,1202.7 386.3,1201.6 386.9,1199.4 387.2,1198.6 387.6,1197.7 388.2,1195.8 389.1,1193.7 389.4,1194.6 390,1193.2 390.9,1192.6 391.6,1191 391.9,1190 392.8,1191.7 393.4,1190.3 394,1188 394.6,1187.3 394.9,1186.2 395.3,1187.1 395.6,1185.5 395.9,1186.7 396.5,1188 397.4,1186.5 397.7,1188 398,1186.8 398.3,1186 398.6,1185 398.9,1183.8 399.3,1182.8 399.6,1183.7 399.9,1182.9 400.5,1184 401.4,1184.4 401.7,1183 402.3,1184.4 403.3,1182 404.2,1181.5 404.5,1183.6 404.8,1181.7 405.4,1182.6 405.7,1181.6 406.3,1183 406.6,1181.8 407,1179.8 407.9,1180.4 408.8,1180.2 409.4,1180.9 409.7,1180 410,1181.4 410.3,1180.4 410.7,1178.7 411,1179.5 411.9,1179.8 412.2,1180.7 412.5,1179.8 413.1,1178.2 414,1182.1 414.3,1207.8 414.7,1226.9 415,1246.2 415.3,1261.7 415.6,1274.6 415.9,1287.3 416.2,1298 416.5,1307.2 416.8,1314.1 417.1,1322.9 417.4,1329.1 417.7,1334.5 418,1339.3 418.3,1344.7 418.7,1347.9 419,1351.2 419.3,1355.6 419.6,1359.5 420.2,1363.4 420.5,1367.2 420.8,1368.7 421.1,1371.5 421.4,1373.1 421.7,1374.1 422,1376.4 422.4,1379 423,1380.8 423.3,1382.9 423.6,1383.7 424.2,1385.1 424.5,1386.8 425.1,1388.6 425.4,1390.1 426.4,1390.2 427,1390.9 427.6,1392.8 427.9,1394.4 428.8,1395.7 429.1,1397.2 429.4,1398 430.4,1399.4 430.7,1400.2 431,1401.1 431.6,1402.2 432.2,1403.3 432.5,1404.5 433.4,1407 434.4,1407.4 434.7,1408.7 435,1409.5 435.6,1410 435.9,1409.2 436.5,1409.8 436.8,1412.9 437.4,1412.2 437.7,1413.8 438.1,1412.8 438.7,1414.5 439,1413.1 439.3,1412 439.9,1411.1 440.5,1413 441.4,1412.5 442.1,1413.7 442.4,1414.5 442.7,1415.5 443.3,1418.7 443.6,1417.6 444.2,1420.3 444.8,1419.5 445.4,1418.7 446.1,1417.6 446.4,1419.4 446.7,1421.4 447.3,1420.7 447.6,1422.3 448.5,1422.4 448.8,1423.6 449.1,1422.7 449.8,1421.5 450.7,1420.4 451,1419.3 451.6,1420.2 452.2,1419.3 452.8,1417.9 453.5,1418.5 453.8,1417.1 454.1,1417.2" fill="none" stroke="#000" stroke-width="1.5" stroke-linejoin="round"/>
<path d="M117.6 1419.8h6.6v6.6h-6.6zM118.8 1418.7h6.6v6.6h-6.6zM119.4 1417.2h6.6v6.6h-6.6zM120.1 1418.6h6.6v6.6h-6.6zM120.7 1420.2h6.6v6.6h-6.6zM121.9 1419.2h6.6v6.6h-6.6zM122.2 1417.2h6.6v6.6h-6.6zM122.8 1418.7h6.6v6.6h-6.6zM123.7 1420h6.6v6.6h-6.6zM124.7 1421.1h6.6v6.6h-6.6zM125.9 1422.3h6.6v6.6h-6.6zM127.1 1421.8h6.6v6.6h-6.6zM127.4 1419.8h6.6v6.6h-6.6zM128.1 1421.2h6.6v6.6h-6.6zM128.7 1420h6.6v6.6h-6.6zM129.9 1421.4h6.6v6.6h-6.6zM131.4 1420.4h6.6v6.6h-6.6zM132.4 1419.1h6.6v6.6h-6.6zM133.3 1418.1h6.6v6.6h-6.6zM134.5 1418.8h6.6v6.6h-6.6zM135.5 1419.8h6.6v6.6h-6.6zM136.1 1421.3h6.6v6.6h-6.6zM136.4 1419.8h6.6v6.6h-6.6zM137.6 1419.3h6.6v6.6h-6.6zM138.8 1420.2h6.6v6.6h-6.6zM139.8 1418.8h6.6v6.6h-6.6zM140.4 1409.7h6.6v6.6h-6.6zM140.7 1400.3h6.6v6.6h-6.6zM141 1391.7h6.6v6.6h-6.6zM141.3 1388.2h6.6v6.6h-6.6zM141.6 1384.4h6.6v6.6h-6.6zM142.2 1380.2h6.6v6.6h-6.6zM142.5 1378h6.6v6.6h-6.6zM142.8 1374.8h6.6v6.6h-6.6zM143.8 1373h6.6v6.6h-6.6zM145 1372.3h6.6v6.6h-6.6zM146.2 1370.6h6.6v6.6h-6.6zM147.2 1369.1h6.6v6.6h-6.6zM148.7 1368.5h6.6v6.6h-6.6zM149.6 1367.2h6.6v6.6h-6.6zM150.5 1366.1h6.6v6.6h-6.6zM151.8 1365.4h6.6v6.6h-6.6zM152.4 1362.2h6.6v6.6h-6.6zM153.6 1363.4h6.6v6.6h-6.6zM154.9 1362.4h6.6v6.6h-6.6zM156.1 1360.5h6.6v6.6h-6.6zM156.7 1361.9h6.6v6.6h-6.6zM157.9 1361.4h6.6v6.6h-6.6zM158.5 1359.8h6.6v6.6h-6.6zM159.8 1360.5h6.6v6.6h-6.6zM160.7 1359.4h6.6v6.6h-6.6zM161.6 1362.1h6.6v6.6h-6.6zM162.9 1359.8h6.6v6.6h-6.6zM163.2 1358.3h6.6v6.6h-6.6zM163.5 1360h6.6v6.6h-6.6zM164.7 1360.9h6.6v6.6h-6.6zM165.6 1362.1h6.6v6.6h-6.6zM166.6 1360.3h6.6v6.6h-6.6zM167.5 1357.6h6.6v6.6h-6.6zM168.4 1359h6.6v6.6h-6.6zM169.3 1357.7h6.6v6.6h-6.6zM170.6 1358.7h6.6v6.6h-6.6zM171.5 1361.6h6.6v6.6h-6.6zM172.4 1360.1h6.6v6.6h-6.6zM173.6 1358.6h6.6v6.6h-6.6zM173.9 1360.1h6.6v6.6h-6.6zM174.9 1358.8h6.6v6.6h-6.6zM176.1 1358.1h6.6v6.6h-6.6zM176.7 1359.8h6.6v6.6h-6.6zM177.3 1358.6h6.6v6.6h-6.6zM178.6 1358.1h6.6v6.6h-6.6zM179.5 1357h6.6v6.6h-6.6zM180.4 1361.1h6.6v6.6h-6.6zM180.7 1367.7h6.6v6.6h-6.6zM181 1373.2h6.6v6.6h-6.6zM181.3 1378.3h6.6v6.6h-6.6zM181.6 1383.1h6.6v6.6h-6.6zM181.9 1386.5h6.6v6.6h-6.6zM182.3 1389h6.6v6.6h-6.6zM182.6 1392.1h6.6v6.6h-6.6zM182.9 1393.8h6.6v6.6h-6.6zM183.5 1395.4h6.6v6.6h-6.6zM183.8 1396.9h6.6v6.6h-6.6zM184.7 1397.9h6.6v6.6h-6.6zM185 1399.8h6.6v6.6h-6.6zM185.3 1402.5h6.6v6.6h-6.6zM186.3 1403.9h6.6v6.6h-6.6zM187.2 1406h6.6v6.6h-6.6zM187.5 1404.6h6.6v6.6h-6.6zM187.8 1406.7h6.6v6.6h-6.6zM188.7 1404.6h6.6v6.6h-6.6zM189.6 1406.9h6.6v6.6h-6.6zM190.3 1409.9h6.6v6.6h-6.6zM191.2 1410.9h6.6v6.6h-6.6zM192.1 1412.1h6.6v6.6h-6.6zM193.6 1410.7h6.6v6.6h-6.6zM194 1412.1h6.6v6.6h-6.6zM194.6 1410.1h6.6v6.6h-6.6zM195.2 1411.8h6.6v6.6h-6.6zM195.5 1413.3h6.6v6.6h-6.6zM196.4 1414.8h6.6v6.6h-6.6zM197.3 1413.3h6.6v6.6h-6.6zM198 1414.8h6.6v6.6h-6.6zM199.2 1416.2h6.6v6.6h-6.6zM200.7 1415.9h6.6v6.6h-6.6zM202 1417.3h6.6v6.6h-6.6zM203.2 1419.8h6.6v6.6h-6.6zM203.5 1418.1h6.6v6.6h-6.6zM204.1 1416.2h6.6v6.6h-6.6zM205.7 1415h6.6v6.6h-6.6zM206.6 1417.8h6.6v6.6h-6.6zM207.5 1418.7h6.6v6.6h-6.6zM208.1 1421.1h6.6v6.6h-6.6zM209 1423.2h6.6v6.6h-6.6zM209.4 1421.5h6.6v6.6h-6.6zM209.7 1420.2h6.6v6.6h-6.6zM210.3 1421.8h6.6v6.6h-6.6zM210.9 1423.4h6.6v6.6h-6.6zM211.5 1420.8h6.6v6.6h-6.6zM212.4 1419.2h6.6v6.6h-6.6zM213.7 1420.1h6.6v6.6h-6.6zM214.3 1416.9h6.6v6.6h-6.6zM214.9 1418.5h6.6v6.6h-6.6zM216.1 1419.3h6.6v6.6h-6.6zM217.1 1418h6.6v6.6h-6.6zM217.7 1420.1h6.6v6.6h-6.6zM218 1421.7h6.6v6.6h-6.6zM218.3 1419.6h6.6v6.6h-6.6zM218.6 1403.9h6.6v6.6h-6.6zM218.9 1384.7h6.6v6.6h-6.6zM219.2 1367.1h6.6v6.6h-6.6zM219.5 1354.5h6.6v6.6h-6.6zM219.8 1343.6h6.6v6.6h-6.6zM220.1 1337.2h6.6v6.6h-6.6zM220.4 1332.6h6.6v6.6h-6.6zM220.7 1329h6.6v6.6h-6.6zM221.1 1324.9h6.6v6.6h-6.6zM221.4 1321.9h6.6v6.6h-6.6zM221.7 1319.4h6.6v6.6h-6.6zM222 1315.6h6.6v6.6h-6.6zM222.3 1313.2h6.6v6.6h-6.6zM223.2 1311.1h6.6v6.6h-6.6zM223.8 1308.5h6.6v6.6h-6.6zM224.4 1305.9h6.6v6.6h-6.6zM225.1 1307.5h6.6v6.6h-6.6zM226.3 1306.5h6.6v6.6h-6.6zM227.2 1305.3h6.6v6.6h-6.6zM227.8 1301.5h6.6v6.6h-6.6zM228.8 1299.3h6.6v6.6h-6.6zM229.4 1301.7h6.6v6.6h-6.6zM230 1304.4h6.6v6.6h-6.6zM230.3 1302.6h6.6v6.6h-6.6zM230.9 1304.1h6.6v6.6h-6.6zM232.1 1303.6h6.6v6.6h-6.6zM232.8 1301.5h6.6v6.6h-6.6zM233.7 1299.9h6.6v6.6h-6.6zM234.9 1298.5h6.6v6.6h-6.6zM236.1 1297.5h6.6v6.6h-6.6zM236.5 1295.3h6.6v6.6h-6.6zM237.1 1292.7h6.6v6.6h-6.6zM238.3 1291.9h6.6v6.6h-6.6zM238.6 1293.8h6.6v6.6h-6.6zM240.1 1293.4h6.6v6.6h-6.6zM240.5 1291.8h6.6v6.6h-6.6zM241.4 1289.5h6.6v6.6h-6.6zM241.7 1291.2h6.6v6.6h-6.6zM242 1292.8h6.6v6.6h-6.6zM242.6 1291.2h6.6v6.6h-6.6zM242.9 1292.6h6.6v6.6h-6.6zM243.5 1291h6.6v6.6h-6.6zM244.5 1292.7h6.6v6.6h-6.6zM244.8 1294.3h6.6v6.6h-6.6zM246.3 1293.3h6.6v6.6h-6.6zM246.9 1294.5h6.6v6.6h-6.6zM247.2 1292.3h6.6v6.6h-6.6zM248.5 1293.7h6.6v6.6h-6.6zM248.8 1291.8h6.6v6.6h-6.6zM249.4 1293.6h6.6v6.6h-6.6zM250 1294.9h6.6v6.6h-6.6zM250.6 1293.6h6.6v6.6h-6.6zM251.2 1291.7h6.6v6.6h-6.6zM252.5 1292.4h6.6v6.6h-6.6zM253.7 1291.1h6.6v6.6h-6.6zM254 1293.1h6.6v6.6h-6.6zM254.9 1290.9h6.6v6.6h-6.6zM255.9 1297.9h6.6v6.6h-6.6zM256.2 1309.6h6.6v6.6h-6.6zM256.5 1321.6h6.6v6.6h-6.6zM256.8 1331h6.6v6.6h-6.6zM257.1 1339.1h6.6v6.6h-6.6zM257.4 1346h6.6v6.6h-6.6zM257.7 1352.3h6.6v6.6h-6.6zM258 1358h6.6v6.6h-6.6zM258.3 1362.4h6.6v6.6h-6.6zM258.6 1367.6h6.6v6.6h-6.6zM258.9 1369.3h6.6v6.6h-6.6zM259.2 1372.5h6.6v6.6h-6.6zM259.5 1377h6.6v6.6h-6.6zM259.9 1379.5h6.6v6.6h-6.6zM260.5 1382.6h6.6v6.6h-6.6zM260.8 1384.4h6.6v6.6h-6.6zM261.1 1388.1h6.6v6.6h-6.6zM262 1391.9h6.6v6.6h-6.6zM262.9 1392.8h6.6v6.6h-6.6zM263.2 1395.1h6.6v6.6h-6.6zM263.9 1396.5h6.6v6.6h-6.6zM264.2 1395.1h6.6v6.6h-6.6zM265.1 1397h6.6v6.6h-6.6zM265.7 1399.4h6.6v6.6h-6.6zM266 1401.2h6.6v6.6h-6.6zM266.3 1402.8h6.6v6.6h-6.6zM267.6 1402h6.6v6.6h-6.6zM268.5 1403.3h6.6v6.6h-6.6zM268.8 1401.8h6.6v6.6h-6.6zM269.7 1399.8h6.6v6.6h-6.6zM270.6 1401.5h6.6v6.6h-6.6zM271.6 1403.2h6.6v6.6h-6.6zM271.9 1406h6.6v6.6h-6.6zM272.5 1407.5h6.6v6.6h-6.6zM273.7 1408.5h6.6v6.6h-6.6zM274.6 1406.3h6.6v6.6h-6.6zM275.9 1408.7h6.6v6.6h-6.6zM276.2 1411.2h6.6v6.6h-6.6zM276.5 1409.9h6.6v6.6h-6.6zM277.4 1408.9h6.6v6.6h-6.6zM278.6 1409.7h6.6v6.6h-6.6zM279.6 1412.3h6.6v6.6h-6.6zM279.9 1410.4h6.6v6.6h-6.6zM280.2 1411.9h6.6v6.6h-6.6zM281.1 1413.5h6.6v6.6h-6.6zM281.7 1411.6h6.6v6.6h-6.6zM282.6 1412.6h6.6v6.6h-6.6zM283.6 1414.3h6.6v6.6h-6.6zM283.9 1415.6h6.6v6.6h-6.6zM284.2 1417.5h6.6v6.6h-6.6zM285.1 1416.3h6.6v6.6h-6.6zM286 1417.7h6.6v6.6h-6.6zM287.3 1418.6h6.6v6.6h-6.6zM288.5 1417.6h6.6v6.6h-6.6zM289.1 1418.8h6.6v6.6h-6.6zM289.7 1420.1h6.6v6.6h-6.6zM290.6 1419.1h6.6v6.6h-6.6zM291.3 1421.1h6.6v6.6h-6.6zM291.6 1418.8h6.6v6.6h-6.6zM292.8 1417h6.6v6.6h-6.6zM293.1 1404.2h6.6v6.6h-6.6zM293.4 1378.7h6.6v6.6h-6.6zM293.7 1357h6.6v6.6h-6.6zM294 1339.7h6.6v6.6h-6.6zM294.3 1326.6h6.6v6.6h-6.6zM294.6 1314.3h6.6v6.6h-6.6zM295 1306.1h6.6v6.6h-6.6zM295.3 1298.9h6.6v6.6h-6.6zM295.6 1294h6.6v6.6h-6.6zM295.9 1288.5h6.6v6.6h-6.6zM296.2 1285.3h6.6v6.6h-6.6zM296.5 1281.1h6.6v6.6h-6.6zM296.8 1278.2h6.6v6.6h-6.6zM297.1 1275.6h6.6v6.6h-6.6zM297.4 1273.1h6.6v6.6h-6.6zM298 1271.3h6.6v6.6h-6.6zM298.3 1269.2h6.6v6.6h-6.6zM298.7 1268h6.6v6.6h-6.6zM299 1265.2h6.6v6.6h-6.6zM299.3 1263.1h6.6v6.6h-6.6zM299.9 1260.3h6.6v6.6h-6.6zM300.5 1258h6.6v6.6h-6.6zM300.8 1256h6.6v6.6h-6.6zM302 1254.5h6.6v6.6h-6.6zM302.7 1253.3h6.6v6.6h-6.6zM303.3 1251h6.6v6.6h-6.6zM303.9 1248.4h6.6v6.6h-6.6zM304.8 1247h6.6v6.6h-6.6zM305.7 1244.7h6.6v6.6h-6.6zM306 1246.4h6.6v6.6h-6.6zM306.7 1244.3h6.6v6.6h-6.6zM307.6 1241.7h6.6v6.6h-6.6zM308.5 1240.2h6.6v6.6h-6.6zM309.4 1239h6.6v6.6h-6.6zM309.7 1237.4h6.6v6.6h-6.6zM310.7 1236.3h6.6v6.6h-6.6zM311.6 1234.5h6.6v6.6h-6.6zM312.2 1233.1h6.6v6.6h-6.6zM312.8 1231.3h6.6v6.6h-6.6zM313.4 1232.5h6.6v6.6h-6.6zM314.7 1233.3h6.6v6.6h-6.6zM315.3 1231.6h6.6v6.6h-6.6zM315.6 1230.1h6.6v6.6h-6.6zM316.2 1228.4h6.6v6.6h-6.6zM316.5 1226.5h6.6v6.6h-6.6zM317.7 1225.4h6.6v6.6h-6.6zM318.7 1226.4h6.6v6.6h-6.6zM319.3 1225.2h6.6v6.6h-6.6zM320.2 1223.7h6.6v6.6h-6.6zM321.1 1225.4h6.6v6.6h-6.6zM322.1 1223.7h6.6v6.6h-6.6zM323 1224.6h6.6v6.6h-6.6zM324.5 1223.5h6.6v6.6h-6.6zM325.4 1224.7h6.6v6.6h-6.6zM326.7 1225.2h6.6v6.6h-6.6zM327.6 1223.2h6.6v6.6h-6.6zM328.5 1221.8h6.6v6.6h-6.6zM329.4 1220.1h6.6v6.6h-6.6zM330.1 1217.8h6.6v6.6h-6.6zM331 1216.6h6.6v6.6h-6.6zM331.3 1218.3h6.6v6.6h-6.6zM331.9 1219.8h6.6v6.6h-6.6zM332.8 1236.9h6.6v6.6h-6.6zM333.1 1256.2h6.6v6.6h-6.6zM333.4 1272.3h6.6v6.6h-6.6zM333.8 1286.5h6.6v6.6h-6.6zM334.1 1298.8h6.6v6.6h-6.6zM334.4 1310.4h6.6v6.6h-6.6zM334.7 1318.9h6.6v6.6h-6.6zM335 1327.8h6.6v6.6h-6.6zM335.3 1334.6h6.6v6.6h-6.6zM335.6 1340.8h6.6v6.6h-6.6zM335.9 1346h6.6v6.6h-6.6zM336.2 1348.9h6.6v6.6h-6.6zM336.5 1353.3h6.6v6.6h-6.6zM336.8 1357.2h6.6v6.6h-6.6zM337.1 1362.6h6.6v6.6h-6.6zM337.5 1365.9h6.6v6.6h-6.6zM337.8 1367.7h6.6v6.6h-6.6zM338.1 1370h6.6v6.6h-6.6zM338.7 1373.1h6.6v6.6h-6.6zM339.3 1375.2h6.6v6.6h-6.6zM339.9 1377.6h6.6v6.6h-6.6zM340.5 1380.1h6.6v6.6h-6.6zM340.8 1382.1h6.6v6.6h-6.6zM341.5 1384.6h6.6v6.6h-6.6zM341.8 1386.5h6.6v6.6h-6.6zM343 1387.9h6.6v6.6h-6.6zM343.9 1389.1h6.6v6.6h-6.6zM344.8 1391.8h6.6v6.6h-6.6zM345.5 1393.8h6.6v6.6h-6.6zM345.8 1392.2h6.6v6.6h-6.6zM346.1 1393.9h6.6v6.6h-6.6zM346.7 1396.9h6.6v6.6h-6.6zM347.6 1398.2h6.6v6.6h-6.6zM348.2 1399.9h6.6v6.6h-6.6zM349.5 1401.2h6.6v6.6h-6.6zM350.1 1403.8h6.6v6.6h-6.6zM351 1405.3h6.6v6.6h-6.6zM351.6 1404.1h6.6v6.6h-6.6zM352.5 1407h6.6v6.6h-6.6zM352.8 1409.6h6.6v6.6h-6.6zM353.5 1410.9h6.6v6.6h-6.6zM355 1410.6h6.6v6.6h-6.6zM356.2 1409.4h6.6v6.6h-6.6zM356.9 1412.1h6.6v6.6h-6.6zM357.8 1413.6h6.6v6.6h-6.6zM358.1 1415.4h6.6v6.6h-6.6zM358.4 1416.9h6.6v6.6h-6.6zM358.7 1415.2h6.6v6.6h-6.6zM359 1413.5h6.6v6.6h-6.6zM359.6 1410.8h6.6v6.6h-6.6zM359.9 1413.3h6.6v6.6h-6.6zM360.5 1414.6h6.6v6.6h-6.6zM360.9 1416.2h6.6v6.6h-6.6zM361.5 1414.8h6.6v6.6h-6.6zM362.1 1417.6h6.6v6.6h-6.6zM362.4 1418.9h6.6v6.6h-6.6zM363 1417.7h6.6v6.6h-6.6zM363.3 1415.8h6.6v6.6h-6.6zM364.2 1418h6.6v6.6h-6.6zM365.2 1419.4h6.6v6.6h-6.6zM366.4 1420.3h6.6v6.6h-6.6zM367 1417.8h6.6v6.6h-6.6zM367.6 1415.6h6.6v6.6h-6.6zM368.6 1418.1h6.6v6.6h-6.6zM369.2 1419.4h6.6v6.6h-6.6zM370.4 1417.6h6.6v6.6h-6.6zM370.7 1419.3h6.6v6.6h-6.6zM371.3 1392.5h6.6v6.6h-6.6zM371.6 1364.6h6.6v6.6h-6.6zM371.9 1340.5h6.6v6.6h-6.6zM372.2 1323.5h6.6v6.6h-6.6zM372.6 1305.5h6.6v6.6h-6.6zM372.9 1292.4h6.6v6.6h-6.6zM373.2 1281.4h6.6v6.6h-6.6zM373.5 1270.5h6.6v6.6h-6.6zM373.8 1262.1h6.6v6.6h-6.6zM374.1 1256.7h6.6v6.6h-6.6zM374.4 1249.1h6.6v6.6h-6.6zM374.7 1244.7h6.6v6.6h-6.6zM375 1240.3h6.6v6.6h-6.6zM375.3 1236.8h6.6v6.6h-6.6zM375.6 1233.4h6.6v6.6h-6.6zM375.9 1230.4h6.6v6.6h-6.6zM376.2 1227.7h6.6v6.6h-6.6zM376.6 1225.3h6.6v6.6h-6.6zM376.9 1220.4h6.6v6.6h-6.6zM377.2 1218.1h6.6v6.6h-6.6zM377.5 1215.8h6.6v6.6h-6.6zM378.1 1211.5h6.6v6.6h-6.6zM378.4 1209.8h6.6v6.6h-6.6zM379 1208.1h6.6v6.6h-6.6zM379.3 1206.3h6.6v6.6h-6.6zM380.6 1204.1h6.6v6.6h-6.6zM381.5 1201.6h6.6v6.6h-6.6zM382.4 1199.4h6.6v6.6h-6.6zM383.3 1197.7h6.6v6.6h-6.6zM383.6 1196.1h6.6v6.6h-6.6zM384.3 1194.4h6.6v6.6h-6.6zM384.9 1192.5h6.6v6.6h-6.6zM385.8 1190.4h6.6v6.6h-6.6zM387 1189.8h6.6v6.6h-6.6zM388 1188.7h6.6v6.6h-6.6zM388.6 1186.7h6.6v6.6h-6.6zM389.5 1188.4h6.6v6.6h-6.6zM390.1 1187h6.6v6.6h-6.6zM390.7 1184.7h6.6v6.6h-6.6zM391.6 1182.9h6.6v6.6h-6.6zM393.2 1184.7h6.6v6.6h-6.6zM394.1 1183.2h6.6v6.6h-6.6zM394.4 1184.7h6.6v6.6h-6.6zM395 1182.7h6.6v6.6h-6.6zM395.6 1180.5h6.6v6.6h-6.6zM397.2 1180.7h6.6v6.6h-6.6zM398.4 1179.7h6.6v6.6h-6.6zM399 1181.1h6.6v6.6h-6.6zM400 1178.7h6.6v6.6h-6.6zM401.2 1180.3h6.6v6.6h-6.6zM401.5 1178.4h6.6v6.6h-6.6zM402.7 1178.9h6.6v6.6h-6.6zM403.7 1176.5h6.6v6.6h-6.6zM405.2 1177.1h6.6v6.6h-6.6zM406.7 1178.1h6.6v6.6h-6.6zM407.4 1175.4h6.6v6.6h-6.6zM408 1176.6h6.6v6.6h-6.6zM409.5 1175.9h6.6v6.6h-6.6zM410.1 1174.5h6.6v6.6h-6.6zM410.7 1178.8h6.6v6.6h-6.6zM411 1204.5h6.6v6.6h-6.6zM411.4 1223.6h6.6v6.6h-6.6zM411.7 1242.9h6.6v6.6h-6.6zM412 1258.4h6.6v6.6h-6.6zM412.3 1271.3h6.6v6.6h-6.6zM412.6 1284h6.6v6.6h-6.6zM412.9 1294.7h6.6v6.6h-6.6zM413.2 1303.9h6.6v6.6h-6.6zM413.5 1310.8h6.6v6.6h-6.6zM413.8 1319.6h6.6v6.6h-6.6zM414.1 1325.8h6.6v6.6h-6.6zM414.4 1331.2h6.6v6.6h-6.6zM414.7 1336h6.6v6.6h-6.6zM415 1341.4h6.6v6.6h-6.6zM415.4 1344.6h6.6v6.6h-6.6zM415.7 1347.9h6.6v6.6h-6.6zM416 1352.3h6.6v6.6h-6.6zM416.3 1356.2h6.6v6.6h-6.6zM416.9 1360.1h6.6v6.6h-6.6zM417.2 1363.9h6.6v6.6h-6.6zM417.5 1365.4h6.6v6.6h-6.6zM417.8 1368.2h6.6v6.6h-6.6zM418.1 1369.8h6.6v6.6h-6.6zM418.7 1373.1h6.6v6.6h-6.6zM419.1 1375.7h6.6v6.6h-6.6zM419.7 1377.5h6.6v6.6h-6.6zM420 1379.6h6.6v6.6h-6.6zM420.6 1380.9h6.6v6.6h-6.6zM421.2 1383.5h6.6v6.6h-6.6zM421.8 1385.3h6.6v6.6h-6.6zM422.1 1386.8h6.6v6.6h-6.6zM423.7 1387.6h6.6v6.6h-6.6zM424.3 1389.5h6.6v6.6h-6.6zM424.6 1391.1h6.6v6.6h-6.6zM425.5 1392.4h6.6v6.6h-6.6zM425.8 1393.9h6.6v6.6h-6.6zM426.7 1395.2h6.6v6.6h-6.6zM427.4 1396.9h6.6v6.6h-6.6zM428.3 1398.9h6.6v6.6h-6.6zM428.9 1400h6.6v6.6h-6.6zM429.5 1401.6h6.6v6.6h-6.6zM430.1 1403.7h6.6v6.6h-6.6zM431.4 1405.4h6.6v6.6h-6.6zM432.3 1406.7h6.6v6.6h-6.6zM433.5 1409.6h6.6v6.6h-6.6zM435.1 1410h6.6v6.6h-6.6zM436 1408.7h6.6v6.6h-6.6zM436.9 1407.3h6.6v6.6h-6.6zM437.2 1409.7h6.6v6.6h-6.6zM438.8 1410.4h6.6v6.6h-6.6zM439.4 1412.2h6.6v6.6h-6.6zM440 1415.4h6.6v6.6h-6.6zM440.9 1417h6.6v6.6h-6.6zM442.1 1415.4h6.6v6.6h-6.6zM443.4 1418.1h6.6v6.6h-6.6zM444.3 1419h6.6v6.6h-6.6zM445.5 1420.3h6.6v6.6h-6.6zM446.5 1418.2h6.6v6.6h-6.6zM447.4 1417.1h6.6v6.6h-6.6zM448 1415.8h6.6v6.6h-6.6zM449.5 1414.6h6.6v6.6h-6.6zM450.8 1413.9h6.6v6.6h-6.6z" fill="#000"/>
<rect x="82.4" y="1107.8" width="423.4" height="344" fill="none" stroke="#000" stroke-width="1.6"/>
<path d="M82.4 1423.1h7M82.4 1365.8h7M82.4 1308.5h7M82.4 1251.1h7M82.4 1193.8h7M82.4 1136.5h7M82.4 1394.5h3.6M82.4 1337.1h3.6M82.4 1279.8h3.6M82.4 1222.5h3.6M82.4 1165.1h3.6M120.9 1451.8v-7M197.9 1451.8v-7M274.9 1451.8v-7M351.8 1451.8v-7M428.8 1451.8v-7M505.8 1451.8v-7M159.4 1451.8v-3.6M236.4 1451.8v-3.6M313.3 1451.8v-3.6M390.3 1451.8v-3.6M467.3 1451.8v-3.6" stroke="#000" stroke-width="1.5" fill="none"/>
<text x="74.8" y="1429.5" font-family="'Liberation Sans', Arial, sans-serif" font-size="22" font-weight="normal" fill="#000" text-anchor="end" >0</text>
<text x="74.8" y="1372.2" font-family="'Liberation Sans', Arial, sans-serif" font-size="22" font-weight="normal" fill="#000" text-anchor="end" >2</text>
<text x="74.8" y="1314.8" font-family="'Liberation Sans', Arial, sans-serif" font-size="22" font-weight="normal" fill="#000" text-anchor="end" >4</text>
<text x="74.8" y="1257.5" font-family="'Liberation Sans', Arial, sans-serif" font-size="22" font-weight="normal" fill="#000" text-anchor="end" >6</text>
<text x="74.8" y="1200.2" font-family="'Liberation Sans', Arial, sans-serif" font-size="22" font-weight="normal" fill="#000" text-anchor="end" >8</text>
<text x="74.8" y="1142.8" font-family="'Liberation Sans', Arial, sans-serif" font-size="22" font-weight="normal" fill="#000" text-anchor="end" >10</text>
<g clip-path="url(#xc516)">
<text x="120.9" y="1477.3" font-family="'Liberation Sans', Arial, sans-serif" font-size="23" font-weight="normal" fill="#000" text-anchor="middle" >0</text>
<text x="197.9" y="1477.3" font-family="'Liberation Sans', Arial, sans-serif" font-size="23" font-weight="normal" fill="#000" text-anchor="middle" >10</text>
<text x="274.9" y="1477.3" font-family="'Liberation Sans', Arial, sans-serif" font-size="23" font-weight="normal" fill="#000" text-anchor="middle" >20</text>
<text x="351.8" y="1477.3" font-family="'Liberation Sans', Arial, sans-serif" font-size="23" font-weight="normal" fill="#000" text-anchor="middle" >30</text>
<text x="428.8" y="1477.3" font-family="'Liberation Sans', Arial, sans-serif" font-size="23" font-weight="normal" fill="#000" text-anchor="middle" >40</text>
<text x="505.8" y="1477.3" font-family="'Liberation Sans', Arial, sans-serif" font-size="23" font-weight="normal" fill="#000" text-anchor="middle" >50</text>
</g>
<text x="102.8" y="1155.5" font-family="'Liberation Sans', Arial, sans-serif" font-size="38.5" font-weight="normal" fill="#000" text-anchor="start" ><tspan font-family="&apos;Liberation Serif&apos;, &apos;Times New Roman&apos;, serif">&#955;</tspan><tspan dx="2">=</tspan>635 nm</text>
<text x="348.2" y="1153.8" font-family="'Liberation Sans', Arial, sans-serif" font-size="38.5" font-weight="normal" fill="#000" text-anchor="start" >5.9 mW</text>
<text x="240.6" y="1213.6" font-family="'Liberation Sans', Arial, sans-serif" font-size="38.5" font-weight="normal" fill="#000" text-anchor="start" >4.7 mW</text>
<text x="189" y="1281.4" font-family="'Liberation Sans', Arial, sans-serif" font-size="38.5" font-weight="normal" fill="#000" text-anchor="start" >3 mW</text>
<text x="88.4" y="1346" font-family="'Liberation Sans', Arial, sans-serif" font-size="38.5" font-weight="normal" fill="#000" text-anchor="start" >1.5 mW</text>
<text x="294" y="1521.3" font-family="'Liberation Sans', Arial, sans-serif" font-size="39" font-weight="normal" fill="#000" text-anchor="middle" >Time (s)</text>
<text transform="translate(37,1278.2) rotate(-90)" font-family="'Liberation Sans', Arial, sans-serif" font-size="39" text-anchor="middle">Photocurrent (<tspan font-family="&apos;Liberation Serif&apos;, &apos;Times New Roman&apos;, serif">&#956;</tspan>A)</text>
<text x="4" y="1080.4" font-family="'Liberation Serif', 'Times New Roman', serif" font-size="48.5" font-weight="bold" fill="#000" text-anchor="start" >(h)</text>
<rect x="654.2" y="1107.2" width="40" height="346.8" fill="#FF0A8C"/>
<rect x="733" y="1107.2" width="40" height="346.8" fill="#FF0A8C"/>
<rect x="811.7" y="1107.2" width="40.7" height="346.8" fill="#FF0A8C"/>
<rect x="889.2" y="1107.2" width="40.7" height="346.8" fill="#FF0A8C"/>
<polyline points="630,1425 630.3,1426 630.6,1425 630.9,1427.1 631.5,1428.6 631.8,1426.8 632.5,1424.4 633.4,1424.5 634.3,1425.9 634.9,1424.9 635.9,1422.6 636.5,1423.5 637.4,1424.4 638,1422.5 639,1422.2 639.3,1420.4 639.9,1422.2 640.2,1420 640.5,1422 641.4,1420.1 641.8,1421.6 642.1,1424.4 642.4,1423.6 643,1424.5 643.6,1423.7 644.6,1422.6 644.9,1421.3 645.5,1422.4 646.1,1421.7 646.4,1423.1 647.3,1422.9 648.3,1423.4 648.9,1425.4 649.2,1423.4 649.8,1424.3 650.1,1423.2 651.1,1422.2 651.4,1420.2 652,1419.2 652.3,1417.7 652.6,1419.6 652.9,1420.8 653.5,1422.7 654.2,1421.9 654.5,1421.2 654.8,1416.4 655.1,1412.1 655.4,1403.9 655.7,1398.6 656,1393.5 656.3,1389.3 656.6,1387.8 657,1386 657.3,1384.2 657.6,1379.4 657.9,1377.9 658.2,1375.9 658.5,1374.2 658.8,1371.8 659.1,1369.7 659.4,1368.2 660.1,1370.2 660.4,1368.5 660.7,1366.9 661,1364.5 661.6,1363.7 661.9,1362.5 662.2,1363.4 663.2,1362.7 663.5,1359.9 663.8,1358.8 664.1,1357.4 665,1357.4 665.6,1360 666,1360.7 666.6,1359.9 666.9,1358.8 667.2,1357.3 667.5,1355.6 668.1,1355.1 668.4,1353.3 669.4,1353.7 669.7,1355.7 670.3,1356.5 671.2,1356.3 671.5,1358.3 671.8,1355.9 672.2,1354.5 672.8,1356 673.4,1355.2 674,1354.5 674.3,1356.6 674.6,1357.6 674.9,1355.9 675.6,1357 676.2,1358.7 676.8,1357.4 677.4,1355.8 678.1,1356.9 678.7,1354.6 679,1355.4 679.3,1356.3 679.6,1354.8 680.5,1353.2 680.8,1355.2 681.5,1355.7 681.8,1356.9 682.4,1355.7 683,1357.3 683.6,1355.8 683.9,1354.5 684.3,1355.6 684.6,1352.9 685.2,1354.7 685.8,1353.6 686.1,1352 686.4,1351.2 686.7,1352 687,1352.8 687.4,1354.4 688.3,1354.4 688.6,1355.6 689.2,1356.3 689.5,1357.1 690.1,1358.1 690.8,1357.2 691.7,1356.2 692,1355.4 692.3,1353.5 693.2,1354.3 693.9,1353.3 694.5,1358.3 694.8,1362.5 695.1,1366.8 695.4,1370.5 695.7,1375 696,1377.8 696.4,1381.6 696.7,1384.8 697,1386.7 697.6,1387.4 697.9,1389.4 698.2,1391.4 698.8,1392.3 699.5,1394.7 699.8,1396 700.1,1397.8 700.4,1399.3 700.7,1401.2 701,1402.4 701.3,1405.3 701.6,1407 702.2,1408 702.9,1409.3 703.8,1410.8 704.1,1411.6 704.4,1409.1 704.7,1410.2 705,1411.3 705.3,1412.1 706.3,1411.6 707.2,1412.7 707.5,1414.5 707.8,1416.1 708.8,1415.7 709.1,1414.9 709.4,1414.1 710,1412.8 710.3,1414 710.6,1415.1 710.9,1415.9 711.2,1414.9 711.9,1416.6 712.5,1415.5 713.1,1416.7 713.4,1415.9 714,1415 714.3,1416.4 715.3,1418.9 715.6,1417.8 716.2,1418.7 716.5,1416.6 717.1,1418.3 718.1,1418 718.7,1419.7 719,1420.6 719.3,1421.6 719.6,1422.6 720.5,1422.6 721.2,1424 722.1,1422.5 722.4,1423.3 723.3,1424.2 723.6,1423.2 724.3,1425 724.6,1424 724.9,1422.9 725.2,1423.7 725.5,1421.8 726.1,1423.2 727.1,1424.4 727.4,1426.4 728.3,1425 729.2,1425.2 729.5,1423.1 729.9,1421.5 730.8,1423.1 731.4,1422 732.3,1423.9 733,1424.7 733.6,1417.1 733.9,1406.1 734.2,1397.4 734.5,1390.2 734.8,1383.2 735.1,1375.4 735.4,1370 735.7,1367 736.1,1361.3 736.4,1357.6 736.7,1351 737,1349.2 737.3,1347.2 737.6,1345.5 737.9,1343.3 738.2,1342.2 739.2,1340.7 739.5,1339.6 739.8,1338.5 740.1,1334.9 740.4,1333 740.7,1331 741.3,1329.8 741.9,1328.9 742.3,1327.5 742.6,1326.4 743.2,1325.1 743.5,1326.2 744.1,1325.2 745.1,1324.1 746,1322.7 746.6,1320.5 746.9,1319.6 747.2,1318.5 747.5,1317.2 747.8,1319.3 748.5,1319.9 749.1,1319.3 749.4,1317.4 750,1315 750.9,1315 751.3,1313.8 752.2,1314.3 752.5,1315.4 752.8,1313.6 753.1,1312.5 753.7,1311.5 754.4,1312.2 754.7,1311.1 755.3,1312.2 755.6,1310.2 755.9,1308.5 756.5,1307.8 757.1,1306.3 757.8,1307.1 758.4,1305.3 759.3,1306.4 759.9,1307.6 760.6,1306.1 761.2,1307.2 761.8,1306.6 762.1,1305.6 762.4,1306.7 763.4,1305.6 764,1307 764.9,1307.2 765.2,1306.3 765.8,1305.1 766.5,1303.3 767.4,1303.4 767.7,1305.2 768,1304.3 768.6,1304.8 769.2,1304.1 769.6,1303.3 769.9,1302.4 770.5,1301.8 771.4,1301.2 771.7,1300.2 772.3,1299 773,1298 773.3,1304.5 773.6,1313.1 773.9,1322.8 774.2,1328.2 774.5,1335.3 774.8,1342.5 775.1,1349.8 775.4,1353.6 775.8,1356.3 776.1,1359 776.4,1362.8 776.7,1364.5 777,1367.6 777.3,1371 777.6,1373.4 777.9,1375.5 778.2,1377.5 778.5,1379.1 778.9,1383.2 779.5,1385.2 779.8,1385.9 780.1,1388.1 780.4,1389.2 780.7,1390.5 781,1393.2 781.7,1393.8 782,1395.9 782.3,1398.7 782.6,1399.7 782.9,1400.9 783.8,1400.1 784.4,1401.1 785.1,1405.1 785.4,1406.2 785.7,1407.3 786.6,1407.2 787.5,1407.6 788.2,1408.5 788.8,1409.2 789.4,1409.8 790.3,1410.1 790.6,1408 791.3,1408.6 791.9,1410.3 792.8,1410.7 793.7,1410.2 794.1,1411.8 794.7,1413.4 795.6,1415.3 796.2,1417 796.5,1416.2 797.2,1419.4 797.8,1418.6 798.4,1419.2 799,1418.2 799.3,1417 800.3,1418.1 801.2,1418.7 801.8,1420.2 802.7,1419.9 803.4,1420.8 804,1420.2 804.6,1420.7 804.9,1421.7 805.8,1423 806.2,1421.8 806.5,1422.9 807.1,1424.2 807.4,1425.7 807.7,1424.7 808,1425.9 808.3,1427.6 808.9,1428.2 809.6,1425.3 810.5,1424.2 811.4,1422.6 812.4,1409.2 812.7,1396.7 813,1384 813.3,1372.9 813.6,1362.4 813.9,1353 814.2,1343.7 814.5,1338.8 814.8,1333 815.2,1327.6 815.5,1323.1 815.8,1317.7 816.1,1313.3 816.4,1309.1 816.7,1307 817,1304.3 817.3,1300.9 817.6,1298.2 817.9,1295.8 818.3,1293.1 818.6,1290.8 818.9,1289.4 819.2,1285.3 819.5,1284 819.8,1281.4 820.1,1279.1 820.4,1276.6 820.7,1275.8 821.4,1273.6 821.7,1272 822,1273.2 822.3,1274.3 822.6,1273 822.9,1271.7 823.2,1270.3 823.5,1268.4 824.1,1264 824.5,1262.2 824.8,1260.2 825.1,1259.4 825.4,1260.9 825.7,1259.8 826.3,1258.4 826.9,1256.4 827.9,1255.6 828.8,1253.9 829.1,1251.4 829.7,1250 830,1250.9 830.7,1250 831,1249 831.9,1248 832.2,1246.4 832.5,1245.3 833.5,1244.7 834.1,1246 834.4,1247.4 835,1248.5 835.3,1247.7 835.6,1246.8 836.6,1245.5 836.9,1244 837.5,1243 838.1,1241.7 838.4,1243.1 839,1244.3 839.3,1241.9 839.7,1240.6 840,1242.5 840.6,1243.4 840.9,1244.4 841.8,1242.1 842.8,1241.9 843.1,1240.9 843.4,1239.6 843.7,1238.8 844,1240.1 844.9,1240.5 845.2,1239.2 846.2,1238.9 846.8,1239.7 847.1,1237.1 847.7,1238.1 848,1239.5 849,1239 849.3,1237.3 849.6,1236.5 850.2,1235.4 851.1,1235.5 852.1,1236.5 852.4,1238.1 852.7,1249.6 853,1263 853.3,1274.6 853.6,1284.4 853.9,1293.9 854.2,1303.2 854.5,1310.5 854.9,1317.9 855.2,1323.1 855.5,1328.8 855.8,1333.8 856.1,1337.4 856.4,1343 856.7,1348 857,1350.4 857.3,1352.1 857.6,1355 858,1358.5 858.3,1359.8 858.6,1361.8 858.9,1363.2 859.2,1367.4 859.5,1369.6 859.8,1372.4 860.1,1375.1 860.4,1376 861.1,1378.7 861.4,1380.3 862,1381 862.3,1382.6 862.6,1383.5 862.9,1384.8 863.2,1387.4 863.5,1388.9 864.2,1390 864.5,1392.3 864.8,1393.9 865.1,1395.2 865.4,1397.3 866.3,1396.2 866.6,1399.3 867,1400.6 867.3,1399.2 867.6,1401.3 867.9,1403.6 868.5,1402.5 869.1,1404 870.1,1404.6 871,1404.4 871.9,1405.2 872.2,1408 872.8,1410.2 873.2,1408.4 873.5,1410.3 873.8,1412.6 874.1,1414.7 874.7,1414 875.6,1414.7 876.6,1416.8 876.9,1416 877.5,1416.9 878.4,1415.8 878.7,1417.3 879,1416.4 879.4,1419.4 880.3,1419.2 880.9,1421 881.8,1421.5 882.8,1423.7 883.4,1423.1 883.7,1424.5 884.3,1423.5 884.6,1424.7 885.3,1423.5 885.6,1422.7 885.9,1423.8 886.2,1422.7 887.1,1421.3 888,1420.6 888.7,1419.9 889,1420.7 889.3,1423 889.6,1420.7 889.9,1385.9 890.2,1357.7 890.5,1335.2 890.8,1316.9 891.1,1301.6 891.5,1289.9 891.8,1278.5 892.1,1269.6 892.4,1263.2 892.7,1256.4 893,1251.2 893.3,1246.4 893.6,1241.7 893.9,1235.3 894.2,1233.5 894.6,1230.3 894.9,1227.2 895.2,1224.6 895.5,1221.1 895.8,1219.9 896.1,1218.6 896.4,1217 897,1214 897.7,1211.5 898,1208.9 898.6,1207.3 898.9,1206.2 899.2,1203.2 899.5,1201.9 899.8,1202.7 900.1,1200.4 900.5,1198.4 900.8,1199.5 901.1,1201 901.4,1196.9 901.7,1195.8 902,1196.9 902.3,1194.5 902.6,1192.1 902.9,1193.6 903.2,1191.2 903.6,1189.6 903.9,1188.9 904.5,1187.6 905.1,1186.6 905.7,1185.7 906,1184.3 906.3,1182.6 906.7,1181.2 907,1180.3 907.3,1178.3 907.6,1179.4 908.2,1178.4 908.5,1176.8 908.8,1178.8 909.8,1177.5 910.1,1174.7 910.7,1174.1 911.3,1172.3 911.9,1170.6 912.2,1171.8 912.5,1170.4 913.2,1168.8 913.5,1167.4 914.4,1167.6 915,1169.1 915.7,1168.6 916,1170.7 916.3,1171.4 916.9,1168.8 917.5,1167 918.4,1168.6 919.1,1165.8 919.7,1166.6 920,1165.7 920.3,1166.9 920.6,1167.7 920.9,1166 921.5,1164.2 922.5,1163.7 923.1,1162.8 923.4,1164.1 923.7,1165.8 924.3,1164.8 925,1166.9 925.3,1163.4 925.6,1164.2 926.2,1163.2 927.1,1164.1 927.4,1163.2 928.1,1163.7 928.4,1162.6 929,1164.3 929.6,1163.3 930.2,1184.4 930.5,1201.7 930.8,1216.9 931.2,1229.8 931.5,1242 931.8,1253.3 932.1,1264 932.4,1272.8 932.7,1280.6 933,1288.6 933.3,1295.9 933.6,1300.6 934,1306.8 934.3,1313.2 934.6,1317.6 934.9,1323.5 935.2,1328.8 935.5,1331.6 935.8,1335.2 936.1,1337.8 936.4,1340.3 936.7,1344.3 937.1,1346.7 937.4,1349.8 937.7,1352.2 938,1354.4 938.3,1356.8 938.6,1360.3 938.9,1361.9 939.2,1363.8 939.5,1365.1 939.8,1368 940.2,1369.4 940.5,1371.2 940.8,1373.1 941.1,1374.7 941.4,1376.3 941.7,1378.9 942,1380.5 942.3,1381.9 942.9,1383.5 943.9,1384.5 944.2,1385.6 944.5,1388.2 945.4,1390.7 946.4,1391.7 946.7,1393.2 947,1394.2 947.3,1396 947.6,1396.8 948.2,1398.2 948.5,1400.2 949.1,1401.2 950.1,1402.4 950.4,1400.6 950.7,1401.5 951.3,1403.2 951.9,1405.8 952.6,1406.8 952.9,1407.9 953.5,1407.3 953.8,1408.5 954.1,1410 954.4,1412.4 954.7,1413.5 955.4,1412.5 955.7,1414 956.3,1413.2 956.6,1414.2 956.9,1415 957.2,1416 957.8,1417.6 958.5,1417.1 959.1,1416.3 960,1418 960.3,1419.1 961.2,1418.8 961.6,1419.8 961.9,1418.7 962.5,1417.6 962.8,1419.1 963.1,1416.8 963.7,1418.3 964.7,1419.7 965,1420.8 965.9,1420.5 966.5,1422.2 967.1,1422.4" fill="none" stroke="#000" stroke-width="1.5" stroke-linejoin="round"/>
<path d="M626.7 1421.7h6.6v6.6h-6.6zM627.6 1423.8h6.6v6.6h-6.6zM628.2 1425.3h6.6v6.6h-6.6zM628.5 1423.5h6.6v6.6h-6.6zM629.2 1421.1h6.6v6.6h-6.6zM630.4 1421.8h6.6v6.6h-6.6zM631.9 1421.4h6.6v6.6h-6.6zM632.6 1419.3h6.6v6.6h-6.6zM633.8 1420.7h6.6v6.6h-6.6zM634.7 1419.2h6.6v6.6h-6.6zM636 1417.1h6.6v6.6h-6.6zM636.6 1418.9h6.6v6.6h-6.6zM636.9 1416.7h6.6v6.6h-6.6zM637.2 1418.7h6.6v6.6h-6.6zM638.1 1416.8h6.6v6.6h-6.6zM638.5 1418.3h6.6v6.6h-6.6zM638.8 1421.1h6.6v6.6h-6.6zM640 1420.7h6.6v6.6h-6.6zM641.3 1419.3h6.6v6.6h-6.6zM641.6 1418h6.6v6.6h-6.6zM642.8 1418.4h6.6v6.6h-6.6zM643.1 1419.8h6.6v6.6h-6.6zM644.7 1419.9h6.6v6.6h-6.6zM645.6 1422.1h6.6v6.6h-6.6zM645.9 1420.1h6.6v6.6h-6.6zM647.1 1419.7h6.6v6.6h-6.6zM648.1 1416.9h6.6v6.6h-6.6zM649 1414.4h6.6v6.6h-6.6zM649.3 1416.3h6.6v6.6h-6.6zM650.2 1419.4h6.6v6.6h-6.6zM651.2 1417.9h6.6v6.6h-6.6zM651.5 1413.1h6.6v6.6h-6.6zM651.8 1408.8h6.6v6.6h-6.6zM652.1 1400.6h6.6v6.6h-6.6zM652.4 1395.3h6.6v6.6h-6.6zM652.7 1390.2h6.6v6.6h-6.6zM653 1386h6.6v6.6h-6.6zM653.3 1384.5h6.6v6.6h-6.6zM653.7 1382.7h6.6v6.6h-6.6zM654 1380.9h6.6v6.6h-6.6zM654.3 1376.1h6.6v6.6h-6.6zM654.6 1374.6h6.6v6.6h-6.6zM654.9 1372.6h6.6v6.6h-6.6zM655.2 1370.9h6.6v6.6h-6.6zM655.5 1368.5h6.6v6.6h-6.6zM655.8 1366.4h6.6v6.6h-6.6zM656.1 1364.9h6.6v6.6h-6.6zM656.8 1366.9h6.6v6.6h-6.6zM657.1 1365.2h6.6v6.6h-6.6zM657.4 1363.6h6.6v6.6h-6.6zM657.7 1361.2h6.6v6.6h-6.6zM658.6 1359.2h6.6v6.6h-6.6zM659.2 1360.4h6.6v6.6h-6.6zM660.2 1356.6h6.6v6.6h-6.6zM660.8 1354.1h6.6v6.6h-6.6zM662.3 1356.7h6.6v6.6h-6.6zM663 1358.1h6.6v6.6h-6.6zM663.3 1356.6h6.6v6.6h-6.6zM663.9 1354h6.6v6.6h-6.6zM664.2 1352.3h6.6v6.6h-6.6zM665.1 1350h6.6v6.6h-6.6zM666.4 1352.4h6.6v6.6h-6.6zM667.6 1353.4h6.6v6.6h-6.6zM668.2 1355h6.6v6.6h-6.6zM668.5 1352.6h6.6v6.6h-6.6zM668.9 1351.2h6.6v6.6h-6.6zM669.5 1352.7h6.6v6.6h-6.6zM670.4 1351.6h6.6v6.6h-6.6zM671 1353.3h6.6v6.6h-6.6zM672 1352.3h6.6v6.6h-6.6zM672.3 1353.7h6.6v6.6h-6.6zM672.9 1355.4h6.6v6.6h-6.6zM673.5 1354.1h6.6v6.6h-6.6zM674.1 1352.5h6.6v6.6h-6.6zM675.1 1353.9h6.6v6.6h-6.6zM675.4 1351.3h6.6v6.6h-6.6zM676 1353h6.6v6.6h-6.6zM676.3 1351.5h6.6v6.6h-6.6zM677.2 1349.9h6.6v6.6h-6.6zM677.5 1351.9h6.6v6.6h-6.6zM678.5 1353.6h6.6v6.6h-6.6zM679.1 1352.4h6.6v6.6h-6.6zM679.7 1354h6.6v6.6h-6.6zM680.3 1352.5h6.6v6.6h-6.6zM680.6 1351.2h6.6v6.6h-6.6zM681.3 1349.6h6.6v6.6h-6.6zM681.9 1351.4h6.6v6.6h-6.6zM682.8 1348.7h6.6v6.6h-6.6zM684.1 1351.1h6.6v6.6h-6.6zM685.3 1352.3h6.6v6.6h-6.6zM686.2 1353.8h6.6v6.6h-6.6zM687.2 1355.3h6.6v6.6h-6.6zM687.5 1353.9h6.6v6.6h-6.6zM688.4 1352.9h6.6v6.6h-6.6zM689 1350.2h6.6v6.6h-6.6zM690.3 1350.7h6.6v6.6h-6.6zM691.2 1355h6.6v6.6h-6.6zM691.5 1359.2h6.6v6.6h-6.6zM691.8 1363.5h6.6v6.6h-6.6zM692.1 1367.2h6.6v6.6h-6.6zM692.4 1371.7h6.6v6.6h-6.6zM692.7 1374.5h6.6v6.6h-6.6zM693.1 1378.3h6.6v6.6h-6.6zM693.4 1381.5h6.6v6.6h-6.6zM693.7 1383.4h6.6v6.6h-6.6zM694.6 1386.1h6.6v6.6h-6.6zM694.9 1388.1h6.6v6.6h-6.6zM695.8 1389.4h6.6v6.6h-6.6zM696.2 1391.4h6.6v6.6h-6.6zM696.5 1392.7h6.6v6.6h-6.6zM696.8 1394.5h6.6v6.6h-6.6zM697.1 1396h6.6v6.6h-6.6zM697.4 1397.9h6.6v6.6h-6.6zM698 1402h6.6v6.6h-6.6zM698.3 1403.7h6.6v6.6h-6.6zM699.6 1406h6.6v6.6h-6.6zM700.5 1407.5h6.6v6.6h-6.6zM701.1 1405.8h6.6v6.6h-6.6zM701.7 1408h6.6v6.6h-6.6zM702.7 1409.1h6.6v6.6h-6.6zM703.3 1407.8h6.6v6.6h-6.6zM703.9 1409.4h6.6v6.6h-6.6zM704.2 1411.2h6.6v6.6h-6.6zM704.5 1412.8h6.6v6.6h-6.6zM705.8 1411.6h6.6v6.6h-6.6zM706.7 1409.5h6.6v6.6h-6.6zM707.3 1411.8h6.6v6.6h-6.6zM708.6 1413.3h6.6v6.6h-6.6zM710.1 1412.6h6.6v6.6h-6.6zM711.4 1413.2h6.6v6.6h-6.6zM712 1415.6h6.6v6.6h-6.6zM713.2 1413.3h6.6v6.6h-6.6zM713.8 1415h6.6v6.6h-6.6zM715.4 1416.4h6.6v6.6h-6.6zM716 1418.3h6.6v6.6h-6.6zM716.9 1419.5h6.6v6.6h-6.6zM717.9 1420.7h6.6v6.6h-6.6zM718.8 1419.2h6.6v6.6h-6.6zM720 1420.9h6.6v6.6h-6.6zM720.7 1419.6h6.6v6.6h-6.6zM721 1421.7h6.6v6.6h-6.6zM721.6 1419.6h6.6v6.6h-6.6zM722.5 1418.6h6.6v6.6h-6.6zM722.8 1419.9h6.6v6.6h-6.6zM723.8 1421.1h6.6v6.6h-6.6zM724.1 1423.1h6.6v6.6h-6.6zM725 1421.7h6.6v6.6h-6.6zM726.2 1419.8h6.6v6.6h-6.6zM726.6 1418.2h6.6v6.6h-6.6zM727.5 1419.8h6.6v6.6h-6.6zM728.1 1418.7h6.6v6.6h-6.6zM729 1420.6h6.6v6.6h-6.6zM730.3 1413.8h6.6v6.6h-6.6zM730.6 1402.8h6.6v6.6h-6.6zM730.9 1394.1h6.6v6.6h-6.6zM731.2 1386.9h6.6v6.6h-6.6zM731.5 1379.9h6.6v6.6h-6.6zM731.8 1372.1h6.6v6.6h-6.6zM732.1 1366.7h6.6v6.6h-6.6zM732.4 1363.7h6.6v6.6h-6.6zM732.8 1358h6.6v6.6h-6.6zM733.1 1354.3h6.6v6.6h-6.6zM733.4 1347.7h6.6v6.6h-6.6zM733.7 1345.9h6.6v6.6h-6.6zM734 1343.9h6.6v6.6h-6.6zM734.3 1342.2h6.6v6.6h-6.6zM734.6 1340h6.6v6.6h-6.6zM735.9 1337.4h6.6v6.6h-6.6zM736.5 1335.2h6.6v6.6h-6.6zM736.8 1331.6h6.6v6.6h-6.6zM737.1 1329.7h6.6v6.6h-6.6zM737.4 1327.7h6.6v6.6h-6.6zM738 1326.5h6.6v6.6h-6.6zM739 1324.2h6.6v6.6h-6.6zM739.6 1322.3h6.6v6.6h-6.6zM740.8 1321.9h6.6v6.6h-6.6zM741.8 1320.8h6.6v6.6h-6.6zM742.7 1319.4h6.6v6.6h-6.6zM743.3 1317.2h6.6v6.6h-6.6zM743.9 1315.2h6.6v6.6h-6.6zM744.2 1313.9h6.6v6.6h-6.6zM744.5 1316h6.6v6.6h-6.6zM746.1 1314.1h6.6v6.6h-6.6zM746.7 1311.7h6.6v6.6h-6.6zM748 1310.5h6.6v6.6h-6.6zM749.2 1312.1h6.6v6.6h-6.6zM749.5 1310.3h6.6v6.6h-6.6zM750.1 1308.6h6.6v6.6h-6.6zM751.4 1307.8h6.6v6.6h-6.6zM752.6 1305.2h6.6v6.6h-6.6zM753.8 1303h6.6v6.6h-6.6zM755.1 1302h6.6v6.6h-6.6zM756 1303.1h6.6v6.6h-6.6zM756.6 1304.3h6.6v6.6h-6.6zM757.3 1302.8h6.6v6.6h-6.6zM758.2 1304h6.6v6.6h-6.6zM758.8 1302.3h6.6v6.6h-6.6zM759.7 1303.5h6.6v6.6h-6.6zM761 1303.9h6.6v6.6h-6.6zM762.2 1302.4h6.6v6.6h-6.6zM762.8 1301.2h6.6v6.6h-6.6zM764.1 1300.1h6.6v6.6h-6.6zM764.4 1301.9h6.6v6.6h-6.6zM765.6 1301.4h6.6v6.6h-6.6zM766.3 1300h6.6v6.6h-6.6zM767.2 1298.5h6.6v6.6h-6.6zM768.4 1296.9h6.6v6.6h-6.6zM769 1295.7h6.6v6.6h-6.6zM770 1301.2h6.6v6.6h-6.6zM770.3 1309.8h6.6v6.6h-6.6zM770.6 1319.5h6.6v6.6h-6.6zM770.9 1324.9h6.6v6.6h-6.6zM771.2 1332h6.6v6.6h-6.6zM771.5 1339.2h6.6v6.6h-6.6zM771.8 1346.5h6.6v6.6h-6.6zM772.1 1350.3h6.6v6.6h-6.6zM772.5 1353h6.6v6.6h-6.6zM772.8 1355.7h6.6v6.6h-6.6zM773.1 1359.5h6.6v6.6h-6.6zM773.4 1361.2h6.6v6.6h-6.6zM773.7 1364.3h6.6v6.6h-6.6zM774 1367.7h6.6v6.6h-6.6zM774.3 1370.1h6.6v6.6h-6.6zM774.6 1372.2h6.6v6.6h-6.6zM774.9 1374.2h6.6v6.6h-6.6zM775.2 1375.8h6.6v6.6h-6.6zM775.6 1379.9h6.6v6.6h-6.6zM776.2 1381.9h6.6v6.6h-6.6zM776.8 1384.8h6.6v6.6h-6.6zM777.4 1387.2h6.6v6.6h-6.6zM777.7 1389.9h6.6v6.6h-6.6zM778.7 1392.6h6.6v6.6h-6.6zM779 1395.4h6.6v6.6h-6.6zM779.6 1397.6h6.6v6.6h-6.6zM780.8 1396.8h6.6v6.6h-6.6zM781.5 1398.3h6.6v6.6h-6.6zM781.8 1401.8h6.6v6.6h-6.6zM782.4 1404h6.6v6.6h-6.6zM783.6 1403.2h6.6v6.6h-6.6zM784.6 1404.8h6.6v6.6h-6.6zM785.5 1405.9h6.6v6.6h-6.6zM786.7 1406.6h6.6v6.6h-6.6zM787.3 1404.7h6.6v6.6h-6.6zM788.6 1407h6.6v6.6h-6.6zM790.1 1407.2h6.6v6.6h-6.6zM790.8 1408.5h6.6v6.6h-6.6zM791.4 1410.1h6.6v6.6h-6.6zM792.3 1412h6.6v6.6h-6.6zM792.9 1413.7h6.6v6.6h-6.6zM793.9 1416.1h6.6v6.6h-6.6zM794.8 1415.1h6.6v6.6h-6.6zM796 1413.7h6.6v6.6h-6.6zM797 1414.8h6.6v6.6h-6.6zM798.2 1415.3h6.6v6.6h-6.6zM798.5 1416.9h6.6v6.6h-6.6zM800.1 1417.5h6.6v6.6h-6.6zM801.6 1418.4h6.6v6.6h-6.6zM802.5 1419.7h6.6v6.6h-6.6zM803.8 1420.9h6.6v6.6h-6.6zM804.1 1422.4h6.6v6.6h-6.6zM805 1424.3h6.6v6.6h-6.6zM806.3 1422h6.6v6.6h-6.6zM807.2 1420.9h6.6v6.6h-6.6zM808.1 1419.3h6.6v6.6h-6.6zM809.1 1405.9h6.6v6.6h-6.6zM809.4 1393.4h6.6v6.6h-6.6zM809.7 1380.7h6.6v6.6h-6.6zM810 1369.6h6.6v6.6h-6.6zM810.3 1359.1h6.6v6.6h-6.6zM810.6 1349.7h6.6v6.6h-6.6zM810.9 1340.4h6.6v6.6h-6.6zM811.2 1335.5h6.6v6.6h-6.6zM811.5 1329.7h6.6v6.6h-6.6zM811.9 1324.3h6.6v6.6h-6.6zM812.2 1319.8h6.6v6.6h-6.6zM812.5 1314.4h6.6v6.6h-6.6zM812.8 1310h6.6v6.6h-6.6zM813.1 1305.8h6.6v6.6h-6.6zM813.4 1303.7h6.6v6.6h-6.6zM813.7 1301h6.6v6.6h-6.6zM814 1297.6h6.6v6.6h-6.6zM814.3 1294.9h6.6v6.6h-6.6zM814.6 1292.5h6.6v6.6h-6.6zM815 1289.8h6.6v6.6h-6.6zM815.3 1287.5h6.6v6.6h-6.6zM815.6 1286.1h6.6v6.6h-6.6zM815.9 1282h6.6v6.6h-6.6zM816.2 1280.7h6.6v6.6h-6.6zM816.5 1278.1h6.6v6.6h-6.6zM816.8 1275.8h6.6v6.6h-6.6zM817.1 1273.3h6.6v6.6h-6.6zM818.1 1270.3h6.6v6.6h-6.6zM818.4 1268.7h6.6v6.6h-6.6zM819 1271h6.6v6.6h-6.6zM819.6 1268.4h6.6v6.6h-6.6zM819.9 1267h6.6v6.6h-6.6zM820.2 1265.1h6.6v6.6h-6.6zM820.8 1260.7h6.6v6.6h-6.6zM821.2 1258.9h6.6v6.6h-6.6zM821.5 1256.9h6.6v6.6h-6.6zM822.7 1256.3h6.6v6.6h-6.6zM823.3 1254.5h6.6v6.6h-6.6zM823.6 1253.1h6.6v6.6h-6.6zM824.9 1252.3h6.6v6.6h-6.6zM825.5 1250.6h6.6v6.6h-6.6zM825.8 1248.1h6.6v6.6h-6.6zM826.4 1246.7h6.6v6.6h-6.6zM827.7 1245.7h6.6v6.6h-6.6zM828.6 1244.7h6.6v6.6h-6.6zM828.9 1243.1h6.6v6.6h-6.6zM829.5 1241.4h6.6v6.6h-6.6zM830.8 1242.7h6.6v6.6h-6.6zM831.1 1244.1h6.6v6.6h-6.6zM832.3 1243.5h6.6v6.6h-6.6zM833.3 1242.2h6.6v6.6h-6.6zM833.6 1240.7h6.6v6.6h-6.6zM834.5 1239.7h6.6v6.6h-6.6zM834.8 1238.4h6.6v6.6h-6.6zM835.1 1239.8h6.6v6.6h-6.6zM835.7 1241h6.6v6.6h-6.6zM836 1238.6h6.6v6.6h-6.6zM836.4 1237.3h6.6v6.6h-6.6zM836.7 1239.2h6.6v6.6h-6.6zM837.6 1241.1h6.6v6.6h-6.6zM838.5 1238.8h6.6v6.6h-6.6zM839.8 1237.6h6.6v6.6h-6.6zM840.1 1236.3h6.6v6.6h-6.6zM841.3 1236.9h6.6v6.6h-6.6zM842.2 1235.9h6.6v6.6h-6.6zM843.5 1236.4h6.6v6.6h-6.6zM843.8 1233.8h6.6v6.6h-6.6zM844.7 1236.2h6.6v6.6h-6.6zM846 1234h6.6v6.6h-6.6zM846.9 1232.1h6.6v6.6h-6.6zM848.1 1232.6h6.6v6.6h-6.6zM849.1 1234.8h6.6v6.6h-6.6zM849.4 1246.3h6.6v6.6h-6.6zM849.7 1259.7h6.6v6.6h-6.6zM850 1271.3h6.6v6.6h-6.6zM850.3 1281.1h6.6v6.6h-6.6zM850.6 1290.6h6.6v6.6h-6.6zM850.9 1299.9h6.6v6.6h-6.6zM851.2 1307.2h6.6v6.6h-6.6zM851.6 1314.6h6.6v6.6h-6.6zM851.9 1319.8h6.6v6.6h-6.6zM852.2 1325.5h6.6v6.6h-6.6zM852.5 1330.5h6.6v6.6h-6.6zM852.8 1334.1h6.6v6.6h-6.6zM853.1 1339.7h6.6v6.6h-6.6zM853.4 1344.7h6.6v6.6h-6.6zM853.7 1347.1h6.6v6.6h-6.6zM854 1348.8h6.6v6.6h-6.6zM854.3 1351.7h6.6v6.6h-6.6zM854.7 1355.2h6.6v6.6h-6.6zM855 1356.5h6.6v6.6h-6.6zM855.3 1358.5h6.6v6.6h-6.6zM855.6 1359.9h6.6v6.6h-6.6zM855.9 1364.1h6.6v6.6h-6.6zM856.2 1366.3h6.6v6.6h-6.6zM856.5 1369.1h6.6v6.6h-6.6zM856.8 1371.8h6.6v6.6h-6.6zM857.4 1373.4h6.6v6.6h-6.6zM857.8 1375.4h6.6v6.6h-6.6zM858.1 1377h6.6v6.6h-6.6zM859 1379.3h6.6v6.6h-6.6zM859.6 1381.5h6.6v6.6h-6.6zM859.9 1384.1h6.6v6.6h-6.6zM860.2 1385.6h6.6v6.6h-6.6zM861.2 1389h6.6v6.6h-6.6zM861.5 1390.6h6.6v6.6h-6.6zM861.8 1391.9h6.6v6.6h-6.6zM862.1 1394h6.6v6.6h-6.6zM863 1392.9h6.6v6.6h-6.6zM863.3 1396h6.6v6.6h-6.6zM863.7 1397.3h6.6v6.6h-6.6zM864 1395.9h6.6v6.6h-6.6zM864.3 1398h6.6v6.6h-6.6zM864.6 1400.3h6.6v6.6h-6.6zM865.2 1399.2h6.6v6.6h-6.6zM865.8 1400.7h6.6v6.6h-6.6zM867.1 1401.6h6.6v6.6h-6.6zM868 1400.7h6.6v6.6h-6.6zM868.6 1401.9h6.6v6.6h-6.6zM868.9 1404.7h6.6v6.6h-6.6zM869.5 1406.9h6.6v6.6h-6.6zM869.9 1405.1h6.6v6.6h-6.6zM870.2 1407h6.6v6.6h-6.6zM870.5 1409.3h6.6v6.6h-6.6zM870.8 1411.4h6.6v6.6h-6.6zM871.7 1410.3h6.6v6.6h-6.6zM873 1411.8h6.6v6.6h-6.6zM873.3 1413.5h6.6v6.6h-6.6zM873.9 1412.4h6.6v6.6h-6.6zM874.5 1414h6.6v6.6h-6.6zM875.1 1412.5h6.6v6.6h-6.6zM875.4 1414h6.6v6.6h-6.6zM876.1 1416.1h6.6v6.6h-6.6zM877.6 1417.7h6.6v6.6h-6.6zM879.2 1418.2h6.6v6.6h-6.6zM879.5 1420.4h6.6v6.6h-6.6zM880.7 1420.8h6.6v6.6h-6.6zM882 1420.2h6.6v6.6h-6.6zM883.2 1419.2h6.6v6.6h-6.6zM883.8 1418h6.6v6.6h-6.6zM885.1 1417.2h6.6v6.6h-6.6zM886 1419.7h6.6v6.6h-6.6zM886.3 1417.4h6.6v6.6h-6.6zM886.6 1382.6h6.6v6.6h-6.6zM886.9 1354.4h6.6v6.6h-6.6zM887.2 1331.9h6.6v6.6h-6.6zM887.5 1313.6h6.6v6.6h-6.6zM887.8 1298.3h6.6v6.6h-6.6zM888.2 1286.6h6.6v6.6h-6.6zM888.5 1275.2h6.6v6.6h-6.6zM888.8 1266.3h6.6v6.6h-6.6zM889.1 1259.9h6.6v6.6h-6.6zM889.4 1253.1h6.6v6.6h-6.6zM889.7 1247.9h6.6v6.6h-6.6zM890 1243.1h6.6v6.6h-6.6zM890.3 1238.4h6.6v6.6h-6.6zM890.6 1232h6.6v6.6h-6.6zM890.9 1230.2h6.6v6.6h-6.6zM891.3 1227h6.6v6.6h-6.6zM891.6 1223.9h6.6v6.6h-6.6zM891.9 1221.3h6.6v6.6h-6.6zM892.2 1217.8h6.6v6.6h-6.6zM892.8 1215.3h6.6v6.6h-6.6zM893.1 1213.7h6.6v6.6h-6.6zM893.7 1210.7h6.6v6.6h-6.6zM894.4 1208.2h6.6v6.6h-6.6zM894.7 1205.6h6.6v6.6h-6.6zM895.3 1204h6.6v6.6h-6.6zM895.9 1199.9h6.6v6.6h-6.6zM896.2 1198.6h6.6v6.6h-6.6zM896.8 1197.1h6.6v6.6h-6.6zM897.2 1195.1h6.6v6.6h-6.6zM897.8 1197.7h6.6v6.6h-6.6zM898.1 1193.6h6.6v6.6h-6.6zM899 1191.2h6.6v6.6h-6.6zM899.3 1188.8h6.6v6.6h-6.6zM899.6 1190.3h6.6v6.6h-6.6zM899.9 1187.9h6.6v6.6h-6.6zM900.3 1186.3h6.6v6.6h-6.6zM901.2 1184.3h6.6v6.6h-6.6zM902.1 1182.8h6.6v6.6h-6.6zM902.7 1181h6.6v6.6h-6.6zM903 1179.3h6.6v6.6h-6.6zM903.4 1177.9h6.6v6.6h-6.6zM904 1175h6.6v6.6h-6.6zM905.2 1173.5h6.6v6.6h-6.6zM905.5 1175.5h6.6v6.6h-6.6zM906.5 1174.2h6.6v6.6h-6.6zM906.8 1171.4h6.6v6.6h-6.6zM907.7 1170.2h6.6v6.6h-6.6zM908.6 1167.3h6.6v6.6h-6.6zM908.9 1168.5h6.6v6.6h-6.6zM909.2 1167.1h6.6v6.6h-6.6zM909.9 1165.5h6.6v6.6h-6.6zM910.2 1164.1h6.6v6.6h-6.6zM911.4 1165h6.6v6.6h-6.6zM912 1166.4h6.6v6.6h-6.6zM913 1168.1h6.6v6.6h-6.6zM913.6 1165.5h6.6v6.6h-6.6zM914.2 1163.7h6.6v6.6h-6.6zM915.1 1165.3h6.6v6.6h-6.6zM915.8 1162.5h6.6v6.6h-6.6zM917 1163.6h6.6v6.6h-6.6zM917.9 1162h6.6v6.6h-6.6zM918.6 1160.6h6.6v6.6h-6.6zM919.8 1159.5h6.6v6.6h-6.6zM920.1 1160.8h6.6v6.6h-6.6zM920.4 1162.5h6.6v6.6h-6.6zM921.7 1163.6h6.6v6.6h-6.6zM922 1160.1h6.6v6.6h-6.6zM923.2 1159.3h6.6v6.6h-6.6zM923.8 1160.8h6.6v6.6h-6.6zM925.1 1159.3h6.6v6.6h-6.6zM925.7 1161h6.6v6.6h-6.6zM926.9 1181.1h6.6v6.6h-6.6zM927.2 1198.4h6.6v6.6h-6.6zM927.5 1213.6h6.6v6.6h-6.6zM927.9 1226.5h6.6v6.6h-6.6zM928.2 1238.7h6.6v6.6h-6.6zM928.5 1250h6.6v6.6h-6.6zM928.8 1260.7h6.6v6.6h-6.6zM929.1 1269.5h6.6v6.6h-6.6zM929.4 1277.3h6.6v6.6h-6.6zM929.7 1285.3h6.6v6.6h-6.6zM930 1292.6h6.6v6.6h-6.6zM930.3 1297.3h6.6v6.6h-6.6zM930.7 1303.5h6.6v6.6h-6.6zM931 1309.9h6.6v6.6h-6.6zM931.3 1314.3h6.6v6.6h-6.6zM931.6 1320.2h6.6v6.6h-6.6zM931.9 1325.5h6.6v6.6h-6.6zM932.2 1328.3h6.6v6.6h-6.6zM932.5 1331.9h6.6v6.6h-6.6zM932.8 1334.5h6.6v6.6h-6.6zM933.1 1337h6.6v6.6h-6.6zM933.4 1341h6.6v6.6h-6.6zM933.8 1343.4h6.6v6.6h-6.6zM934.1 1346.5h6.6v6.6h-6.6zM934.4 1348.9h6.6v6.6h-6.6zM934.7 1351.1h6.6v6.6h-6.6zM935 1353.5h6.6v6.6h-6.6zM935.3 1357h6.6v6.6h-6.6zM935.6 1358.6h6.6v6.6h-6.6zM935.9 1360.5h6.6v6.6h-6.6zM936.2 1361.8h6.6v6.6h-6.6zM936.5 1364.7h6.6v6.6h-6.6zM936.9 1366.1h6.6v6.6h-6.6zM937.2 1367.9h6.6v6.6h-6.6zM937.5 1369.8h6.6v6.6h-6.6zM937.8 1371.4h6.6v6.6h-6.6zM938.1 1373h6.6v6.6h-6.6zM938.4 1375.6h6.6v6.6h-6.6zM938.7 1377.2h6.6v6.6h-6.6zM939 1378.6h6.6v6.6h-6.6zM939.6 1380.2h6.6v6.6h-6.6zM940.6 1381.2h6.6v6.6h-6.6zM941.2 1384.9h6.6v6.6h-6.6zM942.1 1387.4h6.6v6.6h-6.6zM943.1 1388.4h6.6v6.6h-6.6zM943.4 1389.9h6.6v6.6h-6.6zM944 1392.7h6.6v6.6h-6.6zM944.6 1394.2h6.6v6.6h-6.6zM945.2 1396.9h6.6v6.6h-6.6zM946.2 1398.1h6.6v6.6h-6.6zM947.7 1398.8h6.6v6.6h-6.6zM948.3 1400.5h6.6v6.6h-6.6zM948.6 1402.5h6.6v6.6h-6.6zM949.6 1404.6h6.6v6.6h-6.6zM950.8 1406.7h6.6v6.6h-6.6zM951.1 1409.1h6.6v6.6h-6.6zM952.4 1410.7h6.6v6.6h-6.6zM953.6 1411.7h6.6v6.6h-6.6zM954.5 1414.3h6.6v6.6h-6.6zM955.8 1413h6.6v6.6h-6.6zM956.7 1414.7h6.6v6.6h-6.6zM957.9 1415.5h6.6v6.6h-6.6zM959.2 1414.3h6.6v6.6h-6.6zM959.5 1415.8h6.6v6.6h-6.6zM959.8 1413.5h6.6v6.6h-6.6zM960.4 1415h6.6v6.6h-6.6zM961.4 1416.4h6.6v6.6h-6.6zM962.6 1417.2h6.6v6.6h-6.6zM963.2 1418.9h6.6v6.6h-6.6zM963.8 1419.1h6.6v6.6h-6.6z" fill="#000"/>
<rect x="591.2" y="1107.2" width="426.5" height="346.8" fill="none" stroke="#000" stroke-width="1.6"/>
<path d="M591.2 1423.8h7M591.2 1363.5h7M591.2 1303.2h7M591.2 1242.9h7M591.2 1182.6h7M591.2 1122.3h7M591.2 1393.7h3.6M591.2 1333.4h3.6M591.2 1273.1h3.6M591.2 1212.7h3.6M591.2 1152.4h3.6M630 1454v-7M707.5 1454v-7M785.1 1454v-7M862.6 1454v-7M940.2 1454v-7M1017.7 1454v-7M668.7 1454v-3.6M746.3 1454v-3.6M823.8 1454v-3.6M901.4 1454v-3.6M978.9 1454v-3.6" stroke="#000" stroke-width="1.5" fill="none"/>
<text x="583.6" y="1430.2" font-family="'Liberation Sans', Arial, sans-serif" font-size="22" font-weight="normal" fill="#000" text-anchor="end" >0</text>
<text x="583.6" y="1369.9" font-family="'Liberation Sans', Arial, sans-serif" font-size="22" font-weight="normal" fill="#000" text-anchor="end" >2</text>
<text x="583.6" y="1309.6" font-family="'Liberation Sans', Arial, sans-serif" font-size="22" font-weight="normal" fill="#000" text-anchor="end" >4</text>
<text x="583.6" y="1249.3" font-family="'Liberation Sans', Arial, sans-serif" font-size="22" font-weight="normal" fill="#000" text-anchor="end" >6</text>
<text x="583.6" y="1189" font-family="'Liberation Sans', Arial, sans-serif" font-size="22" font-weight="normal" fill="#000" text-anchor="end" >8</text>
<text x="583.6" y="1128.7" font-family="'Liberation Sans', Arial, sans-serif" font-size="22" font-weight="normal" fill="#000" text-anchor="end" >10</text>
<text x="630" y="1479.5" font-family="'Liberation Sans', Arial, sans-serif" font-size="23" font-weight="normal" fill="#000" text-anchor="middle" >0</text>
<text x="707.5" y="1479.5" font-family="'Liberation Sans', Arial, sans-serif" font-size="23" font-weight="normal" fill="#000" text-anchor="middle" >10</text>
<text x="785.1" y="1479.5" font-family="'Liberation Sans', Arial, sans-serif" font-size="23" font-weight="normal" fill="#000" text-anchor="middle" >20</text>
<text x="862.6" y="1479.5" font-family="'Liberation Sans', Arial, sans-serif" font-size="23" font-weight="normal" fill="#000" text-anchor="middle" >30</text>
<text x="940.2" y="1479.5" font-family="'Liberation Sans', Arial, sans-serif" font-size="23" font-weight="normal" fill="#000" text-anchor="middle" >40</text>
<text x="1017.7" y="1479.5" font-family="'Liberation Sans', Arial, sans-serif" font-size="23" font-weight="normal" fill="#000" text-anchor="middle" >50</text>
<text x="602.3" y="1155.4" font-family="'Liberation Sans', Arial, sans-serif" font-size="38.5" font-weight="normal" fill="#000" text-anchor="start" ><tspan font-family="&apos;Liberation Serif&apos;, &apos;Times New Roman&apos;, serif">&#955;</tspan><tspan dx="2">=</tspan>808 nm</text>
<text x="857.6" y="1148.8" font-family="'Liberation Sans', Arial, sans-serif" font-size="38.5" font-weight="normal" fill="#000" text-anchor="start" >5.9 mW</text>
<text x="756.9" y="1218.4" font-family="'Liberation Sans', Arial, sans-serif" font-size="38.5" font-weight="normal" fill="#000" text-anchor="start" >4.7 mW</text>
<text x="697.8" y="1284.6" font-family="'Liberation Sans', Arial, sans-serif" font-size="38.5" font-weight="normal" fill="#000" text-anchor="start" >3 mW</text>
<text x="596.6" y="1342.7" font-family="'Liberation Sans', Arial, sans-serif" font-size="38.5" font-weight="normal" fill="#000" text-anchor="start" >1.5 mW</text>
<text x="804.5" y="1524" font-family="'Liberation Sans', Arial, sans-serif" font-size="39" font-weight="normal" fill="#000" text-anchor="middle" >Time (s)</text>
<text transform="translate(545.4,1280.5) rotate(-90)" font-family="'Liberation Sans', Arial, sans-serif" font-size="39" text-anchor="middle">Photocurrent (<tspan font-family="&apos;Liberation Serif&apos;, &apos;Times New Roman&apos;, serif">&#956;</tspan>A)</text>
<text x="510.5" y="1077" font-family="'Liberation Serif', 'Times New Roman', serif" font-size="48.5" font-weight="bold" fill="#000" text-anchor="start" >(i)</text>
<rect x="1174.2" y="1103" width="39.7" height="350.3" fill="#FF0000"/>
<rect x="1254.3" y="1103" width="39.3" height="350.3" fill="#FF0000"/>
<rect x="1331.1" y="1103" width="40" height="350.3" fill="#FF0000"/>
<rect x="1407.6" y="1103" width="39.7" height="350.3" fill="#FF0000"/>
<polyline points="1148.3,1404.5 1148.6,1407.5 1149,1408.4 1149.6,1405.1 1150.2,1407.8 1150.5,1406.9 1150.8,1408.6 1151.2,1406.1 1151.8,1403.4 1152.4,1405.8 1152.7,1408 1153.4,1407 1153.7,1404.9 1154.3,1405.8 1154.6,1405 1154.9,1407.3 1155.2,1406.2 1155.6,1407.2 1155.9,1404.6 1156.2,1403.1 1156.8,1404.9 1157.1,1404.1 1157.8,1404.8 1158.1,1405.8 1158.4,1403.8 1158.7,1404.6 1159.3,1402 1159.7,1404.9 1160,1402.1 1160.3,1401 1160.6,1402.7 1160.9,1404.6 1161.2,1406.6 1161.5,1404.9 1161.9,1409.1 1162.2,1407 1163.1,1407.9 1164.1,1406.2 1164.4,1407.4 1164.7,1405.4 1165,1403.8 1165.9,1404.7 1166.6,1404 1166.9,1401.1 1167.5,1402.6 1168.1,1403.6 1168.5,1405.6 1168.8,1402.5 1169.1,1403.9 1169.4,1405.1 1169.7,1406.2 1170,1405 1170.4,1400.4 1170.7,1396.3 1171.3,1396.9 1171.6,1398.2 1171.9,1400.9 1172.9,1398.5 1173.2,1400 1173.5,1402.4 1173.8,1405.7 1174.1,1408.5 1174.4,1407 1174.8,1402.8 1175.1,1398.2 1175.4,1394.7 1175.7,1388.6 1176,1384.3 1176.3,1379.4 1176.6,1375.5 1177,1373.3 1177.6,1369.2 1177.9,1366.2 1178.2,1363.3 1178.5,1359.6 1178.8,1356.4 1179.5,1353.6 1179.8,1356.1 1180.1,1353.6 1180.4,1352.5 1180.7,1349.9 1181,1347.7 1181.4,1348.9 1182,1346.2 1182.9,1347.2 1183.2,1345.8 1183.9,1346.4 1184.2,1348.3 1184.5,1351.2 1184.8,1348.8 1185.8,1349.2 1186.4,1347.9 1186.7,1346.3 1187,1349.5 1187.3,1348.7 1187.7,1347.7 1188.3,1346.9 1188.6,1343.7 1189.2,1341.3 1189.5,1340 1189.9,1342.9 1190.2,1340.2 1190.8,1341.2 1191.1,1340.2 1191.4,1337.1 1191.7,1339.3 1192.1,1341 1192.7,1344 1193,1345.7 1193.6,1343.7 1193.9,1342.8 1194.3,1341.5 1194.6,1340 1194.9,1341.2 1195.2,1342 1195.8,1343.3 1196.1,1341.5 1196.5,1340.3 1196.8,1344.1 1197.1,1343.1 1197.4,1344.8 1197.7,1346.4 1198,1343.8 1198.4,1341.6 1198.7,1339.9 1199.3,1336.9 1199.6,1339.7 1199.9,1338.8 1200.2,1340.6 1200.6,1341.9 1200.9,1344.7 1201.2,1342 1201.5,1339.3 1201.8,1338.4 1202.1,1340 1202.8,1342.3 1203.4,1340.4 1203.7,1338.2 1204.3,1337.3 1204.6,1338.3 1205.3,1339.4 1205.9,1340.7 1206.2,1339.4 1206.5,1340.3 1207.2,1340.9 1207.5,1338.7 1207.8,1337.9 1208.1,1339.9 1208.4,1341.9 1208.7,1341.1 1209.4,1341.8 1210,1339.1 1210.6,1337.9 1210.9,1339.4 1211.3,1340.3 1212.2,1341.8 1212.5,1343.7 1213.1,1344.5 1213.8,1342.3 1214.1,1346.8 1214.4,1352.5 1214.7,1358.5 1215,1363 1215.3,1366.3 1215.7,1368.9 1216,1370.5 1216.3,1374.4 1216.6,1376.1 1216.9,1377.9 1217.5,1378.5 1217.9,1381.3 1218.2,1382.2 1218.8,1384 1219.7,1387.9 1220.7,1390.4 1221.3,1395.3 1221.6,1392.2 1221.9,1395.1 1222.3,1396.1 1222.9,1399.2 1223.5,1399.9 1223.8,1401.8 1224.2,1405 1224.5,1403 1224.8,1400.6 1225.7,1397.7 1226.4,1396 1226.7,1395 1227.6,1393.8 1227.9,1394.5 1228.2,1395.3 1228.6,1397.4 1228.9,1401.3 1229.2,1402.8 1229.8,1401.3 1230.4,1405.2 1230.8,1403.7 1231.1,1401.5 1231.7,1400.9 1232.6,1399.1 1233,1401 1233.3,1402.5 1233.6,1404.9 1234.2,1406.3 1235.2,1404 1235.5,1406.1 1236.4,1407 1237,1406.1 1237.4,1408.4 1237.7,1405.3 1238.3,1406.2 1238.6,1408.4 1238.9,1406.1 1239.3,1404.6 1239.6,1403.1 1240.2,1400.4 1240.5,1398.5 1240.8,1395.9 1241.8,1398 1242.1,1398.8 1242.4,1400.1 1243,1401.1 1243.7,1402.1 1244.3,1403.2 1244.6,1404.5 1244.9,1405.3 1245.2,1404.1 1245.5,1403 1245.9,1401.5 1246.2,1398.1 1246.5,1400.7 1246.8,1400 1247.1,1402.8 1247.4,1404 1247.7,1405.4 1248.4,1403.1 1248.7,1400.9 1249.3,1399.9 1249.9,1402.7 1250.3,1400.4 1250.6,1402 1250.9,1403.3 1251.5,1405.4 1251.8,1406.4 1252.2,1405 1252.5,1406.5 1252.8,1407.3 1253.1,1409.7 1253.4,1412.1 1253.7,1410.5 1254,1409 1254.7,1405.6 1255,1397.9 1255.3,1387.8 1255.6,1380.8 1255.9,1373.4 1256.2,1365.9 1256.6,1362.2 1256.9,1354.5 1257.2,1350.1 1257.5,1345.9 1257.8,1342.5 1258.1,1338.6 1258.4,1337.7 1258.8,1336.7 1259.1,1333.3 1259.4,1331.2 1259.7,1329.6 1260,1327.1 1260.3,1322.8 1261,1325.9 1261.3,1324.6 1261.6,1325.8 1261.9,1324.3 1262.5,1322.4 1262.8,1318 1263.5,1319.2 1264.1,1320.5 1264.4,1321.5 1264.7,1319.3 1265.1,1317.8 1265.4,1315.2 1265.7,1313.3 1266.3,1313.9 1267.3,1314.5 1267.6,1316.5 1267.9,1311.9 1268.2,1309.5 1268.8,1310.9 1269.8,1311.1 1270.1,1314.5 1270.4,1313.5 1270.7,1312.1 1271,1314.1 1271.3,1315.8 1272.3,1313.6 1272.6,1311.7 1272.9,1314.3 1273.2,1312.9 1273.5,1314.8 1274.2,1312.3 1274.8,1311 1275.4,1308 1276.1,1303.6 1276.7,1305.1 1277.3,1306.7 1277.6,1304.7 1277.9,1307.1 1278.3,1306.1 1278.6,1304.2 1278.9,1303.3 1279.2,1306.4 1279.5,1304.7 1280.2,1303.1 1280.5,1305.6 1281.1,1304.6 1281.7,1305.4 1282,1306.7 1282.7,1307.6 1283,1303.8 1283.3,1304.8 1283.6,1306.3 1283.9,1308.4 1284.6,1307.8 1284.9,1308.8 1285.2,1311.6 1285.5,1308.2 1286.1,1309.9 1286.8,1310.8 1287.4,1313.9 1288,1317.7 1288.3,1315.2 1288.6,1314.4 1289.3,1313.5 1289.6,1315.2 1289.9,1314.4 1290.5,1311.7 1290.8,1312.7 1291.8,1312 1292.4,1310.9 1292.7,1309.3 1293.4,1308.6 1293.7,1311.8 1294,1323.7 1294.3,1330.6 1294.6,1338.1 1294.9,1344.1 1295.3,1351 1295.6,1352.2 1295.9,1354.2 1296.2,1358.5 1296.5,1360.8 1296.8,1362.2 1297.5,1364.4 1297.8,1365.5 1298.1,1369.6 1298.4,1372.2 1298.7,1374.4 1299,1376.6 1299.3,1379.9 1300,1382.8 1300.3,1385.1 1300.6,1385.9 1300.9,1384.2 1301.2,1383.3 1301.5,1384.8 1301.9,1387.6 1302.2,1390.6 1302.8,1389.9 1303.1,1389.1 1303.4,1390.1 1303.7,1392.1 1304.4,1390.3 1304.7,1391.2 1305.3,1392.5 1305.6,1393.5 1306,1391.8 1306.3,1393.6 1306.6,1392.1 1306.9,1393.6 1307.8,1393.4 1308.2,1395.2 1308.5,1396 1309.1,1397 1310,1398.8 1310.4,1397.8 1310.7,1396.7 1311,1399.4 1311.6,1401.3 1311.9,1403.9 1312.6,1402.3 1313.5,1402.3 1313.8,1405.6 1314.4,1403.4 1314.8,1401.1 1315.1,1403.3 1315.4,1405.8 1315.7,1404.8 1316.6,1405.2 1317,1403.7 1317.3,1402.6 1317.6,1403.4 1318.5,1402.7 1319.2,1402.1 1319.5,1401.3 1320.1,1402.8 1320.4,1401.5 1320.7,1402.7 1321.1,1405 1321.4,1406.3 1322.3,1406.9 1322.9,1405.3 1323.6,1406.3 1324.2,1404.2 1324.5,1406.4 1325.1,1408.6 1325.8,1407.3 1326.1,1403.7 1326.7,1405.8 1327,1407.4 1327.3,1405.8 1327.7,1404 1328,1402.7 1328.3,1401.8 1328.6,1403.2 1328.9,1404.7 1329.5,1403.6 1329.9,1404.7 1330.2,1406.4 1330.5,1404.3 1330.8,1406.9 1331.1,1404.2 1331.4,1406.2 1331.7,1393.9 1332.1,1382.2 1332.4,1368.9 1332.7,1359.6 1333,1350.3 1333.3,1341.3 1333.6,1334.4 1334,1329.6 1334.3,1324.1 1334.6,1319.4 1334.9,1313.3 1335.2,1314.1 1335.5,1306.7 1335.8,1298.7 1336.2,1294.6 1336.5,1292.6 1336.8,1290.4 1337.1,1288.7 1337.4,1287.3 1337.7,1282.2 1338,1283.5 1338.4,1282.2 1338.7,1279.6 1339.3,1274.3 1339.6,1273 1339.9,1271.2 1340.2,1270.3 1340.6,1269.1 1341.2,1265.6 1341.8,1266.2 1342.1,1263.8 1342.4,1264.8 1342.8,1260.8 1343.4,1260.3 1343.7,1256.9 1344,1259.1 1344.3,1255.6 1344.6,1256.8 1345,1257.6 1345.3,1255.7 1345.6,1252.8 1346.5,1253.1 1347.5,1252.8 1347.8,1254.1 1348.1,1255.5 1348.4,1258.7 1348.7,1257.4 1349.4,1256.6 1349.7,1255.1 1350.3,1253.1 1350.9,1250.7 1351.6,1252 1351.9,1250.6 1352.2,1252.5 1352.5,1250.3 1352.8,1251.2 1353.1,1252 1353.5,1250.7 1353.8,1247.9 1354.1,1250 1354.7,1249.3 1355,1245.2 1355.3,1249.4 1356,1251 1356.3,1252.8 1356.6,1248.8 1357.2,1248.1 1357.9,1246.7 1358.2,1245.9 1358.5,1246.8 1358.8,1248 1359.8,1249.4 1360.4,1250.9 1360.7,1248.5 1361,1251 1361.3,1249.6 1362.3,1250.1 1362.6,1248 1363.2,1246.4 1364.2,1247.4 1365.1,1245.6 1365.4,1247.8 1365.7,1249 1366,1250.3 1366.7,1253.3 1367,1251.1 1367.3,1248.3 1367.6,1250.7 1367.9,1247.9 1368.9,1245.2 1369.5,1244.6 1370.1,1245.3 1370.4,1246.5 1371.4,1256.7 1371.7,1268.7 1372,1281.6 1372.3,1291.7 1372.7,1297.4 1373,1306.1 1373.3,1311.8 1373.6,1318.9 1373.9,1323.5 1374.2,1326 1374.5,1327.4 1374.9,1334.2 1375.2,1339.7 1375.5,1344.7 1375.8,1348.9 1376.1,1351.7 1376.4,1354.4 1377.1,1356.6 1377.4,1359.2 1377.7,1361.3 1378,1363.1 1378.9,1365.8 1379.6,1368.1 1379.9,1370.7 1380.2,1371.8 1380.5,1374.7 1380.8,1371.5 1381.1,1372.5 1381.5,1375.2 1381.8,1376.7 1382.1,1379.2 1382.4,1381 1382.7,1382.7 1383,1385.1 1383.3,1387.5 1383.7,1385.9 1384,1386.9 1384.6,1388.1 1384.9,1389.7 1385.2,1391 1385.5,1387.4 1385.9,1386.6 1386.5,1387.5 1386.8,1389.2 1387.8,1392 1388.1,1394.3 1388.4,1393.5 1389,1395 1389.3,1397.3 1389.6,1400.1 1390,1401.5 1390.3,1402.4 1390.9,1400.7 1391.2,1400 1391.5,1398.7 1391.8,1399.6 1392.2,1397.1 1393.1,1397.3 1393.4,1399.6 1393.7,1397.7 1394,1396.5 1395,1398.9 1395.9,1395.8 1396.2,1398.1 1396.6,1399.5 1396.9,1401.1 1397.2,1402.6 1397.5,1404.7 1398.4,1401.6 1398.8,1398.9 1399.1,1397.6 1399.4,1400.3 1400,1399.1 1400.7,1400.7 1401,1399.3 1401.3,1400.4 1401.6,1401.7 1401.9,1399.1 1402.9,1397.4 1403.2,1398.9 1403.5,1402.5 1403.8,1400.6 1404.4,1401.6 1404.7,1402.5 1405.1,1399.6 1405.7,1401.9 1406,1404.8 1406.6,1406.9 1407.3,1405.4 1407.6,1403.1 1408.2,1383.3 1408.5,1358 1408.8,1332.8 1409.1,1311 1409.5,1296.3 1409.8,1278.8 1410.1,1266.4 1410.4,1252.9 1410.7,1246.5 1411,1241.3 1411.3,1232.7 1411.7,1225.5 1412,1223.4 1412.3,1217.8 1412.6,1213.2 1412.9,1210.1 1413.2,1208.9 1413.6,1207 1413.9,1205.6 1414.2,1203.7 1414.5,1201.8 1414.8,1197.8 1415.1,1198.6 1415.4,1193.2 1416.1,1191.2 1416.4,1192.3 1416.7,1189.9 1417,1190.8 1417.3,1185.7 1417.6,1184.7 1418,1182.3 1418.3,1181.3 1418.6,1182.2 1419.2,1179.5 1419.5,1177.7 1419.8,1180.3 1420.2,1178.5 1420.5,1180.3 1420.8,1176.7 1421.1,1175 1422,1175.2 1422.7,1174 1423.3,1172.4 1423.9,1170.4 1424.2,1173.7 1424.9,1172.4 1425.5,1169.4 1426.1,1171.5 1427.1,1169.8 1427.7,1171.1 1428,1173.4 1428.3,1169.4 1428.7,1170.4 1429,1167.9 1429.6,1168.8 1430.2,1171.4 1430.5,1172.3 1430.9,1171.1 1431.2,1172.2 1431.5,1173.1 1431.8,1174.2 1432.1,1170.5 1432.7,1172.8 1433.1,1173.9 1433.4,1172.7 1433.7,1171.6 1434,1169.4 1434.6,1167.2 1435.3,1166.6 1435.9,1165.5 1436.2,1166.9 1436.5,1164.6 1436.8,1163 1437.5,1161.6 1437.8,1163.2 1438.7,1164.1 1439.3,1165.2 1439.7,1166.3 1440,1165.3 1440.3,1164 1440.9,1165.5 1441.2,1164.6 1441.9,1163.8 1442.2,1165 1442.5,1167.4 1443.1,1165.3 1444.1,1165.1 1444.4,1162.3 1445,1161.3 1445.3,1162.8 1446.3,1162.3 1446.6,1159.5 1446.9,1160.3 1447.5,1175 1447.8,1195.7 1448.2,1212.2 1448.5,1225.2 1448.8,1238.8 1449.1,1248.3 1449.4,1256.7 1449.7,1265.9 1450,1274 1450.4,1281.6 1450.7,1286.1 1451,1291.9 1451.3,1299.2 1451.6,1307.1 1451.9,1314.3 1452.2,1321.8 1452.6,1324.9 1452.9,1329.7 1453.2,1330.7 1453.5,1333.8 1453.8,1336.5 1454.1,1339.2 1454.5,1341.5 1454.8,1343.5 1455.1,1346.8 1455.4,1349.7 1455.7,1352.5 1456.3,1357.6 1456.7,1362 1457,1367.6 1457.3,1366 1457.6,1366.8 1457.9,1365.5 1458.2,1364.7 1458.9,1367.4 1459.2,1371.1 1459.5,1373.2 1459.8,1374.5 1460.1,1376.4 1460.4,1377.3 1460.7,1378.7 1461.1,1377.1 1461.4,1379.3 1462,1381.2 1462.6,1382.5 1463.3,1383.2 1463.6,1386.3 1463.9,1387.3 1464.5,1384.2 1464.8,1387.1 1465.1,1389.2 1465.8,1391.7 1466.1,1390.1 1466.4,1393 1466.7,1395.5 1467,1393.1 1467.4,1393.8 1468,1396.1 1468.3,1394.3 1468.6,1395.6 1468.9,1398.3 1469.6,1400.6 1469.9,1399.4 1470.5,1397.2 1470.8,1399.4 1471.4,1400.3 1471.8,1402.8 1472.1,1404.3 1472.4,1403.2 1473,1401.4 1473.6,1399.3 1474.3,1398.5 1474.9,1397.4 1475.2,1399.6 1475.5,1398.2 1476.2,1399.2 1476.5,1398 1477.1,1402.6 1478,1401.8 1479,1403.7 1479.3,1405.6 1479.6,1406.4 1479.9,1408.5 1480.2,1406.1 1480.6,1404.5 1481.5,1402.7 1481.8,1404.3 1482.1,1402.8 1482.5,1401.7 1482.8,1402.6 1483.1,1401.7 1483.4,1402.6 1483.7,1404.6 1484,1402.7 1484.3,1404.4 1484.7,1407.5 1485.3,1408.4 1485.6,1407.4 1486.2,1406.1 1486.9,1405.3 1487.5,1403.6 1487.8,1405.7 1488.1,1406.7 1488.4,1408.2 1488.7,1407.2 1489.1,1405.1 1489.4,1402 1490,1404.4 1490.6,1405.2 1491.6,1404.4 1492.5,1403.3 1492.8,1401.8 1493.1,1400.9 1493.5,1403.5 1493.8,1402.5 1494.1,1401.5 1494.4,1398.8 1494.7,1400.1 1495.4,1396.6 1496,1398.2 1496.6,1400.4 1496.9,1399.6 1497.6,1398.2 1497.9,1399.6 1498.5,1397.3 1498.8,1399.4 1499.1,1397.6 1499.4,1401 1499.8,1402.2 1500.1,1404.9 1500.7,1407.9 1501,1409.6 1501.3,1412 1501.6,1410.9 1502.3,1410 1502.6,1411.7 1502.9,1412.9 1503.5,1411.3 1504.5,1410 1504.8,1407.5 1505.1,1405.7 1505.4,1404.6 1505.7,1406.4 1506,1405.6" fill="none" stroke="#000" stroke-width="1.5" stroke-linejoin="round"/>
<path d="M1145 1401.2h6.6v6.6h-6.6zM1145.3 1404.2h6.6v6.6h-6.6zM1146.3 1401.8h6.6v6.6h-6.6zM1146.9 1404.5h6.6v6.6h-6.6zM1147.9 1402.8h6.6v6.6h-6.6zM1148.5 1400.1h6.6v6.6h-6.6zM1149.1 1402.5h6.6v6.6h-6.6zM1149.4 1404.7h6.6v6.6h-6.6zM1150.4 1401.6h6.6v6.6h-6.6zM1151.6 1404h6.6v6.6h-6.6zM1152.6 1401.3h6.6v6.6h-6.6zM1152.9 1399.8h6.6v6.6h-6.6zM1153.5 1401.6h6.6v6.6h-6.6zM1154.2 1400.4h6.6v6.6h-6.6zM1154.8 1402.5h6.6v6.6h-6.6zM1155.1 1400.5h6.6v6.6h-6.6zM1156 1398.7h6.6v6.6h-6.6zM1156.4 1401.6h6.6v6.6h-6.6zM1156.7 1398.8h6.6v6.6h-6.6zM1157.6 1401.3h6.6v6.6h-6.6zM1157.9 1403.3h6.6v6.6h-6.6zM1158.2 1401.6h6.6v6.6h-6.6zM1158.6 1405.8h6.6v6.6h-6.6zM1158.9 1403.7h6.6v6.6h-6.6zM1160.1 1404.8h6.6v6.6h-6.6zM1160.8 1402.9h6.6v6.6h-6.6zM1161.7 1400.5h6.6v6.6h-6.6zM1162.6 1401.4h6.6v6.6h-6.6zM1163.6 1397.8h6.6v6.6h-6.6zM1164.2 1399.3h6.6v6.6h-6.6zM1165.2 1402.3h6.6v6.6h-6.6zM1165.5 1399.2h6.6v6.6h-6.6zM1165.8 1400.6h6.6v6.6h-6.6zM1166.4 1402.9h6.6v6.6h-6.6zM1167.1 1397.1h6.6v6.6h-6.6zM1167.4 1393h6.6v6.6h-6.6zM1168.3 1394.9h6.6v6.6h-6.6zM1168.6 1397.6h6.6v6.6h-6.6zM1169.6 1395.2h6.6v6.6h-6.6zM1169.9 1396.7h6.6v6.6h-6.6zM1170.2 1399.1h6.6v6.6h-6.6zM1170.5 1402.4h6.6v6.6h-6.6zM1170.8 1405.2h6.6v6.6h-6.6zM1171.1 1403.7h6.6v6.6h-6.6zM1171.5 1399.5h6.6v6.6h-6.6zM1171.8 1394.9h6.6v6.6h-6.6zM1172.1 1391.4h6.6v6.6h-6.6zM1172.4 1385.3h6.6v6.6h-6.6zM1172.7 1381h6.6v6.6h-6.6zM1173 1376.1h6.6v6.6h-6.6zM1173.3 1372.2h6.6v6.6h-6.6zM1173.7 1370h6.6v6.6h-6.6zM1174.3 1365.9h6.6v6.6h-6.6zM1174.6 1362.9h6.6v6.6h-6.6zM1174.9 1360h6.6v6.6h-6.6zM1175.2 1356.3h6.6v6.6h-6.6zM1175.5 1353.1h6.6v6.6h-6.6zM1176.2 1350.3h6.6v6.6h-6.6zM1176.5 1352.8h6.6v6.6h-6.6zM1176.8 1350.3h6.6v6.6h-6.6zM1177.4 1346.6h6.6v6.6h-6.6zM1177.7 1344.4h6.6v6.6h-6.6zM1178.7 1342.9h6.6v6.6h-6.6zM1179.6 1343.9h6.6v6.6h-6.6zM1179.9 1342.5h6.6v6.6h-6.6zM1180.9 1345h6.6v6.6h-6.6zM1181.2 1347.9h6.6v6.6h-6.6zM1181.5 1345.5h6.6v6.6h-6.6zM1182.8 1346.6h6.6v6.6h-6.6zM1183.1 1344.6h6.6v6.6h-6.6zM1183.4 1343h6.6v6.6h-6.6zM1183.7 1346.2h6.6v6.6h-6.6zM1184.4 1344.4h6.6v6.6h-6.6zM1185.3 1340.4h6.6v6.6h-6.6zM1185.9 1338h6.6v6.6h-6.6zM1186.2 1336.7h6.6v6.6h-6.6zM1186.6 1339.6h6.6v6.6h-6.6zM1186.9 1336.9h6.6v6.6h-6.6zM1188.1 1333.8h6.6v6.6h-6.6zM1188.4 1336h6.6v6.6h-6.6zM1188.8 1337.7h6.6v6.6h-6.6zM1189.4 1340.7h6.6v6.6h-6.6zM1189.7 1342.4h6.6v6.6h-6.6zM1190.3 1340.4h6.6v6.6h-6.6zM1191 1338.2h6.6v6.6h-6.6zM1191.3 1336.7h6.6v6.6h-6.6zM1191.9 1338.7h6.6v6.6h-6.6zM1192.5 1340h6.6v6.6h-6.6zM1192.8 1338.2h6.6v6.6h-6.6zM1193.5 1340.8h6.6v6.6h-6.6zM1194.4 1343.1h6.6v6.6h-6.6zM1194.7 1340.5h6.6v6.6h-6.6zM1195.1 1338.3h6.6v6.6h-6.6zM1195.4 1336.6h6.6v6.6h-6.6zM1196 1333.6h6.6v6.6h-6.6zM1196.3 1336.4h6.6v6.6h-6.6zM1197.3 1338.6h6.6v6.6h-6.6zM1197.6 1341.4h6.6v6.6h-6.6zM1197.9 1338.7h6.6v6.6h-6.6zM1198.2 1336h6.6v6.6h-6.6zM1199.1 1336.9h6.6v6.6h-6.6zM1199.5 1339h6.6v6.6h-6.6zM1200.1 1337.1h6.6v6.6h-6.6zM1200.4 1334.9h6.6v6.6h-6.6zM1202 1336.1h6.6v6.6h-6.6zM1202.6 1337.4h6.6v6.6h-6.6zM1202.9 1336.1h6.6v6.6h-6.6zM1203.9 1337.6h6.6v6.6h-6.6zM1204.2 1335.4h6.6v6.6h-6.6zM1204.8 1336.6h6.6v6.6h-6.6zM1205.1 1338.6h6.6v6.6h-6.6zM1206.7 1335.8h6.6v6.6h-6.6zM1207.3 1334.6h6.6v6.6h-6.6zM1207.6 1336.1h6.6v6.6h-6.6zM1208.6 1337.4h6.6v6.6h-6.6zM1209.2 1340.4h6.6v6.6h-6.6zM1210.5 1339h6.6v6.6h-6.6zM1210.8 1343.5h6.6v6.6h-6.6zM1211.1 1349.2h6.6v6.6h-6.6zM1211.4 1355.2h6.6v6.6h-6.6zM1211.7 1359.7h6.6v6.6h-6.6zM1212 1363h6.6v6.6h-6.6zM1212.4 1365.6h6.6v6.6h-6.6zM1212.7 1367.2h6.6v6.6h-6.6zM1213 1371.1h6.6v6.6h-6.6zM1213.3 1372.8h6.6v6.6h-6.6zM1213.6 1374.6h6.6v6.6h-6.6zM1214.6 1378h6.6v6.6h-6.6zM1215.2 1379.3h6.6v6.6h-6.6zM1215.5 1380.7h6.6v6.6h-6.6zM1216.4 1384.6h6.6v6.6h-6.6zM1217.4 1387.1h6.6v6.6h-6.6zM1218 1392h6.6v6.6h-6.6zM1218.3 1388.9h6.6v6.6h-6.6zM1218.6 1391.8h6.6v6.6h-6.6zM1219.3 1393.5h6.6v6.6h-6.6zM1219.6 1395.9h6.6v6.6h-6.6zM1220.5 1398.5h6.6v6.6h-6.6zM1220.9 1401.7h6.6v6.6h-6.6zM1221.2 1399.7h6.6v6.6h-6.6zM1221.5 1397.3h6.6v6.6h-6.6zM1222.4 1394.4h6.6v6.6h-6.6zM1223.1 1392.7h6.6v6.6h-6.6zM1223.7 1391.4h6.6v6.6h-6.6zM1224.9 1392h6.6v6.6h-6.6zM1225.3 1394.1h6.6v6.6h-6.6zM1225.6 1398h6.6v6.6h-6.6zM1225.9 1399.5h6.6v6.6h-6.6zM1226.5 1398h6.6v6.6h-6.6zM1227.1 1401.9h6.6v6.6h-6.6zM1227.5 1400.4h6.6v6.6h-6.6zM1227.8 1398.2h6.6v6.6h-6.6zM1229 1397.8h6.6v6.6h-6.6zM1229.3 1395.8h6.6v6.6h-6.6zM1229.7 1397.7h6.6v6.6h-6.6zM1230 1399.2h6.6v6.6h-6.6zM1230.3 1401.6h6.6v6.6h-6.6zM1230.9 1403h6.6v6.6h-6.6zM1231.9 1400.7h6.6v6.6h-6.6zM1232.2 1402.8h6.6v6.6h-6.6zM1233.1 1403.7h6.6v6.6h-6.6zM1234.1 1405.1h6.6v6.6h-6.6zM1234.4 1402h6.6v6.6h-6.6zM1235.3 1405.1h6.6v6.6h-6.6zM1235.6 1402.8h6.6v6.6h-6.6zM1236 1401.3h6.6v6.6h-6.6zM1236.3 1399.8h6.6v6.6h-6.6zM1236.9 1397.1h6.6v6.6h-6.6zM1237.2 1395.2h6.6v6.6h-6.6zM1237.5 1392.6h6.6v6.6h-6.6zM1238.5 1394.7h6.6v6.6h-6.6zM1239.1 1396.8h6.6v6.6h-6.6zM1240 1398.3h6.6v6.6h-6.6zM1241 1399.9h6.6v6.6h-6.6zM1241.3 1401.2h6.6v6.6h-6.6zM1242.2 1399.7h6.6v6.6h-6.6zM1242.6 1398.2h6.6v6.6h-6.6zM1242.9 1394.8h6.6v6.6h-6.6zM1243.2 1397.4h6.6v6.6h-6.6zM1243.8 1399.5h6.6v6.6h-6.6zM1244.4 1402.1h6.6v6.6h-6.6zM1245.1 1399.8h6.6v6.6h-6.6zM1245.4 1397.6h6.6v6.6h-6.6zM1246.6 1399.4h6.6v6.6h-6.6zM1247 1397.1h6.6v6.6h-6.6zM1247.3 1398.7h6.6v6.6h-6.6zM1247.6 1400h6.6v6.6h-6.6zM1248.2 1402.1h6.6v6.6h-6.6zM1249.2 1403.2h6.6v6.6h-6.6zM1249.8 1406.4h6.6v6.6h-6.6zM1250.1 1408.8h6.6v6.6h-6.6zM1250.4 1407.2h6.6v6.6h-6.6zM1250.7 1405.7h6.6v6.6h-6.6zM1251.4 1402.3h6.6v6.6h-6.6zM1251.7 1394.6h6.6v6.6h-6.6zM1252 1384.5h6.6v6.6h-6.6zM1252.3 1377.5h6.6v6.6h-6.6zM1252.6 1370.1h6.6v6.6h-6.6zM1252.9 1362.6h6.6v6.6h-6.6zM1253.3 1358.9h6.6v6.6h-6.6zM1253.6 1351.2h6.6v6.6h-6.6zM1253.9 1346.8h6.6v6.6h-6.6zM1254.2 1342.6h6.6v6.6h-6.6zM1254.5 1339.2h6.6v6.6h-6.6zM1254.8 1335.3h6.6v6.6h-6.6zM1255.5 1333.4h6.6v6.6h-6.6zM1255.8 1330h6.6v6.6h-6.6zM1256.1 1327.9h6.6v6.6h-6.6zM1256.4 1326.3h6.6v6.6h-6.6zM1256.7 1323.8h6.6v6.6h-6.6zM1257 1319.5h6.6v6.6h-6.6zM1257.7 1322.6h6.6v6.6h-6.6zM1258.6 1321h6.6v6.6h-6.6zM1259.2 1319.1h6.6v6.6h-6.6zM1259.5 1314.7h6.6v6.6h-6.6zM1260.2 1315.9h6.6v6.6h-6.6zM1260.8 1317.2h6.6v6.6h-6.6zM1261.4 1316h6.6v6.6h-6.6zM1261.8 1314.5h6.6v6.6h-6.6zM1262.1 1311.9h6.6v6.6h-6.6zM1262.4 1310h6.6v6.6h-6.6zM1263.3 1311h6.6v6.6h-6.6zM1264.3 1313.2h6.6v6.6h-6.6zM1264.6 1308.6h6.6v6.6h-6.6zM1264.9 1306.2h6.6v6.6h-6.6zM1265.5 1307.6h6.6v6.6h-6.6zM1266.8 1311.2h6.6v6.6h-6.6zM1267.4 1308.8h6.6v6.6h-6.6zM1267.7 1310.8h6.6v6.6h-6.6zM1268 1312.5h6.6v6.6h-6.6zM1269 1310.3h6.6v6.6h-6.6zM1269.3 1308.4h6.6v6.6h-6.6zM1269.6 1311h6.6v6.6h-6.6zM1269.9 1309.6h6.6v6.6h-6.6zM1270.2 1311.5h6.6v6.6h-6.6zM1270.9 1309h6.6v6.6h-6.6zM1271.5 1307.7h6.6v6.6h-6.6zM1272.1 1304.7h6.6v6.6h-6.6zM1272.8 1300.3h6.6v6.6h-6.6zM1273.4 1301.8h6.6v6.6h-6.6zM1274 1303.4h6.6v6.6h-6.6zM1274.3 1301.4h6.6v6.6h-6.6zM1274.6 1303.8h6.6v6.6h-6.6zM1275.3 1300.9h6.6v6.6h-6.6zM1275.9 1303.1h6.6v6.6h-6.6zM1276.2 1301.4h6.6v6.6h-6.6zM1276.9 1299.8h6.6v6.6h-6.6zM1277.2 1302.3h6.6v6.6h-6.6zM1278.7 1303.4h6.6v6.6h-6.6zM1279.7 1300.5h6.6v6.6h-6.6zM1280.3 1303h6.6v6.6h-6.6zM1280.6 1305.1h6.6v6.6h-6.6zM1281.9 1308.3h6.6v6.6h-6.6zM1282.2 1304.9h6.6v6.6h-6.6zM1282.8 1306.6h6.6v6.6h-6.6zM1283.8 1307.7h6.6v6.6h-6.6zM1284.1 1310.6h6.6v6.6h-6.6zM1284.7 1314.4h6.6v6.6h-6.6zM1285 1311.9h6.6v6.6h-6.6zM1286 1310.2h6.6v6.6h-6.6zM1286.3 1311.9h6.6v6.6h-6.6zM1286.9 1310.4h6.6v6.6h-6.6zM1287.2 1308.4h6.6v6.6h-6.6zM1287.9 1309.8h6.6v6.6h-6.6zM1288.8 1308.2h6.6v6.6h-6.6zM1289.4 1306h6.6v6.6h-6.6zM1290.4 1308.5h6.6v6.6h-6.6zM1290.7 1320.4h6.6v6.6h-6.6zM1291 1327.3h6.6v6.6h-6.6zM1291.3 1334.8h6.6v6.6h-6.6zM1291.6 1340.8h6.6v6.6h-6.6zM1292 1347.7h6.6v6.6h-6.6zM1292.6 1350.9h6.6v6.6h-6.6zM1292.9 1355.2h6.6v6.6h-6.6zM1293.2 1357.5h6.6v6.6h-6.6zM1293.5 1358.9h6.6v6.6h-6.6zM1294.2 1361.1h6.6v6.6h-6.6zM1294.8 1366.3h6.6v6.6h-6.6zM1295.1 1368.9h6.6v6.6h-6.6zM1295.4 1371.1h6.6v6.6h-6.6zM1295.7 1373.3h6.6v6.6h-6.6zM1296 1376.6h6.6v6.6h-6.6zM1296.7 1379.5h6.6v6.6h-6.6zM1297 1381.8h6.6v6.6h-6.6zM1297.9 1380h6.6v6.6h-6.6zM1298.2 1381.5h6.6v6.6h-6.6zM1298.6 1384.3h6.6v6.6h-6.6zM1298.9 1387.3h6.6v6.6h-6.6zM1299.8 1385.8h6.6v6.6h-6.6zM1300.4 1388.8h6.6v6.6h-6.6zM1301.1 1387h6.6v6.6h-6.6zM1302 1389.2h6.6v6.6h-6.6zM1303 1390.3h6.6v6.6h-6.6zM1303.3 1388.8h6.6v6.6h-6.6zM1303.6 1390.3h6.6v6.6h-6.6zM1304.9 1391.9h6.6v6.6h-6.6zM1305.5 1393.3h6.6v6.6h-6.6zM1306.7 1395.5h6.6v6.6h-6.6zM1307.4 1393.4h6.6v6.6h-6.6zM1307.7 1396.1h6.6v6.6h-6.6zM1308.3 1398h6.6v6.6h-6.6zM1308.6 1400.6h6.6v6.6h-6.6zM1309.3 1399h6.6v6.6h-6.6zM1310.5 1402.3h6.6v6.6h-6.6zM1311.1 1400.1h6.6v6.6h-6.6zM1311.5 1397.8h6.6v6.6h-6.6zM1311.8 1400h6.6v6.6h-6.6zM1312.1 1402.5h6.6v6.6h-6.6zM1313 1401.2h6.6v6.6h-6.6zM1314 1399.3h6.6v6.6h-6.6zM1314.9 1400.3h6.6v6.6h-6.6zM1315.6 1399.1h6.6v6.6h-6.6zM1316.8 1399.5h6.6v6.6h-6.6zM1317.8 1401.7h6.6v6.6h-6.6zM1318.1 1403h6.6v6.6h-6.6zM1319.6 1402h6.6v6.6h-6.6zM1320.9 1400.9h6.6v6.6h-6.6zM1321.2 1403.1h6.6v6.6h-6.6zM1321.8 1405.3h6.6v6.6h-6.6zM1322.5 1404h6.6v6.6h-6.6zM1322.8 1400.4h6.6v6.6h-6.6zM1323.4 1402.5h6.6v6.6h-6.6zM1323.7 1404.1h6.6v6.6h-6.6zM1324 1402.5h6.6v6.6h-6.6zM1324.4 1400.7h6.6v6.6h-6.6zM1324.7 1399.4h6.6v6.6h-6.6zM1325.6 1401.4h6.6v6.6h-6.6zM1326.9 1403.1h6.6v6.6h-6.6zM1327.2 1401h6.6v6.6h-6.6zM1327.5 1403.6h6.6v6.6h-6.6zM1327.8 1400.9h6.6v6.6h-6.6zM1328.1 1402.9h6.6v6.6h-6.6zM1328.4 1390.6h6.6v6.6h-6.6zM1328.8 1378.9h6.6v6.6h-6.6zM1329.1 1365.6h6.6v6.6h-6.6zM1329.4 1356.3h6.6v6.6h-6.6zM1329.7 1347h6.6v6.6h-6.6zM1330 1338h6.6v6.6h-6.6zM1330.3 1331.1h6.6v6.6h-6.6zM1330.7 1326.3h6.6v6.6h-6.6zM1331 1320.8h6.6v6.6h-6.6zM1331.3 1316.1h6.6v6.6h-6.6zM1331.6 1310h6.6v6.6h-6.6zM1332.2 1303.4h6.6v6.6h-6.6zM1332.5 1295.4h6.6v6.6h-6.6zM1332.9 1291.3h6.6v6.6h-6.6zM1333.2 1289.3h6.6v6.6h-6.6zM1333.5 1287.1h6.6v6.6h-6.6zM1333.8 1285.4h6.6v6.6h-6.6zM1334.1 1284h6.6v6.6h-6.6zM1334.4 1278.9h6.6v6.6h-6.6zM1334.7 1280.2h6.6v6.6h-6.6zM1335.1 1278.9h6.6v6.6h-6.6zM1335.4 1276.3h6.6v6.6h-6.6zM1336 1271h6.6v6.6h-6.6zM1336.6 1267.9h6.6v6.6h-6.6zM1337.3 1265.8h6.6v6.6h-6.6zM1337.9 1262.3h6.6v6.6h-6.6zM1338.8 1260.5h6.6v6.6h-6.6zM1339.5 1257.5h6.6v6.6h-6.6zM1340.4 1253.6h6.6v6.6h-6.6zM1340.7 1255.8h6.6v6.6h-6.6zM1341 1252.3h6.6v6.6h-6.6zM1341.7 1254.3h6.6v6.6h-6.6zM1342 1252.4h6.6v6.6h-6.6zM1342.3 1249.5h6.6v6.6h-6.6zM1343.6 1250h6.6v6.6h-6.6zM1344.8 1252.2h6.6v6.6h-6.6zM1345.1 1255.4h6.6v6.6h-6.6zM1345.4 1254.1h6.6v6.6h-6.6zM1346.4 1251.8h6.6v6.6h-6.6zM1347 1249.8h6.6v6.6h-6.6zM1347.6 1247.4h6.6v6.6h-6.6zM1348.3 1248.7h6.6v6.6h-6.6zM1348.6 1247.3h6.6v6.6h-6.6zM1348.9 1249.2h6.6v6.6h-6.6zM1349.2 1247h6.6v6.6h-6.6zM1349.8 1248.7h6.6v6.6h-6.6zM1350.2 1247.4h6.6v6.6h-6.6zM1350.5 1244.6h6.6v6.6h-6.6zM1350.8 1246.7h6.6v6.6h-6.6zM1351.7 1241.9h6.6v6.6h-6.6zM1352 1246.1h6.6v6.6h-6.6zM1352.7 1247.7h6.6v6.6h-6.6zM1353 1249.5h6.6v6.6h-6.6zM1353.3 1245.5h6.6v6.6h-6.6zM1354.6 1243.4h6.6v6.6h-6.6zM1355.5 1244.7h6.6v6.6h-6.6zM1356.5 1246.1h6.6v6.6h-6.6zM1357.1 1247.6h6.6v6.6h-6.6zM1357.4 1245.2h6.6v6.6h-6.6zM1357.7 1247.7h6.6v6.6h-6.6zM1358 1246.3h6.6v6.6h-6.6zM1359.3 1244.7h6.6v6.6h-6.6zM1359.9 1243.1h6.6v6.6h-6.6zM1360.9 1244.1h6.6v6.6h-6.6zM1361.8 1242.3h6.6v6.6h-6.6zM1362.1 1244.5h6.6v6.6h-6.6zM1362.7 1247h6.6v6.6h-6.6zM1363.4 1250h6.6v6.6h-6.6zM1363.7 1247.8h6.6v6.6h-6.6zM1364 1245h6.6v6.6h-6.6zM1364.3 1247.4h6.6v6.6h-6.6zM1364.6 1244.6h6.6v6.6h-6.6zM1365.6 1241.9h6.6v6.6h-6.6zM1367.1 1243.2h6.6v6.6h-6.6zM1368.1 1253.4h6.6v6.6h-6.6zM1368.4 1265.4h6.6v6.6h-6.6zM1368.7 1278.3h6.6v6.6h-6.6zM1369 1288.4h6.6v6.6h-6.6zM1369.4 1294.1h6.6v6.6h-6.6zM1369.7 1302.8h6.6v6.6h-6.6zM1370 1308.5h6.6v6.6h-6.6zM1370.3 1315.6h6.6v6.6h-6.6zM1370.6 1320.2h6.6v6.6h-6.6zM1370.9 1322.7h6.6v6.6h-6.6zM1371.2 1324.1h6.6v6.6h-6.6zM1371.6 1330.9h6.6v6.6h-6.6zM1371.9 1336.4h6.6v6.6h-6.6zM1372.2 1341.4h6.6v6.6h-6.6zM1372.5 1345.6h6.6v6.6h-6.6zM1372.8 1348.4h6.6v6.6h-6.6zM1373.1 1351.1h6.6v6.6h-6.6zM1373.8 1353.3h6.6v6.6h-6.6zM1374.1 1355.9h6.6v6.6h-6.6zM1374.4 1358h6.6v6.6h-6.6zM1374.7 1359.8h6.6v6.6h-6.6zM1375.6 1362.5h6.6v6.6h-6.6zM1376.3 1364.8h6.6v6.6h-6.6zM1376.6 1367.4h6.6v6.6h-6.6zM1377.2 1371.4h6.6v6.6h-6.6zM1377.5 1368.2h6.6v6.6h-6.6zM1378.2 1371.9h6.6v6.6h-6.6zM1378.5 1373.4h6.6v6.6h-6.6zM1378.8 1375.9h6.6v6.6h-6.6zM1379.1 1377.7h6.6v6.6h-6.6zM1379.4 1379.4h6.6v6.6h-6.6zM1379.7 1381.8h6.6v6.6h-6.6zM1380 1384.2h6.6v6.6h-6.6zM1380.4 1382.6h6.6v6.6h-6.6zM1381.3 1384.8h6.6v6.6h-6.6zM1381.6 1386.4h6.6v6.6h-6.6zM1381.9 1387.7h6.6v6.6h-6.6zM1382.2 1384.1h6.6v6.6h-6.6zM1383.5 1385.9h6.6v6.6h-6.6zM1384.5 1388.7h6.6v6.6h-6.6zM1384.8 1391h6.6v6.6h-6.6zM1386 1394h6.6v6.6h-6.6zM1386.3 1396.8h6.6v6.6h-6.6zM1386.7 1398.2h6.6v6.6h-6.6zM1387.9 1396.7h6.6v6.6h-6.6zM1388.2 1395.4h6.6v6.6h-6.6zM1388.9 1393.8h6.6v6.6h-6.6zM1390.1 1396.3h6.6v6.6h-6.6zM1390.4 1394.4h6.6v6.6h-6.6zM1390.7 1393.2h6.6v6.6h-6.6zM1391.7 1395.6h6.6v6.6h-6.6zM1392.6 1392.5h6.6v6.6h-6.6zM1392.9 1394.8h6.6v6.6h-6.6zM1393.3 1396.2h6.6v6.6h-6.6zM1393.6 1397.8h6.6v6.6h-6.6zM1393.9 1399.3h6.6v6.6h-6.6zM1394.2 1401.4h6.6v6.6h-6.6zM1395.1 1398.3h6.6v6.6h-6.6zM1395.5 1395.6h6.6v6.6h-6.6zM1395.8 1394.3h6.6v6.6h-6.6zM1396.1 1397h6.6v6.6h-6.6zM1397 1395.4h6.6v6.6h-6.6zM1397.4 1397.4h6.6v6.6h-6.6zM1397.7 1396h6.6v6.6h-6.6zM1398.3 1398.4h6.6v6.6h-6.6zM1398.6 1395.8h6.6v6.6h-6.6zM1399.6 1394.1h6.6v6.6h-6.6zM1399.9 1395.6h6.6v6.6h-6.6zM1400.2 1399.2h6.6v6.6h-6.6zM1400.5 1397.3h6.6v6.6h-6.6zM1401.4 1399.2h6.6v6.6h-6.6zM1401.8 1396.3h6.6v6.6h-6.6zM1402.4 1398.6h6.6v6.6h-6.6zM1402.7 1401.5h6.6v6.6h-6.6zM1403.3 1403.6h6.6v6.6h-6.6zM1404 1402.1h6.6v6.6h-6.6zM1404.3 1399.8h6.6v6.6h-6.6zM1404.9 1380h6.6v6.6h-6.6zM1405.2 1354.7h6.6v6.6h-6.6zM1405.5 1329.5h6.6v6.6h-6.6zM1405.8 1307.7h6.6v6.6h-6.6zM1406.2 1293h6.6v6.6h-6.6zM1406.5 1275.5h6.6v6.6h-6.6zM1406.8 1263.1h6.6v6.6h-6.6zM1407.1 1249.6h6.6v6.6h-6.6zM1407.4 1243.2h6.6v6.6h-6.6zM1407.7 1238h6.6v6.6h-6.6zM1408 1229.4h6.6v6.6h-6.6zM1408.4 1222.2h6.6v6.6h-6.6zM1408.7 1220.1h6.6v6.6h-6.6zM1409 1214.5h6.6v6.6h-6.6zM1409.3 1209.9h6.6v6.6h-6.6zM1409.6 1206.8h6.6v6.6h-6.6zM1410.3 1203.7h6.6v6.6h-6.6zM1410.6 1202.3h6.6v6.6h-6.6zM1410.9 1200.4h6.6v6.6h-6.6zM1411.2 1198.5h6.6v6.6h-6.6zM1411.5 1194.5h6.6v6.6h-6.6zM1412.1 1189.9h6.6v6.6h-6.6zM1412.8 1187.9h6.6v6.6h-6.6zM1413.4 1186.6h6.6v6.6h-6.6zM1414 1182.4h6.6v6.6h-6.6zM1414.7 1179h6.6v6.6h-6.6zM1415.9 1176.2h6.6v6.6h-6.6zM1416.2 1174.4h6.6v6.6h-6.6zM1416.5 1177h6.6v6.6h-6.6zM1416.9 1175.2h6.6v6.6h-6.6zM1417.2 1177h6.6v6.6h-6.6zM1417.5 1173.4h6.6v6.6h-6.6zM1417.8 1171.7h6.6v6.6h-6.6zM1419.4 1170.7h6.6v6.6h-6.6zM1420 1169.1h6.6v6.6h-6.6zM1420.6 1167.1h6.6v6.6h-6.6zM1420.9 1170.4h6.6v6.6h-6.6zM1421.6 1169.1h6.6v6.6h-6.6zM1422.2 1166.1h6.6v6.6h-6.6zM1422.8 1168.2h6.6v6.6h-6.6zM1423.8 1166.5h6.6v6.6h-6.6zM1424.4 1167.8h6.6v6.6h-6.6zM1424.7 1170.1h6.6v6.6h-6.6zM1425 1166.1h6.6v6.6h-6.6zM1425.7 1164.6h6.6v6.6h-6.6zM1426.9 1168.1h6.6v6.6h-6.6zM1428.2 1169.8h6.6v6.6h-6.6zM1428.8 1167.2h6.6v6.6h-6.6zM1429.4 1169.5h6.6v6.6h-6.6zM1430.4 1168.3h6.6v6.6h-6.6zM1430.7 1166.1h6.6v6.6h-6.6zM1431.3 1163.9h6.6v6.6h-6.6zM1432.3 1163h6.6v6.6h-6.6zM1433.2 1161.3h6.6v6.6h-6.6zM1433.5 1159.7h6.6v6.6h-6.6zM1434.2 1158.3h6.6v6.6h-6.6zM1434.5 1159.9h6.6v6.6h-6.6zM1435.4 1160.8h6.6v6.6h-6.6zM1436.4 1163h6.6v6.6h-6.6zM1437 1160.7h6.6v6.6h-6.6zM1437.6 1162.2h6.6v6.6h-6.6zM1438.3 1160.9h6.6v6.6h-6.6zM1439.2 1164.1h6.6v6.6h-6.6zM1439.8 1162h6.6v6.6h-6.6zM1441.1 1159h6.6v6.6h-6.6zM1442.3 1159.7h6.6v6.6h-6.6zM1443.3 1156.2h6.6v6.6h-6.6zM1444.2 1171.7h6.6v6.6h-6.6zM1444.5 1192.4h6.6v6.6h-6.6zM1444.9 1208.9h6.6v6.6h-6.6zM1445.2 1221.9h6.6v6.6h-6.6zM1445.5 1235.5h6.6v6.6h-6.6zM1445.8 1245h6.6v6.6h-6.6zM1446.1 1253.4h6.6v6.6h-6.6zM1446.4 1262.6h6.6v6.6h-6.6zM1446.7 1270.7h6.6v6.6h-6.6zM1447.1 1278.3h6.6v6.6h-6.6zM1447.4 1282.8h6.6v6.6h-6.6zM1447.7 1288.6h6.6v6.6h-6.6zM1448 1295.9h6.6v6.6h-6.6zM1448.3 1303.8h6.6v6.6h-6.6zM1448.6 1311h6.6v6.6h-6.6zM1448.9 1318.5h6.6v6.6h-6.6zM1449.3 1321.6h6.6v6.6h-6.6zM1449.6 1326.4h6.6v6.6h-6.6zM1450.2 1330.5h6.6v6.6h-6.6zM1450.5 1333.2h6.6v6.6h-6.6zM1450.8 1335.9h6.6v6.6h-6.6zM1451.2 1338.2h6.6v6.6h-6.6zM1451.5 1340.2h6.6v6.6h-6.6zM1451.8 1343.5h6.6v6.6h-6.6zM1452.1 1346.4h6.6v6.6h-6.6zM1452.4 1349.2h6.6v6.6h-6.6zM1453 1354.3h6.6v6.6h-6.6zM1453.4 1358.7h6.6v6.6h-6.6zM1453.7 1364.3h6.6v6.6h-6.6zM1454 1362.7h6.6v6.6h-6.6zM1454.9 1361.4h6.6v6.6h-6.6zM1455.6 1364.1h6.6v6.6h-6.6zM1455.9 1367.8h6.6v6.6h-6.6zM1456.2 1369.9h6.6v6.6h-6.6zM1456.8 1373.1h6.6v6.6h-6.6zM1457.4 1375.4h6.6v6.6h-6.6zM1457.8 1373.8h6.6v6.6h-6.6zM1458.1 1376h6.6v6.6h-6.6zM1458.7 1377.9h6.6v6.6h-6.6zM1459.3 1379.2h6.6v6.6h-6.6zM1460.3 1383h6.6v6.6h-6.6zM1460.9 1384.8h6.6v6.6h-6.6zM1461.2 1380.9h6.6v6.6h-6.6zM1461.5 1383.8h6.6v6.6h-6.6zM1461.8 1385.9h6.6v6.6h-6.6zM1462.5 1388.4h6.6v6.6h-6.6zM1462.8 1386.8h6.6v6.6h-6.6zM1463.1 1389.7h6.6v6.6h-6.6zM1463.4 1392.2h6.6v6.6h-6.6zM1463.7 1389.8h6.6v6.6h-6.6zM1464.4 1391.2h6.6v6.6h-6.6zM1464.7 1392.8h6.6v6.6h-6.6zM1465 1391h6.6v6.6h-6.6zM1465.3 1392.3h6.6v6.6h-6.6zM1465.6 1395h6.6v6.6h-6.6zM1466.3 1397.3h6.6v6.6h-6.6zM1467.2 1393.9h6.6v6.6h-6.6zM1467.5 1396.1h6.6v6.6h-6.6zM1468.5 1399.5h6.6v6.6h-6.6zM1468.8 1401h6.6v6.6h-6.6zM1469.7 1398.1h6.6v6.6h-6.6zM1470.3 1396h6.6v6.6h-6.6zM1471.6 1394.1h6.6v6.6h-6.6zM1471.9 1396.3h6.6v6.6h-6.6zM1472.2 1394.9h6.6v6.6h-6.6zM1473.5 1395.3h6.6v6.6h-6.6zM1473.8 1399.3h6.6v6.6h-6.6zM1475.4 1398.2h6.6v6.6h-6.6zM1475.7 1400.4h6.6v6.6h-6.6zM1476 1402.3h6.6v6.6h-6.6zM1476.6 1405.2h6.6v6.6h-6.6zM1476.9 1402.8h6.6v6.6h-6.6zM1477.3 1401.2h6.6v6.6h-6.6zM1478.2 1399.4h6.6v6.6h-6.6zM1478.5 1401h6.6v6.6h-6.6zM1478.8 1399.5h6.6v6.6h-6.6zM1479.8 1398.4h6.6v6.6h-6.6zM1480.4 1401.3h6.6v6.6h-6.6zM1480.7 1399.4h6.6v6.6h-6.6zM1481 1401.1h6.6v6.6h-6.6zM1481.4 1404.2h6.6v6.6h-6.6zM1482.6 1404.8h6.6v6.6h-6.6zM1482.9 1402.8h6.6v6.6h-6.6zM1484.2 1400.3h6.6v6.6h-6.6zM1484.5 1402.4h6.6v6.6h-6.6zM1485.1 1404.9h6.6v6.6h-6.6zM1485.8 1401.8h6.6v6.6h-6.6zM1486.1 1398.7h6.6v6.6h-6.6zM1486.7 1401.1h6.6v6.6h-6.6zM1488 1402h6.6v6.6h-6.6zM1489.2 1400h6.6v6.6h-6.6zM1489.5 1398.5h6.6v6.6h-6.6zM1490.2 1400.2h6.6v6.6h-6.6zM1490.8 1398.2h6.6v6.6h-6.6zM1491.1 1395.5h6.6v6.6h-6.6zM1491.7 1397h6.6v6.6h-6.6zM1492.1 1393.3h6.6v6.6h-6.6zM1492.7 1394.9h6.6v6.6h-6.6zM1493.3 1397.1h6.6v6.6h-6.6zM1494.3 1394.9h6.6v6.6h-6.6zM1494.6 1396.3h6.6v6.6h-6.6zM1495.2 1394h6.6v6.6h-6.6zM1495.5 1396.1h6.6v6.6h-6.6zM1495.8 1394.3h6.6v6.6h-6.6zM1496.1 1397.7h6.6v6.6h-6.6zM1496.8 1401.6h6.6v6.6h-6.6zM1497.4 1404.6h6.6v6.6h-6.6zM1497.7 1406.3h6.6v6.6h-6.6zM1498 1408.7h6.6v6.6h-6.6zM1498.7 1407.5h6.6v6.6h-6.6zM1499.6 1409.6h6.6v6.6h-6.6zM1500.2 1408h6.6v6.6h-6.6zM1501.2 1406.7h6.6v6.6h-6.6zM1501.5 1404.2h6.6v6.6h-6.6zM1501.8 1402.4h6.6v6.6h-6.6zM1502.7 1402.3h6.6v6.6h-6.6z" fill="#000"/>
<rect x="1109" y="1103" width="432.6" height="350.3" fill="none" stroke="#000" stroke-width="1.6"/>
<path d="M1109 1453.3h7M1109 1405.3h7M1109 1357.3h7M1109 1309.3h7M1109 1261.4h7M1109 1213.4h7M1109 1165.4h7M1109 1117.4h7M1109 1429.3h3.6M1109 1381.3h3.6M1109 1333.3h3.6M1109 1285.3h3.6M1109 1237.4h3.6M1109 1189.4h3.6M1109 1141.4h3.6M1148.3 1453.3v-7M1227 1453.3v-7M1305.6 1453.3v-7M1384.3 1453.3v-7M1462.9 1453.3v-7M1541.6 1453.3v-7M1187.7 1453.3v-3.6M1266.3 1453.3v-3.6M1345 1453.3v-3.6M1423.6 1453.3v-3.6M1502.3 1453.3v-3.6" stroke="#000" stroke-width="1.5" fill="none"/>
<text x="1101.4" y="1459.7" font-family="'Liberation Sans', Arial, sans-serif" font-size="22" font-weight="normal" fill="#000" text-anchor="end" >-1</text>
<text x="1101.4" y="1411.7" font-family="'Liberation Sans', Arial, sans-serif" font-size="22" font-weight="normal" fill="#000" text-anchor="end" >0</text>
<text x="1101.4" y="1363.7" font-family="'Liberation Sans', Arial, sans-serif" font-size="22" font-weight="normal" fill="#000" text-anchor="end" >1</text>
<text x="1101.4" y="1315.7" font-family="'Liberation Sans', Arial, sans-serif" font-size="22" font-weight="normal" fill="#000" text-anchor="end" >2</text>
<text x="1101.4" y="1267.7" font-family="'Liberation Sans', Arial, sans-serif" font-size="22" font-weight="normal" fill="#000" text-anchor="end" >3</text>
<text x="1101.4" y="1219.7" font-family="'Liberation Sans', Arial, sans-serif" font-size="22" font-weight="normal" fill="#000" text-anchor="end" >4</text>
<text x="1101.4" y="1171.8" font-family="'Liberation Sans', Arial, sans-serif" font-size="22" font-weight="normal" fill="#000" text-anchor="end" >5</text>
<text x="1101.4" y="1123.8" font-family="'Liberation Sans', Arial, sans-serif" font-size="22" font-weight="normal" fill="#000" text-anchor="end" >6</text>
<g clip-path="url(#xc1549)">
<text x="1148.3" y="1478.8" font-family="'Liberation Sans', Arial, sans-serif" font-size="23" font-weight="normal" fill="#000" text-anchor="middle" >0</text>
<text x="1227" y="1478.8" font-family="'Liberation Sans', Arial, sans-serif" font-size="23" font-weight="normal" fill="#000" text-anchor="middle" >10</text>
<text x="1305.6" y="1478.8" font-family="'Liberation Sans', Arial, sans-serif" font-size="23" font-weight="normal" fill="#000" text-anchor="middle" >20</text>
<text x="1384.3" y="1478.8" font-family="'Liberation Sans', Arial, sans-serif" font-size="23" font-weight="normal" fill="#000" text-anchor="middle" >30</text>
<text x="1462.9" y="1478.8" font-family="'Liberation Sans', Arial, sans-serif" font-size="23" font-weight="normal" fill="#000" text-anchor="middle" >40</text>
<text x="1541.6" y="1478.8" font-family="'Liberation Sans', Arial, sans-serif" font-size="23" font-weight="normal" fill="#000" text-anchor="middle" >50</text>
</g>
<text x="1120" y="1150.6" font-family="'Liberation Sans', Arial, sans-serif" font-size="38.5" font-weight="normal" fill="#000" text-anchor="start" ><tspan font-family="&apos;Liberation Serif&apos;, &apos;Times New Roman&apos;, serif">&#955;</tspan><tspan dx="2">=</tspan>1064 nm</text>
<text x="1360.4" y="1150.6" font-family="'Liberation Sans', Arial, sans-serif" font-size="38.5" font-weight="normal" fill="#000" text-anchor="start" >12.8 mW</text>
<text x="1302.7" y="1224.8" font-family="'Liberation Sans', Arial, sans-serif" font-size="38.5" font-weight="normal" fill="#000" text-anchor="start" >8 mW</text>
<text x="1192.9" y="1278.1" font-family="'Liberation Sans', Arial, sans-serif" font-size="38.5" font-weight="normal" fill="#000" text-anchor="start" >5.2 mW</text>
<text x="1117" y="1327.5" font-family="'Liberation Sans', Arial, sans-serif" font-size="38.5" font-weight="normal" fill="#000" text-anchor="start" >3.2 mW</text>
<text x="1325.3" y="1524" font-family="'Liberation Sans', Arial, sans-serif" font-size="39" font-weight="normal" fill="#000" text-anchor="middle" >Time (s)</text>
<text transform="translate(1067,1277.3) rotate(-90)" font-family="'Liberation Sans', Arial, sans-serif" font-size="39" text-anchor="middle">Photocurrent (<tspan font-family="&apos;Liberation Serif&apos;, &apos;Times New Roman&apos;, serif">&#956;</tspan>A)</text>
<text x="1035.5" y="1077" font-family="'Liberation Serif', 'Times New Roman', serif" font-size="48.5" font-weight="bold" fill="#000" text-anchor="start" >(j)</text>
<rect x="1665.1" y="1106.2" width="42.3" height="347.8" fill="#FF8000"/>
<rect x="1739.4" y="1106.2" width="40.7" height="347.8" fill="#FF8000"/>
<rect x="1819.5" y="1106.2" width="51.6" height="347.8" fill="#FF8000"/>
<rect x="1922.1" y="1106.2" width="47.9" height="347.8" fill="#FF8000"/>
<rect x="1819.5" y="1104.6" width="51.6" height="3" fill="#FF8000"/>
<polyline points="1658.9,1411.9 1660.1,1411.8 1661.4,1412.1 1662.6,1411.8 1663.8,1411.5 1665,1411.5 1665.6,1404.1 1666.3,1396.8 1666.9,1389.4 1667.5,1382.6 1668.1,1376.4 1668.7,1371.1 1669.3,1366.2 1669.9,1361.4 1670.5,1356.9 1671.2,1352.5 1671.8,1348.6 1672.4,1344.8 1673,1341.6 1673.6,1338.4 1674.2,1335.4 1674.8,1332.9 1675.4,1330 1676,1327.6 1676.7,1325.3 1677.3,1323.6 1677.9,1322 1678.5,1320.4 1679.1,1318.9 1679.7,1317.3 1680.3,1316 1680.9,1314.9 1681.6,1314 1682.2,1313 1682.8,1311.7 1683.4,1311 1684,1310.1 1684.6,1309.2 1685.8,1308.1 1686.5,1307.2 1687.7,1306.6 1688.3,1306 1689.5,1305.1 1690.7,1304.6 1691.4,1304 1692.6,1303 1693.2,1302.4 1694.4,1302 1695.6,1301.8 1696.9,1301.7 1698.1,1301.9 1699.3,1301.3 1700.5,1301.8 1701.8,1300.9 1703,1301 1704.2,1301.2 1705.4,1301.2 1706.7,1300.4 1707.9,1304 1708.5,1308.5 1709.1,1312.6 1709.7,1316.9 1710.3,1320.9 1710.9,1324.9 1711.6,1329.1 1712.2,1332.5 1712.8,1335.9 1713.4,1339.3 1714,1343.1 1714.6,1346.4 1715.2,1349.2 1715.8,1352.6 1716.4,1355.4 1717.1,1357.8 1717.7,1360.7 1718.3,1362.8 1718.9,1365.1 1719.5,1367.5 1720.1,1369.7 1720.7,1371.7 1721.3,1373.8 1722,1375.6 1722.6,1377.8 1723.2,1379.8 1723.8,1381.4 1724.4,1383.1 1725,1385.1 1725.6,1386.5 1726.2,1387.7 1726.9,1389.4 1727.5,1391.3 1728.1,1392.7 1728.7,1394.1 1729.3,1395.5 1729.9,1396.4 1730.5,1397.9 1731.1,1398.8 1731.8,1400.3 1732.4,1401.5 1733,1402.4 1733.6,1403.2 1734.2,1404 1734.8,1405 1735.4,1406 1736,1406.9 1736.6,1407.7 1737.3,1408.7 1737.9,1409.5 1738.5,1410.2 1739.1,1411.1 1739.7,1406.4 1740.3,1397 1740.9,1387.9 1741.5,1379.9 1742.2,1372.5 1742.8,1365.5 1743.4,1358.9 1744,1352.5 1744.6,1346.8 1745.2,1341.3 1745.8,1335.9 1746.4,1331.8 1747.1,1327.6 1747.7,1323.3 1748.3,1319.3 1748.9,1315.6 1749.5,1312.3 1750.1,1308.9 1750.7,1305.8 1751.3,1303.2 1752,1300 1752.6,1297.5 1753.2,1295.5 1753.8,1293.4 1754.4,1291.5 1755,1289.6 1755.6,1288.5 1756.2,1286.9 1756.8,1285.1 1757.5,1283.9 1758.1,1282.5 1758.7,1280.9 1759.3,1279.5 1759.9,1278.1 1760.5,1277.5 1761.1,1276.6 1761.7,1275.8 1762.4,1274.8 1763,1273.7 1764.2,1272.6 1765.4,1271.5 1766.6,1270.6 1767.3,1269.8 1768.5,1268.8 1769.1,1268.2 1770.3,1267.5 1770.9,1266.9 1772.2,1266.3 1772.8,1265.4 1774,1265.2 1775.2,1265 1776.4,1264.6 1777.7,1264.7 1778.9,1264.6 1780.1,1264.9 1780.7,1271.3 1781.3,1276.8 1781.9,1282.3 1782.6,1287.4 1783.2,1292.9 1783.8,1298 1784.4,1303.1 1785,1307.5 1785.6,1311.6 1786.2,1316.1 1786.8,1319.9 1787.5,1323.7 1788.1,1327.6 1788.7,1331.8 1789.3,1335 1789.9,1338.5 1790.5,1341.9 1791.1,1344.9 1791.7,1347.8 1792.4,1350.4 1793,1353.5 1793.6,1355.9 1794.2,1358.2 1794.8,1360.4 1795.4,1363 1796,1365.5 1796.6,1367.6 1797.3,1369.8 1797.9,1371.8 1798.5,1373.5 1799.1,1375.6 1799.7,1378 1800.3,1379.9 1800.9,1382 1801.5,1383.3 1802.1,1384.7 1802.8,1386.4 1803.4,1387.8 1804,1388.9 1804.6,1390.3 1805.2,1391.2 1805.8,1392.6 1806.4,1393.6 1807,1394.4 1807.7,1395.3 1808.3,1396.7 1808.9,1397.6 1809.5,1399.2 1810.1,1400.4 1810.7,1401.8 1811.3,1402.4 1811.9,1403.5 1812.6,1404.3 1813.2,1405.1 1813.8,1405.9 1814.4,1406.7 1815,1407.4 1816.2,1408.3 1816.8,1408.9 1818.1,1410.1 1818.7,1411.1 1819.3,1411.8 1819.9,1405 1820.5,1395.6 1821.1,1386.2 1821.7,1377 1822.3,1368.2 1823,1360 1823.6,1352 1824.2,1344.5 1824.8,1337.6 1825.4,1331.1 1826,1324.7 1826.6,1318.1 1827.2,1312.2 1827.9,1306.7 1828.5,1301.4 1829.1,1296.4 1829.7,1291.3 1830.3,1286.7 1830.9,1282 1831.5,1278.1 1832.1,1273.7 1832.8,1269.7 1833.4,1266.2 1834,1262.3 1834.6,1258.7 1835.2,1255.8 1835.8,1252.7 1836.4,1249.4 1837,1246.5 1837.7,1243.4 1838.3,1240.5 1838.9,1237.8 1839.5,1235.3 1840.1,1232.6 1840.7,1230.3 1841.3,1228.2 1841.9,1226.7 1842.6,1224.6 1843.2,1222.5 1843.8,1220.8 1844.4,1219.3 1845,1217.3 1845.6,1216.3 1846.2,1214.7 1846.8,1212.8 1847.4,1211.7 1848.1,1210.4 1848.7,1208.8 1849.3,1207.8 1849.9,1206.6 1850.5,1205.5 1851.1,1204.8 1851.7,1203.9 1852.3,1203 1853,1202 1853.6,1201.2 1854.2,1200.5 1855.4,1199.4 1856,1198.5 1856.6,1197.8 1857.9,1196.9 1858.5,1195.7 1859.1,1194.9 1859.7,1194.3 1860.9,1193.9 1861.5,1193.3 1862.1,1192.5 1863.4,1191.8 1864.6,1191.5 1865.2,1190.9 1866.4,1190.4 1867,1189.8 1867.6,1189.1 1868.9,1189.2 1870.1,1188.6 1871.3,1191.9 1871.9,1200.5 1872.5,1209 1873.2,1217.7 1873.8,1226.1 1874.4,1233.3 1875,1240.5 1875.6,1247.2 1876.2,1254 1876.8,1260.8 1877.4,1267.1 1878.1,1273.7 1878.7,1279.6 1879.3,1285.1 1879.9,1290.3 1880.5,1295.5 1881.1,1300.4 1881.7,1305 1882.3,1309.4 1883,1313.6 1883.6,1317.7 1884.2,1321.8 1884.8,1325.4 1885.4,1329.1 1886,1332.9 1886.6,1336.4 1887.2,1339.7 1887.8,1342.8 1888.5,1345.7 1889.1,1348.6 1889.7,1351.3 1890.3,1354 1890.9,1356.8 1891.5,1359.2 1892.1,1361.2 1892.7,1363.4 1893.4,1365.7 1894,1367.7 1894.6,1369.9 1895.2,1372.3 1895.8,1374 1896.4,1376 1897,1377.4 1897.6,1379.3 1898.3,1381.4 1898.9,1383 1899.5,1383.9 1900.1,1385.3 1900.7,1386.9 1901.3,1388.3 1901.9,1389.3 1902.5,1390.2 1903.2,1391.3 1903.8,1392 1904.4,1392.9 1905,1394 1905.6,1394.9 1906.2,1395.5 1906.8,1396.3 1907.4,1397.1 1908,1398.3 1908.7,1399.2 1909.3,1399.9 1909.9,1400.8 1910.5,1401.4 1911.1,1402 1911.7,1402.6 1912.3,1403.4 1913.6,1404 1914.2,1404.8 1914.8,1405.5 1916,1406.4 1917.2,1407.3 1917.8,1407.9 1918.5,1408.8 1919.7,1409.7 1920.9,1410.3 1922.1,1410.5 1922.7,1398.5 1923.4,1387.2 1924,1376.3 1924.6,1366 1925.2,1355.9 1925.8,1346.6 1926.4,1337.6 1927,1328.8 1927.6,1320.7 1928.3,1312.7 1928.9,1305.3 1929.5,1298 1930.1,1290.6 1930.7,1283.6 1931.3,1277.1 1931.9,1270.9 1932.5,1265.2 1933.1,1259 1933.8,1253.4 1934.4,1247.9 1935,1243.2 1935.6,1238.4 1936.2,1234.3 1936.8,1229.6 1937.4,1225.2 1938,1221.6 1938.7,1217.7 1939.3,1213.8 1939.9,1210.6 1940.5,1207.6 1941.1,1204.5 1941.7,1201.4 1942.3,1198.6 1942.9,1195.6 1943.6,1192.6 1944.2,1189.8 1944.8,1187 1945.4,1184.2 1946,1181.7 1946.6,1179.9 1947.2,1177.9 1947.8,1176.1 1948.5,1174.4 1949.1,1172.5 1949.7,1170.6 1950.3,1168.8 1950.9,1167.5 1951.5,1166.2 1952.1,1164.6 1952.7,1163.1 1953.3,1161.7 1954,1160.3 1954.6,1159.2 1955.2,1157.7 1955.8,1156.5 1956.4,1155.4 1957,1154.4 1957.6,1153.4 1958.9,1152.2 1959.5,1151.2 1960.1,1150.6 1960.7,1149.6 1961.3,1148.6 1961.9,1148.1 1962.5,1147.3 1963.1,1146.6 1963.8,1145.7 1964.4,1144.9 1965,1144.2 1966.2,1143.2 1966.8,1142.7 1967.4,1141.9 1968,1141.4 1969.3,1140.9 1970.5,1149.5 1971.1,1160.4 1971.7,1170.7 1972.3,1180.7 1972.9,1190.1 1973.5,1199 1974.2,1207.8 1974.8,1215.7 1975.4,1223.8 1976,1231.4 1976.6,1238.8 1977.2,1245.8 1977.8,1253.2 1978.4,1260 1979.1,1266.2 1979.7,1272.1 1980.3,1277.3 1980.9,1282.9 1981.5,1288.1 1982.1,1293.1 1982.7,1298 1983.3,1302.7 1984,1307.4 1984.6,1311.8 1985.2,1316.3 1985.8,1320.1 1986.4,1324.3 1987,1328 1987.6,1331.1 1988.2,1334.6 1988.9,1338 1989.5,1340.9 1990.1,1344 1990.7,1347.2 1991.3,1350 1991.9,1352.6 1992.5,1355 1993.1,1357.7 1993.7,1359.7 1994.4,1361.7 1995,1364 1995.6,1366.2 1996.2,1368.4 1996.8,1370.1 1997.4,1372.2 1998,1373.9 1998.6,1375.8 1999.3,1377.7 1999.9,1379.1 2000.5,1380.3 2001.1,1381.9 2001.7,1383.5 2002.3,1384.7 2002.9,1386.1 2003.5,1387.3 2004.2,1388.2 2004.8,1389.2 2005.4,1390.5 2006,1391.2 2006.6,1392.3 2007.2,1393.3 2007.8,1394.5 2008.4,1395.5 2009.1,1396.9 2010.3,1397.9 2010.9,1399 2011.5,1400.2 2012.1,1401.3 2013.3,1402.4 2014,1403 2014.6,1403.7 2015.2,1404.3 2015.8,1405.1 2017,1406.4 2018.2,1407.1 2019.5,1407.9 2020.1,1408.6 2021.3,1409.4 2022.5,1409.6 2023.1,1410" fill="none" stroke="#000" stroke-width="1.5" stroke-linejoin="round"/>
<path d="M1655.2 1408.2h7.4v7.4h-7.4zM1657 1408.2h7.4v7.4h-7.4zM1658.9 1408.1h7.4v7.4h-7.4zM1660.7 1407.8h7.4v7.4h-7.4zM1661.9 1400.4h7.4v7.4h-7.4zM1662.6 1393.1h7.4v7.4h-7.4zM1663.2 1385.7h7.4v7.4h-7.4zM1663.8 1378.9h7.4v7.4h-7.4zM1664.4 1372.7h7.4v7.4h-7.4zM1665 1367.4h7.4v7.4h-7.4zM1665.6 1362.5h7.4v7.4h-7.4zM1666.2 1357.7h7.4v7.4h-7.4zM1666.8 1353.2h7.4v7.4h-7.4zM1667.5 1348.8h7.4v7.4h-7.4zM1668.1 1344.9h7.4v7.4h-7.4zM1668.7 1341.1h7.4v7.4h-7.4zM1669.3 1337.9h7.4v7.4h-7.4zM1669.9 1334.7h7.4v7.4h-7.4zM1670.5 1331.7h7.4v7.4h-7.4zM1671.1 1329.2h7.4v7.4h-7.4zM1671.7 1326.3h7.4v7.4h-7.4zM1672.3 1323.9h7.4v7.4h-7.4zM1673 1321.6h7.4v7.4h-7.4zM1673.6 1319.9h7.4v7.4h-7.4zM1674.2 1318.3h7.4v7.4h-7.4zM1674.8 1316.7h7.4v7.4h-7.4zM1675.4 1315.2h7.4v7.4h-7.4zM1676 1313.6h7.4v7.4h-7.4zM1676.6 1312.3h7.4v7.4h-7.4zM1677.9 1310.3h7.4v7.4h-7.4zM1679.1 1308h7.4v7.4h-7.4zM1680.3 1306.4h7.4v7.4h-7.4zM1681.5 1305.1h7.4v7.4h-7.4zM1682.8 1303.5h7.4v7.4h-7.4zM1684 1302.9h7.4v7.4h-7.4zM1685.2 1302h7.4v7.4h-7.4zM1686.4 1301h7.4v7.4h-7.4zM1687.7 1300.3h7.4v7.4h-7.4zM1688.9 1299.3h7.4v7.4h-7.4zM1690.1 1298.5h7.4v7.4h-7.4zM1691.9 1298.1h7.4v7.4h-7.4zM1693.8 1298.2h7.4v7.4h-7.4zM1695.6 1297.6h7.4v7.4h-7.4zM1696.8 1298.1h7.4v7.4h-7.4zM1698.1 1297.2h7.4v7.4h-7.4zM1699.9 1297.8h7.4v7.4h-7.4zM1701.7 1297.5h7.4v7.4h-7.4zM1703 1296.7h7.4v7.4h-7.4zM1704.2 1300.3h7.4v7.4h-7.4zM1704.8 1304.8h7.4v7.4h-7.4zM1705.4 1308.9h7.4v7.4h-7.4zM1706 1313.2h7.4v7.4h-7.4zM1706.6 1317.2h7.4v7.4h-7.4zM1707.2 1321.2h7.4v7.4h-7.4zM1707.9 1325.4h7.4v7.4h-7.4zM1708.5 1328.8h7.4v7.4h-7.4zM1709.1 1332.2h7.4v7.4h-7.4zM1709.7 1335.6h7.4v7.4h-7.4zM1710.3 1339.4h7.4v7.4h-7.4zM1710.9 1342.7h7.4v7.4h-7.4zM1711.5 1345.5h7.4v7.4h-7.4zM1712.1 1348.9h7.4v7.4h-7.4zM1712.7 1351.7h7.4v7.4h-7.4zM1713.4 1354.1h7.4v7.4h-7.4zM1714 1357h7.4v7.4h-7.4zM1714.6 1359.1h7.4v7.4h-7.4zM1715.2 1361.4h7.4v7.4h-7.4zM1715.8 1363.8h7.4v7.4h-7.4zM1716.4 1366h7.4v7.4h-7.4zM1717 1368h7.4v7.4h-7.4zM1717.6 1370.1h7.4v7.4h-7.4zM1718.3 1371.9h7.4v7.4h-7.4zM1718.9 1374.1h7.4v7.4h-7.4zM1719.5 1376.1h7.4v7.4h-7.4zM1720.1 1377.7h7.4v7.4h-7.4zM1720.7 1379.4h7.4v7.4h-7.4zM1721.3 1381.4h7.4v7.4h-7.4zM1721.9 1382.8h7.4v7.4h-7.4zM1722.5 1384h7.4v7.4h-7.4zM1723.2 1385.7h7.4v7.4h-7.4zM1723.8 1387.6h7.4v7.4h-7.4zM1724.4 1389h7.4v7.4h-7.4zM1725 1390.4h7.4v7.4h-7.4zM1725.6 1391.8h7.4v7.4h-7.4zM1726.8 1394.2h7.4v7.4h-7.4zM1728.1 1396.6h7.4v7.4h-7.4zM1728.7 1397.8h7.4v7.4h-7.4zM1729.9 1399.5h7.4v7.4h-7.4zM1731.1 1401.3h7.4v7.4h-7.4zM1732.3 1403.2h7.4v7.4h-7.4zM1733.6 1405h7.4v7.4h-7.4zM1734.8 1406.5h7.4v7.4h-7.4zM1736 1402.7h7.4v7.4h-7.4zM1736.6 1393.3h7.4v7.4h-7.4zM1737.2 1384.2h7.4v7.4h-7.4zM1737.8 1376.2h7.4v7.4h-7.4zM1738.5 1368.8h7.4v7.4h-7.4zM1739.1 1361.8h7.4v7.4h-7.4zM1739.7 1355.2h7.4v7.4h-7.4zM1740.3 1348.8h7.4v7.4h-7.4zM1740.9 1343.1h7.4v7.4h-7.4zM1741.5 1337.6h7.4v7.4h-7.4zM1742.1 1332.2h7.4v7.4h-7.4zM1742.7 1328.1h7.4v7.4h-7.4zM1743.4 1323.9h7.4v7.4h-7.4zM1744 1319.6h7.4v7.4h-7.4zM1744.6 1315.6h7.4v7.4h-7.4zM1745.2 1311.9h7.4v7.4h-7.4zM1745.8 1308.6h7.4v7.4h-7.4zM1746.4 1305.2h7.4v7.4h-7.4zM1747 1302.1h7.4v7.4h-7.4zM1747.6 1299.5h7.4v7.4h-7.4zM1748.3 1296.3h7.4v7.4h-7.4zM1748.9 1293.8h7.4v7.4h-7.4zM1749.5 1291.8h7.4v7.4h-7.4zM1750.1 1289.7h7.4v7.4h-7.4zM1750.7 1287.8h7.4v7.4h-7.4zM1751.3 1285.9h7.4v7.4h-7.4zM1752.5 1283.2h7.4v7.4h-7.4zM1753.1 1281.4h7.4v7.4h-7.4zM1753.8 1280.2h7.4v7.4h-7.4zM1754.4 1278.8h7.4v7.4h-7.4zM1755 1277.2h7.4v7.4h-7.4zM1755.6 1275.8h7.4v7.4h-7.4zM1756.2 1274.4h7.4v7.4h-7.4zM1757.4 1272.9h7.4v7.4h-7.4zM1758.7 1271.1h7.4v7.4h-7.4zM1759.9 1269.9h7.4v7.4h-7.4zM1761.1 1268.6h7.4v7.4h-7.4zM1762.3 1267.5h7.4v7.4h-7.4zM1763.6 1266.1h7.4v7.4h-7.4zM1764.8 1265.1h7.4v7.4h-7.4zM1766 1264.2h7.4v7.4h-7.4zM1767.2 1263.2h7.4v7.4h-7.4zM1768.5 1262.6h7.4v7.4h-7.4zM1769.7 1261.9h7.4v7.4h-7.4zM1771.5 1261.3h7.4v7.4h-7.4zM1773.4 1260.7h7.4v7.4h-7.4zM1774.6 1261.2h7.4v7.4h-7.4zM1776.4 1261.2h7.4v7.4h-7.4zM1777 1267.6h7.4v7.4h-7.4zM1777.6 1273.1h7.4v7.4h-7.4zM1778.2 1278.6h7.4v7.4h-7.4zM1778.9 1283.7h7.4v7.4h-7.4zM1779.5 1289.2h7.4v7.4h-7.4zM1780.1 1294.3h7.4v7.4h-7.4zM1780.7 1299.4h7.4v7.4h-7.4zM1781.3 1303.8h7.4v7.4h-7.4zM1781.9 1307.9h7.4v7.4h-7.4zM1782.5 1312.4h7.4v7.4h-7.4zM1783.1 1316.2h7.4v7.4h-7.4zM1783.8 1320h7.4v7.4h-7.4zM1784.4 1323.9h7.4v7.4h-7.4zM1785 1328.1h7.4v7.4h-7.4zM1785.6 1331.3h7.4v7.4h-7.4zM1786.2 1334.8h7.4v7.4h-7.4zM1786.8 1338.2h7.4v7.4h-7.4zM1787.4 1341.2h7.4v7.4h-7.4zM1788 1344.1h7.4v7.4h-7.4zM1788.7 1346.7h7.4v7.4h-7.4zM1789.3 1349.8h7.4v7.4h-7.4zM1789.9 1352.2h7.4v7.4h-7.4zM1790.5 1354.5h7.4v7.4h-7.4zM1791.1 1356.7h7.4v7.4h-7.4zM1791.7 1359.3h7.4v7.4h-7.4zM1792.3 1361.8h7.4v7.4h-7.4zM1792.9 1363.9h7.4v7.4h-7.4zM1793.6 1366.1h7.4v7.4h-7.4zM1794.2 1368.1h7.4v7.4h-7.4zM1794.8 1369.8h7.4v7.4h-7.4zM1795.4 1371.9h7.4v7.4h-7.4zM1796 1374.3h7.4v7.4h-7.4zM1796.6 1376.2h7.4v7.4h-7.4zM1797.2 1378.3h7.4v7.4h-7.4zM1797.8 1379.6h7.4v7.4h-7.4zM1798.4 1381h7.4v7.4h-7.4zM1799.1 1382.7h7.4v7.4h-7.4zM1799.7 1384.1h7.4v7.4h-7.4zM1800.3 1385.2h7.4v7.4h-7.4zM1800.9 1386.6h7.4v7.4h-7.4zM1802.1 1388.9h7.4v7.4h-7.4zM1803.3 1390.7h7.4v7.4h-7.4zM1804.6 1393h7.4v7.4h-7.4zM1805.8 1395.5h7.4v7.4h-7.4zM1806.4 1396.7h7.4v7.4h-7.4zM1807 1398.1h7.4v7.4h-7.4zM1808.2 1399.8h7.4v7.4h-7.4zM1809.5 1401.4h7.4v7.4h-7.4zM1810.7 1403h7.4v7.4h-7.4zM1811.9 1403.9h7.4v7.4h-7.4zM1813.1 1405.2h7.4v7.4h-7.4zM1814.4 1406.4h7.4v7.4h-7.4zM1815.6 1408.1h7.4v7.4h-7.4zM1816.2 1401.3h7.4v7.4h-7.4zM1816.8 1391.9h7.4v7.4h-7.4zM1817.4 1382.5h7.4v7.4h-7.4zM1818 1373.3h7.4v7.4h-7.4zM1818.6 1364.5h7.4v7.4h-7.4zM1819.3 1356.3h7.4v7.4h-7.4zM1819.9 1348.3h7.4v7.4h-7.4zM1820.5 1340.8h7.4v7.4h-7.4zM1821.1 1333.9h7.4v7.4h-7.4zM1821.7 1327.4h7.4v7.4h-7.4zM1822.3 1321h7.4v7.4h-7.4zM1822.9 1314.4h7.4v7.4h-7.4zM1823.5 1308.5h7.4v7.4h-7.4zM1824.2 1303h7.4v7.4h-7.4zM1824.8 1297.7h7.4v7.4h-7.4zM1825.4 1292.7h7.4v7.4h-7.4zM1826 1287.6h7.4v7.4h-7.4zM1826.6 1283h7.4v7.4h-7.4zM1827.2 1278.3h7.4v7.4h-7.4zM1827.8 1274.4h7.4v7.4h-7.4zM1828.4 1270h7.4v7.4h-7.4zM1829.1 1266h7.4v7.4h-7.4zM1829.7 1262.5h7.4v7.4h-7.4zM1830.3 1258.6h7.4v7.4h-7.4zM1830.9 1255h7.4v7.4h-7.4zM1831.5 1252.1h7.4v7.4h-7.4zM1832.1 1249h7.4v7.4h-7.4zM1832.7 1245.7h7.4v7.4h-7.4zM1833.3 1242.8h7.4v7.4h-7.4zM1834 1239.7h7.4v7.4h-7.4zM1834.6 1236.8h7.4v7.4h-7.4zM1835.2 1234.1h7.4v7.4h-7.4zM1835.8 1231.6h7.4v7.4h-7.4zM1836.4 1228.9h7.4v7.4h-7.4zM1837 1226.6h7.4v7.4h-7.4zM1837.6 1224.5h7.4v7.4h-7.4zM1838.2 1223h7.4v7.4h-7.4zM1838.9 1220.9h7.4v7.4h-7.4zM1839.5 1218.8h7.4v7.4h-7.4zM1840.1 1217.1h7.4v7.4h-7.4zM1840.7 1215.6h7.4v7.4h-7.4zM1841.3 1213.6h7.4v7.4h-7.4zM1842.5 1211h7.4v7.4h-7.4zM1843.1 1209.1h7.4v7.4h-7.4zM1844.4 1206.7h7.4v7.4h-7.4zM1845 1205.1h7.4v7.4h-7.4zM1846.2 1202.9h7.4v7.4h-7.4zM1846.8 1201.8h7.4v7.4h-7.4zM1848 1200.2h7.4v7.4h-7.4zM1849.3 1198.3h7.4v7.4h-7.4zM1850.5 1196.8h7.4v7.4h-7.4zM1851.7 1195.7h7.4v7.4h-7.4zM1852.9 1194.1h7.4v7.4h-7.4zM1854.2 1193.2h7.4v7.4h-7.4zM1854.8 1192h7.4v7.4h-7.4zM1856 1190.6h7.4v7.4h-7.4zM1857.2 1190.2h7.4v7.4h-7.4zM1858.4 1188.8h7.4v7.4h-7.4zM1859.7 1188.1h7.4v7.4h-7.4zM1861.5 1187.2h7.4v7.4h-7.4zM1862.7 1186.7h7.4v7.4h-7.4zM1863.9 1185.4h7.4v7.4h-7.4zM1865.8 1185.2h7.4v7.4h-7.4zM1867.6 1188.2h7.4v7.4h-7.4zM1868.2 1196.8h7.4v7.4h-7.4zM1868.8 1205.3h7.4v7.4h-7.4zM1869.5 1214h7.4v7.4h-7.4zM1870.1 1222.4h7.4v7.4h-7.4zM1870.7 1229.6h7.4v7.4h-7.4zM1871.3 1236.8h7.4v7.4h-7.4zM1871.9 1243.5h7.4v7.4h-7.4zM1872.5 1250.3h7.4v7.4h-7.4zM1873.1 1257.1h7.4v7.4h-7.4zM1873.7 1263.4h7.4v7.4h-7.4zM1874.4 1270h7.4v7.4h-7.4zM1875 1275.9h7.4v7.4h-7.4zM1875.6 1281.4h7.4v7.4h-7.4zM1876.2 1286.6h7.4v7.4h-7.4zM1876.8 1291.8h7.4v7.4h-7.4zM1877.4 1296.7h7.4v7.4h-7.4zM1878 1301.3h7.4v7.4h-7.4zM1878.6 1305.7h7.4v7.4h-7.4zM1879.3 1309.9h7.4v7.4h-7.4zM1879.9 1314h7.4v7.4h-7.4zM1880.5 1318.1h7.4v7.4h-7.4zM1881.1 1321.7h7.4v7.4h-7.4zM1881.7 1325.4h7.4v7.4h-7.4zM1882.3 1329.2h7.4v7.4h-7.4zM1882.9 1332.7h7.4v7.4h-7.4zM1883.5 1336h7.4v7.4h-7.4zM1884.1 1339.1h7.4v7.4h-7.4zM1884.8 1342h7.4v7.4h-7.4zM1885.4 1344.9h7.4v7.4h-7.4zM1886 1347.6h7.4v7.4h-7.4zM1886.6 1350.3h7.4v7.4h-7.4zM1887.2 1353.1h7.4v7.4h-7.4zM1887.8 1355.5h7.4v7.4h-7.4zM1888.4 1357.5h7.4v7.4h-7.4zM1889 1359.7h7.4v7.4h-7.4zM1889.7 1362h7.4v7.4h-7.4zM1890.3 1364h7.4v7.4h-7.4zM1890.9 1366.2h7.4v7.4h-7.4zM1891.5 1368.6h7.4v7.4h-7.4zM1892.1 1370.3h7.4v7.4h-7.4zM1892.7 1372.3h7.4v7.4h-7.4zM1893.3 1373.7h7.4v7.4h-7.4zM1893.9 1375.6h7.4v7.4h-7.4zM1894.6 1377.7h7.4v7.4h-7.4zM1895.2 1379.3h7.4v7.4h-7.4zM1896.4 1381.6h7.4v7.4h-7.4zM1897 1383.2h7.4v7.4h-7.4zM1897.6 1384.6h7.4v7.4h-7.4zM1898.8 1386.5h7.4v7.4h-7.4zM1900.1 1388.3h7.4v7.4h-7.4zM1901.3 1390.3h7.4v7.4h-7.4zM1902.5 1391.8h7.4v7.4h-7.4zM1903.7 1393.4h7.4v7.4h-7.4zM1904.3 1394.6h7.4v7.4h-7.4zM1905.6 1396.2h7.4v7.4h-7.4zM1906.8 1397.7h7.4v7.4h-7.4zM1908 1398.9h7.4v7.4h-7.4zM1909.2 1399.8h7.4v7.4h-7.4zM1910.5 1401.1h7.4v7.4h-7.4zM1911.7 1401.9h7.4v7.4h-7.4zM1912.9 1403.2h7.4v7.4h-7.4zM1914.1 1404.2h7.4v7.4h-7.4zM1915.4 1405.6h7.4v7.4h-7.4zM1916.6 1406.3h7.4v7.4h-7.4zM1917.8 1407.1h7.4v7.4h-7.4zM1919 1394.8h7.4v7.4h-7.4zM1919.7 1383.5h7.4v7.4h-7.4zM1920.3 1372.6h7.4v7.4h-7.4zM1920.9 1362.3h7.4v7.4h-7.4zM1921.5 1352.2h7.4v7.4h-7.4zM1922.1 1342.9h7.4v7.4h-7.4zM1922.7 1333.9h7.4v7.4h-7.4zM1923.3 1325.1h7.4v7.4h-7.4zM1923.9 1317h7.4v7.4h-7.4zM1924.6 1309h7.4v7.4h-7.4zM1925.2 1301.6h7.4v7.4h-7.4zM1925.8 1294.3h7.4v7.4h-7.4zM1926.4 1286.9h7.4v7.4h-7.4zM1927 1279.9h7.4v7.4h-7.4zM1927.6 1273.4h7.4v7.4h-7.4zM1928.2 1267.2h7.4v7.4h-7.4zM1928.8 1261.5h7.4v7.4h-7.4zM1929.4 1255.3h7.4v7.4h-7.4zM1930.1 1249.7h7.4v7.4h-7.4zM1930.7 1244.2h7.4v7.4h-7.4zM1931.3 1239.5h7.4v7.4h-7.4zM1931.9 1234.7h7.4v7.4h-7.4zM1932.5 1230.6h7.4v7.4h-7.4zM1933.1 1225.9h7.4v7.4h-7.4zM1933.7 1221.5h7.4v7.4h-7.4zM1934.3 1217.9h7.4v7.4h-7.4zM1935 1214h7.4v7.4h-7.4zM1935.6 1210.1h7.4v7.4h-7.4zM1936.2 1206.9h7.4v7.4h-7.4zM1936.8 1203.9h7.4v7.4h-7.4zM1937.4 1200.8h7.4v7.4h-7.4zM1938 1197.7h7.4v7.4h-7.4zM1938.6 1194.9h7.4v7.4h-7.4zM1939.2 1191.9h7.4v7.4h-7.4zM1939.9 1188.9h7.4v7.4h-7.4zM1940.5 1186.1h7.4v7.4h-7.4zM1941.1 1183.3h7.4v7.4h-7.4zM1941.7 1180.5h7.4v7.4h-7.4zM1942.3 1178h7.4v7.4h-7.4zM1942.9 1176.2h7.4v7.4h-7.4zM1943.5 1174.2h7.4v7.4h-7.4zM1944.1 1172.4h7.4v7.4h-7.4zM1944.8 1170.7h7.4v7.4h-7.4zM1945.4 1168.8h7.4v7.4h-7.4zM1946 1166.9h7.4v7.4h-7.4zM1946.6 1165.1h7.4v7.4h-7.4zM1947.2 1163.8h7.4v7.4h-7.4zM1947.8 1162.5h7.4v7.4h-7.4zM1948.4 1160.9h7.4v7.4h-7.4zM1949 1159.4h7.4v7.4h-7.4zM1949.6 1158h7.4v7.4h-7.4zM1950.3 1156.6h7.4v7.4h-7.4zM1951.5 1154h7.4v7.4h-7.4zM1952.1 1152.8h7.4v7.4h-7.4zM1953.3 1150.7h7.4v7.4h-7.4zM1954.5 1149.4h7.4v7.4h-7.4zM1955.8 1147.5h7.4v7.4h-7.4zM1957 1145.9h7.4v7.4h-7.4zM1958.2 1144.4h7.4v7.4h-7.4zM1959.4 1142.9h7.4v7.4h-7.4zM1960.7 1141.2h7.4v7.4h-7.4zM1961.9 1140.1h7.4v7.4h-7.4zM1963.1 1139h7.4v7.4h-7.4zM1964.3 1137.7h7.4v7.4h-7.4zM1965.6 1137.2h7.4v7.4h-7.4zM1966.8 1145.8h7.4v7.4h-7.4zM1967.4 1156.7h7.4v7.4h-7.4zM1968 1167h7.4v7.4h-7.4zM1968.6 1177h7.4v7.4h-7.4zM1969.2 1186.4h7.4v7.4h-7.4zM1969.8 1195.3h7.4v7.4h-7.4zM1970.5 1204.1h7.4v7.4h-7.4zM1971.1 1212h7.4v7.4h-7.4zM1971.7 1220.1h7.4v7.4h-7.4zM1972.3 1227.7h7.4v7.4h-7.4zM1972.9 1235.1h7.4v7.4h-7.4zM1973.5 1242.1h7.4v7.4h-7.4zM1974.1 1249.5h7.4v7.4h-7.4zM1974.7 1256.3h7.4v7.4h-7.4zM1975.4 1262.5h7.4v7.4h-7.4zM1976 1268.4h7.4v7.4h-7.4zM1976.6 1273.6h7.4v7.4h-7.4zM1977.2 1279.2h7.4v7.4h-7.4zM1977.8 1284.4h7.4v7.4h-7.4zM1978.4 1289.4h7.4v7.4h-7.4zM1979 1294.3h7.4v7.4h-7.4zM1979.6 1299h7.4v7.4h-7.4zM1980.3 1303.7h7.4v7.4h-7.4zM1980.9 1308.1h7.4v7.4h-7.4zM1981.5 1312.6h7.4v7.4h-7.4zM1982.1 1316.4h7.4v7.4h-7.4zM1982.7 1320.6h7.4v7.4h-7.4zM1983.3 1324.3h7.4v7.4h-7.4zM1983.9 1327.4h7.4v7.4h-7.4zM1984.5 1330.9h7.4v7.4h-7.4zM1985.2 1334.3h7.4v7.4h-7.4zM1985.8 1337.2h7.4v7.4h-7.4zM1986.4 1340.3h7.4v7.4h-7.4zM1987 1343.5h7.4v7.4h-7.4zM1987.6 1346.3h7.4v7.4h-7.4zM1988.2 1348.9h7.4v7.4h-7.4zM1988.8 1351.3h7.4v7.4h-7.4zM1989.4 1354h7.4v7.4h-7.4zM1990 1356h7.4v7.4h-7.4zM1990.7 1358h7.4v7.4h-7.4zM1991.3 1360.3h7.4v7.4h-7.4zM1991.9 1362.5h7.4v7.4h-7.4zM1992.5 1364.7h7.4v7.4h-7.4zM1993.1 1366.4h7.4v7.4h-7.4zM1993.7 1368.5h7.4v7.4h-7.4zM1994.3 1370.2h7.4v7.4h-7.4zM1994.9 1372.1h7.4v7.4h-7.4zM1995.6 1374h7.4v7.4h-7.4zM1996.2 1375.4h7.4v7.4h-7.4zM1996.8 1376.6h7.4v7.4h-7.4zM1997.4 1378.2h7.4v7.4h-7.4zM1998 1379.8h7.4v7.4h-7.4zM1998.6 1381h7.4v7.4h-7.4zM1999.2 1382.4h7.4v7.4h-7.4zM1999.8 1383.6h7.4v7.4h-7.4zM2001.1 1385.5h7.4v7.4h-7.4zM2001.7 1386.8h7.4v7.4h-7.4zM2002.9 1388.6h7.4v7.4h-7.4zM2004.1 1390.8h7.4v7.4h-7.4zM2005.4 1393.2h7.4v7.4h-7.4zM2006.6 1394.2h7.4v7.4h-7.4zM2007.2 1395.3h7.4v7.4h-7.4zM2008.4 1397.6h7.4v7.4h-7.4zM2009.6 1398.7h7.4v7.4h-7.4zM2010.9 1400h7.4v7.4h-7.4zM2012.1 1401.4h7.4v7.4h-7.4zM2013.3 1402.7h7.4v7.4h-7.4zM2014.5 1403.4h7.4v7.4h-7.4zM2015.8 1404.2h7.4v7.4h-7.4zM2017 1405.2h7.4v7.4h-7.4zM2018.2 1405.6h7.4v7.4h-7.4zM2019.4 1406.3h7.4v7.4h-7.4z" fill="#000"/>
<rect x="1628.3" y="1106.2" width="428.5" height="347.8" fill="none" stroke="#000" stroke-width="1.6"/>
<path d="M1628.3 1454h7M1628.3 1411.8h7M1628.3 1369.7h7M1628.3 1327.5h7M1628.3 1285.4h7M1628.3 1243.2h7M1628.3 1201.1h7M1628.3 1158.9h7M1628.3 1116.7h7M1628.3 1432.9h3.6M1628.3 1390.8h3.6M1628.3 1348.6h3.6M1628.3 1306.4h3.6M1628.3 1264.3h3.6M1628.3 1222.1h3.6M1628.3 1180h3.6M1628.3 1137.8h3.6M1658.9 1454v-7M1720.1 1454v-7M1781.3 1454v-7M1842.6 1454v-7M1903.8 1454v-7M1965 1454v-7M2026.2 1454v-7M1689.5 1454v-3.6M1750.7 1454v-3.6M1811.9 1454v-3.6M1873.2 1454v-3.6M1934.4 1454v-3.6M1995.6 1454v-3.6" stroke="#000" stroke-width="1.5" fill="none"/>
<text x="1620.7" y="1460.4" font-family="'Liberation Sans', Arial, sans-serif" font-size="22" font-weight="normal" fill="#000" text-anchor="end" >-2</text>
<text x="1620.7" y="1418.2" font-family="'Liberation Sans', Arial, sans-serif" font-size="22" font-weight="normal" fill="#000" text-anchor="end" >0</text>
<text x="1620.7" y="1376.1" font-family="'Liberation Sans', Arial, sans-serif" font-size="22" font-weight="normal" fill="#000" text-anchor="end" >2</text>
<text x="1620.7" y="1333.9" font-family="'Liberation Sans', Arial, sans-serif" font-size="22" font-weight="normal" fill="#000" text-anchor="end" >4</text>
<text x="1620.7" y="1291.7" font-family="'Liberation Sans', Arial, sans-serif" font-size="22" font-weight="normal" fill="#000" text-anchor="end" >6</text>
<text x="1620.7" y="1249.6" font-family="'Liberation Sans', Arial, sans-serif" font-size="22" font-weight="normal" fill="#000" text-anchor="end" >8</text>
<text x="1620.7" y="1207.4" font-family="'Liberation Sans', Arial, sans-serif" font-size="22" font-weight="normal" fill="#000" text-anchor="end" >10</text>
<text x="1620.7" y="1165.3" font-family="'Liberation Sans', Arial, sans-serif" font-size="22" font-weight="normal" fill="#000" text-anchor="end" >12</text>
<text x="1620.7" y="1123.1" font-family="'Liberation Sans', Arial, sans-serif" font-size="22" font-weight="normal" fill="#000" text-anchor="end" >14</text>
<text x="1658.9" y="1479.5" font-family="'Liberation Sans', Arial, sans-serif" font-size="23" font-weight="normal" fill="#000" text-anchor="middle" >0</text>
<text x="1720.1" y="1479.5" font-family="'Liberation Sans', Arial, sans-serif" font-size="23" font-weight="normal" fill="#000" text-anchor="middle" >10</text>
<text x="1781.3" y="1479.5" font-family="'Liberation Sans', Arial, sans-serif" font-size="23" font-weight="normal" fill="#000" text-anchor="middle" >20</text>
<text x="1842.6" y="1479.5" font-family="'Liberation Sans', Arial, sans-serif" font-size="23" font-weight="normal" fill="#000" text-anchor="middle" >30</text>
<text x="1903.8" y="1479.5" font-family="'Liberation Sans', Arial, sans-serif" font-size="23" font-weight="normal" fill="#000" text-anchor="middle" >40</text>
<text x="1965" y="1479.5" font-family="'Liberation Sans', Arial, sans-serif" font-size="23" font-weight="normal" fill="#000" text-anchor="middle" >50</text>
<text x="2026.2" y="1479.5" font-family="'Liberation Sans', Arial, sans-serif" font-size="23" font-weight="normal" fill="#000" text-anchor="middle" >60</text>
<text x="1641.3" y="1145.8" font-family="'Liberation Sans', Arial, sans-serif" font-size="38.5" font-weight="normal" fill="#000" text-anchor="start" ><tspan font-family="&apos;Liberation Serif&apos;, &apos;Times New Roman&apos;, serif">&#955;</tspan><tspan dx="2">=</tspan>10.6 <tspan font-family="&apos;Liberation Serif&apos;, &apos;Times New Roman&apos;, serif">&#956;</tspan>m</text>
<text x="1903" y="1140.8" font-family="'Liberation Sans', Arial, sans-serif" font-size="38.5" font-weight="normal" fill="#000" text-anchor="start" >17 mW</text>
<text x="1798" y="1187.8" font-family="'Liberation Sans', Arial, sans-serif" font-size="38.5" font-weight="normal" fill="#000" text-anchor="start" >15 mW</text>
<text x="1712.9" y="1244.8" font-family="'Liberation Sans', Arial, sans-serif" font-size="38.5" font-weight="normal" fill="#000" text-anchor="start" >8 mW</text>
<text x="1641.2" y="1293.3" font-family="'Liberation Sans', Arial, sans-serif" font-size="38.5" font-weight="normal" fill="#000" text-anchor="start" >6 mW</text>
<text x="1843.3" y="1524" font-family="'Liberation Sans', Arial, sans-serif" font-size="39" font-weight="normal" fill="#000" text-anchor="middle" >Time (s)</text>
<text transform="translate(1582,1277) rotate(-90)" font-family="'Liberation Sans', Arial, sans-serif" font-size="39" text-anchor="middle">Photocurrent (<tspan font-family="&apos;Liberation Serif&apos;, &apos;Times New Roman&apos;, serif">&#956;</tspan>A)</text>
<text x="1550.5" y="1078" font-family="'Liberation Serif', 'Times New Roman', serif" font-size="48.5" font-weight="bold" fill="#000" text-anchor="start" >(k)</text></svg></body></html>
